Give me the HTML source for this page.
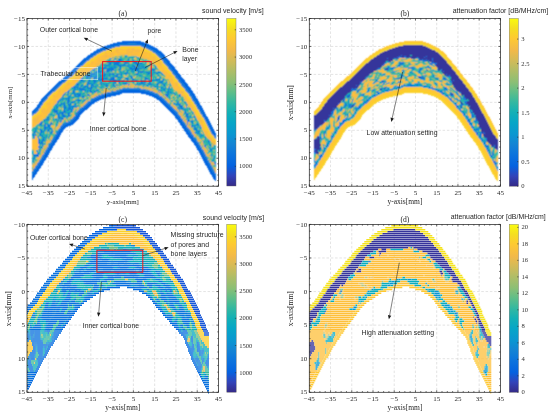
<!DOCTYPE html>
<html><head><meta charset="utf-8"><title>Bone imaging figure</title>
<style>html,body{margin:0;padding:0;background:#fff;}body{width:550px;height:417px;overflow:hidden;}svg{display:block;}</style>
</head><body>
<svg width="550" height="417" viewBox="0 0 550 417"><defs><linearGradient id="cbg" x1="0" y1="0" x2="0" y2="1"><stop offset="0" stop-color="#f9fb0e"/><stop offset="0.06" stop-color="#f5de21"/><stop offset="0.12" stop-color="#fec932"/><stop offset="0.19" stop-color="#f2b949"/><stop offset="0.25" stop-color="#d3bb58"/><stop offset="0.31" stop-color="#b1bd66"/><stop offset="0.38" stop-color="#8bbf75"/><stop offset="0.44" stop-color="#5ebe89"/><stop offset="0.5" stop-color="#33b8a1"/><stop offset="0.56" stop-color="#13b0b6"/><stop offset="0.62" stop-color="#06a6c7"/><stop offset="0.69" stop-color="#0a97d1"/><stop offset="0.75" stop-color="#1484d4"/><stop offset="0.81" stop-color="#0c74dd"/><stop offset="0.88" stop-color="#0462e0"/><stop offset="0.94" stop-color="#3243b9"/><stop offset="1" stop-color="#352a87"/></linearGradient><filter id="soft" x="-3%" y="-3%" width="106%" height="106%"><feConvolveMatrix order="3" kernelMatrix="1 2 1 2 6 2 1 2 1" divisor="18" edgeMode="none"/></filter><filter id="soft2" x="-3%" y="-3%" width="106%" height="106%"><feConvolveMatrix order="3" kernelMatrix="0 1 0 1 8 1 0 1 0" divisor="12" edgeMode="none"/></filter></defs><path d="M48.28 18.5V186.2M69.56 18.5V186.2M90.83 18.5V186.2M112.11 18.5V186.2M133.39 18.5V186.2M154.67 18.5V186.2M175.94 18.5V186.2M197.22 18.5V186.2M27 46.45H218.5M27 74.4H218.5M27 102.35H218.5M27 130.3H218.5M27 158.25H218.5" stroke="#d0d0d0" stroke-width="0.6" stroke-dasharray="2.5 1.8" fill="none"/>
<path d="M330.53 18.5V186.2M351.77 18.5V186.2M373 18.5V186.2M394.23 18.5V186.2M415.47 18.5V186.2M436.7 18.5V186.2M457.93 18.5V186.2M479.17 18.5V186.2M309.3 46.45H500.4M309.3 74.4H500.4M309.3 102.35H500.4M309.3 130.3H500.4M309.3 158.25H500.4" stroke="#d0d0d0" stroke-width="0.6" stroke-dasharray="2.5 1.8" fill="none"/>
<path d="M48.28 224.4V392.3M69.56 224.4V392.3M90.83 224.4V392.3M112.11 224.4V392.3M133.39 224.4V392.3M154.67 224.4V392.3M175.94 224.4V392.3M197.22 224.4V392.3M27 257.98H218.5M27 291.56H218.5M27 325.14H218.5M27 358.72H218.5" stroke="#d0d0d0" stroke-width="0.6" stroke-dasharray="2.5 1.8" fill="none"/>
<path d="M330.53 224.4V392.3M351.77 224.4V392.3M373 224.4V392.3M394.23 224.4V392.3M415.47 224.4V392.3M436.7 224.4V392.3M457.93 224.4V392.3M479.17 224.4V392.3M309.3 257.98H500.4M309.3 291.56H500.4M309.3 325.14H500.4M309.3 358.72H500.4" stroke="#d0d0d0" stroke-width="0.6" stroke-dasharray="2.5 1.8" fill="none"/>
<g stroke-width="1" fill="none" shape-rendering="crispEdges" filter="url(#soft)"><path stroke="#0363e1" d="M122 41.5h19M117 42.5h27M113 43.5h15M136 43.5h11M110 44.5h9M141 44.5h8M107 45.5h8M144 45.5h7M104 46.5h7M147 46.5h6M102 47.5h6M149 47.5h6M100 48.5h6M151 48.5h6M97 49.5h6M153 49.5h5M96 50.5h5M155 50.5h4M94 51.5h5M156 51.5h5M93 52.5h4M157 52.5h5M91 53.5h4M159 53.5h4M90 54.5h4M160 54.5h4M88 55.5h4M161 55.5h4M87 56.5h4M162 56.5h3M86 57.5h4M163 57.5h3M84 58.5h4M163 58.5h4M83 59.5h4M164 59.5h4M82 60.5h4M165 60.5h4M81 61.5h3M166 61.5h4M80 62.5h3M167 62.5h3M79 63.5h3M167 63.5h4M78 64.5h3M168 64.5h4M77 65.5h3M169 65.5h4M76 66.5h3M170 66.5h4M75 67.5h3M171 67.5h4M74 68.5h3M172 68.5h3M73 69.5h3M172 69.5h4M72 70.5h3M173 70.5h4M71 71.5h3M174 71.5h4M70 72.5h3M175 72.5h3M69 73.5h3M175 73.5h4M68 74.5h3M176 74.5h4M67 75.5h3M177 75.5h4M65 76.5h4M178 76.5h3M64 77.5h4M178 77.5h4M63 78.5h4M179 78.5h4M62 79.5h3M180 79.5h4M61 80.5h3M181 80.5h4M59 81.5h4M181 81.5h4M58 82.5h4M182 82.5h4M57 83.5h4M183 83.5h4M56 84.5h3M184 84.5h4M55 85.5h3M185 85.5h3M54 86.5h3M185 86.5h4M53 87.5h3M186 87.5h4M52 88.5h3M187 88.5h4M51 89.5h3M188 89.5h3M50 90.5h3M122 90.5h18M188 90.5h4M49 91.5h3M120 91.5h25M189 91.5h4M48 92.5h3M117 92.5h32M190 92.5h3M47 93.5h3M112 93.5h10M141 93.5h11M191 93.5h3M46 94.5h3M108 94.5h12M146 94.5h8M191 94.5h4M45 95.5h3M104 95.5h12M149 95.5h7M192 95.5h3M44 96.5h3M101 96.5h10M152 96.5h6M193 96.5h3M43 97.5h3M99 97.5h8M154 97.5h5M193 97.5h3M42 98.5h3M97 98.5h7M156 98.5h5M194 98.5h3M41 99.5h3M95 99.5h6M157 99.5h5M194 99.5h4M41 100.5h2M93 100.5h6M159 100.5h4M195 100.5h3M40 101.5h3M92 101.5h5M160 101.5h4M196 101.5h3M39 102.5h3M90 102.5h5M161 102.5h4M196 102.5h3M39 103.5h2M89 103.5h5M162 103.5h4M197 103.5h3M38 104.5h3M88 104.5h4M163 104.5h4M197 104.5h3M37 105.5h3M87 105.5h4M164 105.5h4M198 105.5h3M37 106.5h2M86 106.5h4M165 106.5h4M199 106.5h3M36 107.5h3M85 107.5h4M166 107.5h4M199 107.5h3M35 108.5h3M83 108.5h5M167 108.5h4M200 108.5h3M34 109.5h3M82 109.5h5M168 109.5h4M200 109.5h3M33 110.5h3M81 110.5h4M169 110.5h4M201 110.5h3M32 111.5h3M80 111.5h4M170 111.5h4M202 111.5h2M32 112.5h2M79 112.5h4M171 112.5h4M202 112.5h3M32 113.5h1M78 113.5h4M172 113.5h4M203 113.5h2M78 114.5h3M173 114.5h4M203 114.5h3M77 115.5h3M174 115.5h3M204 115.5h2M76 116.5h4M175 116.5h3M204 116.5h3M76 117.5h3M175 117.5h4M205 117.5h3M75 118.5h4M176 118.5h4M206 118.5h2M74 119.5h4M177 119.5h3M206 119.5h3M73 120.5h4M178 120.5h3M207 120.5h2M72 121.5h4M178 121.5h4M207 121.5h3M71 122.5h4M179 122.5h3M208 122.5h2M69 123.5h5M180 123.5h3M208 123.5h3M66 124.5h7M180 124.5h4M209 124.5h2M64 125.5h7M181 125.5h3M209 125.5h3M63 126.5h5M182 126.5h3M210 126.5h2M62 127.5h4M182 127.5h4M210 127.5h3M61 128.5h4M183 128.5h3M211 128.5h2M61 129.5h3M184 129.5h3M211 129.5h3M60 130.5h3M184 130.5h4M212 130.5h2M59 131.5h4M185 131.5h3M212 131.5h3M59 132.5h3M186 132.5h3M213 132.5h2M58 133.5h3M186 133.5h4M213 133.5h3M58 134.5h3M187 134.5h3M214 134.5h2M57 135.5h3M188 135.5h3M215 135.5h1M56 136.5h4M188 136.5h4M56 137.5h3M189 137.5h4M55 138.5h4M190 138.5h3M55 139.5h3M191 139.5h3M54 140.5h3M191 140.5h4M53 141.5h4M192 141.5h4M53 142.5h3M193 142.5h3M52 143.5h3M194 143.5h3M51 144.5h4M194 144.5h4M51 145.5h3M195 145.5h3M50 146.5h3M196 146.5h3M50 147.5h3M196 147.5h3M49 148.5h3M197 148.5h3M48 149.5h4M197 149.5h4M48 150.5h3M198 150.5h3M47 151.5h3M199 151.5h3M47 152.5h3M199 152.5h3M46 153.5h3M200 153.5h3M45 154.5h4M200 154.5h3M45 155.5h3M201 155.5h3M44 156.5h4M201 156.5h3M44 157.5h3M202 157.5h3M43 158.5h3M202 158.5h4M42 159.5h4M203 159.5h3M42 160.5h3M203 160.5h4M41 161.5h3M204 161.5h3M40 162.5h4M204 162.5h4M40 163.5h3M205 163.5h3M39 164.5h4M205 164.5h4M39 165.5h3M206 165.5h3M38 166.5h3M207 166.5h3M37 167.5h4M207 167.5h3M37 168.5h3M208 168.5h3M36 169.5h3M208 169.5h3M35 170.5h4M209 170.5h3M35 171.5h3M209 171.5h3M34 172.5h3M210 172.5h3M33 173.5h4M210 173.5h4M33 174.5h3M211 174.5h3M32 175.5h3M212 175.5h3M32 176.5h3M212 176.5h4M32 177.5h2M213 177.5h3M32 178.5h1M213 178.5h3M32 179.5h1M214 179.5h2M215 180.5h1"/><path stroke="#1078da" d="M129 57.5h1M133 57.5h1M138 57.5h1M110 58.5h1M115 58.5h1M119 59.5h2M109 60.5h1M118 60.5h4M128 60.5h1M132 60.5h2M111 61.5h3M116 61.5h4M133 61.5h3M145 61.5h1M107 62.5h4M114 62.5h6M125 62.5h3M134 62.5h3M109 63.5h2M114 63.5h5M125 63.5h3M134 63.5h4M139 63.5h3M104 64.5h2M109 64.5h2M114 64.5h5M123 64.5h2M136 64.5h3M106 65.5h3M117 65.5h5M127 65.5h1M132 65.5h3M137 65.5h2M99 66.5h1M114 66.5h1M120 66.5h1M128 66.5h1M133 66.5h2M138 66.5h1M142 66.5h2M146 66.5h1M155 66.5h1M96 67.5h1M99 67.5h1M102 67.5h4M112 67.5h1M114 67.5h3M120 67.5h1M131 67.5h1M134 67.5h4M144 67.5h2M94 68.5h1M98 68.5h3M104 68.5h2M108 68.5h6M120 68.5h1M129 68.5h4M134 68.5h8M144 68.5h1M92 69.5h1M98 69.5h1M103 69.5h1M107 69.5h7M118 69.5h3M131 69.5h2M135 69.5h4M152 69.5h1M154 69.5h2M93 70.5h2M98 70.5h2M102 70.5h1M106 70.5h4M111 70.5h2M114 70.5h1M127 70.5h2M132 70.5h1M136 70.5h2M150 70.5h1M153 70.5h2M90 71.5h1M96 71.5h2M101 71.5h1M106 71.5h3M111 71.5h1M120 71.5h1M123 71.5h1M131 71.5h1M133 71.5h1M138 71.5h3M142 71.5h1M158 71.5h1M90 72.5h1M94 72.5h1M96 72.5h2M99 72.5h3M103 72.5h1M126 72.5h1M138 72.5h1M140 72.5h3M146 72.5h5M154 72.5h2M158 72.5h3M91 73.5h4M103 73.5h1M105 73.5h1M109 73.5h2M112 73.5h2M121 73.5h1M124 73.5h4M136 73.5h2M148 73.5h2M156 73.5h2M161 73.5h1M90 74.5h7M99 74.5h1M104 74.5h1M107 74.5h1M112 74.5h2M117 74.5h5M136 74.5h2M147 74.5h1M162 74.5h1M86 75.5h6M96 75.5h1M100 75.5h1M104 75.5h1M109 75.5h1M115 75.5h3M134 75.5h1M152 75.5h1M83 76.5h1M86 76.5h7M94 76.5h4M100 76.5h1M103 76.5h2M109 76.5h1M116 76.5h2M130 76.5h2M150 76.5h1M82 77.5h1M86 77.5h3M90 77.5h2M94 77.5h3M99 77.5h1M112 77.5h3M118 77.5h2M121 77.5h1M131 77.5h1M145 77.5h1M81 78.5h1M86 78.5h2M90 78.5h1M93 78.5h3M97 78.5h3M102 78.5h5M110 78.5h5M125 78.5h4M131 78.5h2M145 78.5h3M159 78.5h1M80 79.5h3M89 79.5h1M94 79.5h1M97 79.5h2M101 79.5h3M105 79.5h2M109 79.5h6M119 79.5h1M127 79.5h2M132 79.5h2M145 79.5h4M152 79.5h1M156 79.5h1M158 79.5h2M163 79.5h1M79 80.5h4M93 80.5h3M99 80.5h4M110 80.5h1M112 80.5h4M118 80.5h2M122 80.5h2M132 80.5h5M148 80.5h1M151 80.5h2M154 80.5h4M162 80.5h2M84 81.5h1M88 81.5h2M94 81.5h2M113 81.5h3M118 81.5h2M122 81.5h1M141 81.5h2M144 81.5h1M149 81.5h2M161 81.5h2M94 82.5h1M100 82.5h3M115 82.5h1M119 82.5h1M126 82.5h1M133 82.5h1M141 82.5h2M145 82.5h2M149 82.5h1M159 82.5h3M166 82.5h1M76 83.5h1M79 83.5h1M87 83.5h1M90 83.5h1M93 83.5h1M100 83.5h1M113 83.5h3M119 83.5h1M123 83.5h5M137 83.5h1M139 83.5h4M148 83.5h3M158 83.5h1M162 83.5h1M76 84.5h3M87 84.5h3M92 84.5h1M97 84.5h1M101 84.5h1M106 84.5h1M123 84.5h1M126 84.5h1M128 84.5h1M136 84.5h1M144 84.5h2M149 84.5h1M151 84.5h1M157 84.5h2M163 84.5h2M170 84.5h1M77 85.5h2M81 85.5h1M85 85.5h1M88 85.5h1M91 85.5h3M105 85.5h3M113 85.5h1M117 85.5h1M128 85.5h1M135 85.5h1M139 85.5h1M147 85.5h1M163 85.5h2M73 86.5h4M81 86.5h1M84 86.5h2M87 86.5h1M91 86.5h1M94 86.5h2M106 86.5h2M115 86.5h1M143 86.5h1M147 86.5h1M154 86.5h2M157 86.5h2M165 86.5h1M72 87.5h3M76 87.5h1M80 87.5h1M83 87.5h3M87 87.5h2M90 87.5h3M103 87.5h1M169 87.5h1M74 88.5h1M77 88.5h1M79 88.5h4M88 88.5h4M152 88.5h1M161 88.5h1M164 88.5h1M168 88.5h2M74 89.5h2M77 89.5h1M79 89.5h7M90 89.5h2M170 89.5h1M68 90.5h1M73 90.5h1M79 90.5h1M82 90.5h1M84 90.5h2M87 90.5h1M90 90.5h1M159 90.5h3M165 90.5h1M168 90.5h1M67 91.5h2M73 91.5h2M87 91.5h1M90 91.5h2M94 91.5h3M160 91.5h1M167 91.5h2M170 91.5h1M65 92.5h1M68 92.5h1M73 92.5h2M87 92.5h1M90 92.5h2M95 92.5h1M159 92.5h1M167 92.5h1M173 92.5h1M64 93.5h1M74 93.5h1M77 93.5h1M80 93.5h1M168 93.5h1M170 93.5h2M63 94.5h2M67 94.5h1M71 94.5h1M74 94.5h7M87 94.5h2M165 94.5h4M175 94.5h1M179 94.5h1M63 95.5h1M70 95.5h1M74 95.5h2M78 95.5h2M87 95.5h3M165 95.5h3M62 96.5h1M69 96.5h1M77 96.5h3M82 96.5h3M166 96.5h2M179 96.5h2M61 97.5h1M68 97.5h2M82 97.5h2M167 97.5h1M177 97.5h1M63 98.5h1M65 98.5h4M72 98.5h1M60 99.5h1M62 99.5h1M68 99.5h2M77 99.5h2M58 100.5h2M62 100.5h1M68 100.5h2M76 100.5h1M78 100.5h3M84 100.5h1M176 100.5h1M182 100.5h1M57 101.5h2M67 101.5h3M72 101.5h2M57 102.5h1M64 102.5h1M67 102.5h2M71 102.5h3M178 102.5h1M184 102.5h2M61 103.5h1M63 103.5h2M70 103.5h1M75 103.5h1M177 103.5h2M55 104.5h1M60 104.5h2M64 104.5h1M68 104.5h3M74 104.5h2M174 104.5h1M176 104.5h1M178 104.5h1M180 104.5h1M187 104.5h1M55 105.5h1M59 105.5h2M64 105.5h1M68 105.5h2M73 105.5h2M179 105.5h3M186 105.5h1M56 106.5h1M63 106.5h1M69 106.5h1M71 106.5h3M76 106.5h2M180 106.5h3M186 106.5h1M56 107.5h2M64 107.5h3M68 107.5h2M72 107.5h2M75 107.5h2M177 107.5h1M179 107.5h4M54 108.5h1M57 108.5h1M64 108.5h2M68 108.5h3M181 108.5h2M185 108.5h1M189 108.5h2M53 109.5h2M64 109.5h1M68 109.5h6M178 109.5h2M181 109.5h2M53 110.5h5M64 110.5h1M67 110.5h2M71 110.5h2M184 110.5h1M54 111.5h4M64 111.5h2M71 111.5h1M54 112.5h1M56 112.5h2M60 112.5h3M64 112.5h1M70 112.5h1M184 112.5h2M59 113.5h1M61 113.5h2M67 113.5h3M184 113.5h1M186 113.5h2M192 113.5h1M48 114.5h1M57 114.5h3M62 114.5h1M68 114.5h2M186 114.5h2M58 115.5h2M62 115.5h4M68 115.5h2M186 115.5h2M58 116.5h2M62 116.5h4M68 116.5h2M186 116.5h2M190 116.5h1M194 116.5h1M47 117.5h2M53 117.5h1M59 117.5h3M186 117.5h1M190 117.5h1M194 117.5h1M47 118.5h1M58 118.5h2M61 118.5h3M66 118.5h1M188 118.5h1M44 119.5h1M47 119.5h1M56 119.5h1M58 119.5h1M62 119.5h1M186 119.5h1M188 119.5h1M196 119.5h1M44 120.5h1M46 120.5h1M58 120.5h1M61 120.5h1M187 120.5h3M196 120.5h1M41 121.5h1M58 121.5h1M60 121.5h2M187 121.5h2M191 121.5h2M40 122.5h2M51 122.5h1M60 122.5h1M187 122.5h1M191 122.5h1M39 123.5h3M45 123.5h1M50 123.5h2M187 123.5h1M193 123.5h1M197 123.5h1M39 124.5h3M45 124.5h1M47 124.5h2M50 124.5h1M187 124.5h1M197 124.5h1M44 125.5h2M47 125.5h2M50 125.5h1M57 125.5h1M191 125.5h1M195 125.5h1M197 125.5h2M200 125.5h1M44 126.5h2M48 126.5h2M191 126.5h4M44 127.5h2M48 127.5h2M194 127.5h2M197 127.5h1M200 127.5h1M35 128.5h1M37 128.5h1M44 128.5h2M49 128.5h2M194 128.5h2M35 129.5h1M40 129.5h2M44 129.5h2M49 129.5h1M52 129.5h1M194 129.5h3M35 130.5h1M40 130.5h2M44 130.5h1M47 130.5h2M52 130.5h1M196 130.5h2M199 130.5h1M35 131.5h1M40 131.5h2M43 131.5h1M51 131.5h1M198 131.5h1M35 132.5h1M40 132.5h2M51 132.5h1M195 132.5h1M198 132.5h1M33 133.5h1M40 133.5h1M51 133.5h1M195 133.5h1M197 133.5h2M32 134.5h2M35 134.5h1M39 134.5h2M201 134.5h1M33 135.5h1M35 135.5h1M40 135.5h1M34 136.5h1M42 136.5h1M46 136.5h1M49 136.5h1M199 136.5h2M205 136.5h1M34 137.5h1M38 137.5h1M44 137.5h1M46 137.5h1M205 137.5h1M33 138.5h1M38 138.5h1M43 138.5h1M205 138.5h1M38 139.5h2M42 139.5h2M38 140.5h2M42 140.5h2M208 140.5h2M38 141.5h2M41 141.5h2M45 141.5h1M203 141.5h1M208 141.5h1M38 142.5h2M41 142.5h2M208 142.5h1M38 143.5h2M41 143.5h2M42 144.5h1M44 144.5h1M209 144.5h2M42 145.5h1M204 145.5h2M209 145.5h2M38 146.5h2M41 146.5h1M204 146.5h2M38 147.5h2M41 147.5h1M39 148.5h1M42 148.5h1M209 148.5h1M212 148.5h1M39 149.5h1M211 149.5h1M36 150.5h1M210 150.5h2M37 151.5h1M37 152.5h1M37 153.5h2M35 154.5h4M211 154.5h1M34 155.5h5M34 156.5h1M36 156.5h3M34 157.5h1M33 158.5h2M213 158.5h1M33 159.5h1M213 159.5h1M33 160.5h1M214 163.5h1M215 164.5h1M215 165.5h1"/><path stroke="#137fd7" d="M128 43.5h8M119 44.5h22M115 45.5h29M111 46.5h9M141 46.5h6M108 47.5h7M143 47.5h6M106 48.5h6M146 48.5h5M103 49.5h6M148 49.5h5M101 50.5h5M150 50.5h5M99 51.5h4M152 51.5h4M97 52.5h4M153 52.5h4M95 53.5h4M155 53.5h4M94 54.5h3M156 54.5h4M92 55.5h4M157 55.5h4M91 56.5h3M126 56.5h1M158 56.5h4M90 57.5h3M137 57.5h1M159 57.5h4M88 58.5h3M160 58.5h3M87 59.5h3M121 59.5h1M128 59.5h1M161 59.5h3M86 60.5h3M127 60.5h1M162 60.5h3M84 61.5h3M146 61.5h1M163 61.5h3M83 62.5h3M163 62.5h4M82 63.5h3M164 63.5h3M81 64.5h3M129 64.5h1M165 64.5h3M80 65.5h3M104 65.5h1M114 65.5h1M122 65.5h2M149 65.5h1M166 65.5h3M79 66.5h2M135 66.5h1M139 66.5h1M167 66.5h3M78 67.5h2M111 67.5h1M168 67.5h3M77 68.5h2M103 68.5h1M106 68.5h2M133 68.5h1M142 68.5h1M168 68.5h4M76 69.5h2M151 69.5h1M153 69.5h1M169 69.5h3M75 70.5h2M135 70.5h1M138 70.5h1M170 70.5h3M74 71.5h3M141 71.5h1M171 71.5h3M73 72.5h3M95 72.5h1M98 72.5h1M153 72.5h1M172 72.5h3M72 73.5h3M172 73.5h3M71 74.5h3M100 74.5h1M109 74.5h1M173 74.5h3M70 75.5h3M103 75.5h1M114 75.5h1M151 75.5h1M174 75.5h3M69 76.5h3M115 76.5h1M175 76.5h3M68 77.5h2M111 77.5h1M160 77.5h1M175 77.5h3M67 78.5h2M82 78.5h1M107 78.5h1M176 78.5h3M65 79.5h3M99 79.5h2M157 79.5h1M177 79.5h3M64 80.5h3M89 80.5h1M111 80.5h1M141 80.5h1M178 80.5h3M63 81.5h3M82 81.5h1M90 81.5h1M97 81.5h1M116 81.5h1M123 81.5h1M136 81.5h1M159 81.5h1M178 81.5h3M62 82.5h3M81 82.5h1M87 82.5h1M95 82.5h1M179 82.5h3M61 83.5h2M77 83.5h1M88 83.5h1M91 83.5h1M94 83.5h1M103 83.5h1M161 83.5h1M180 83.5h3M59 84.5h3M100 84.5h1M104 84.5h1M113 84.5h1M181 84.5h3M58 85.5h3M82 85.5h1M114 85.5h1M181 85.5h4M57 86.5h3M78 86.5h1M86 86.5h1M93 86.5h1M113 86.5h1M169 86.5h1M182 86.5h3M56 87.5h3M77 87.5h1M96 87.5h1M183 87.5h3M55 88.5h3M83 88.5h1M122 88.5h19M157 88.5h1M184 88.5h3M54 89.5h3M97 89.5h1M119 89.5h27M164 89.5h1M168 89.5h1M185 89.5h3M53 90.5h3M96 90.5h1M98 90.5h1M116 90.5h6M140 90.5h10M164 90.5h1M185 90.5h3M52 91.5h3M111 91.5h9M145 91.5h8M158 91.5h1M186 91.5h3M51 92.5h2M92 92.5h1M107 92.5h10M149 92.5h6M187 92.5h3M50 93.5h2M83 93.5h2M104 93.5h8M152 93.5h5M188 93.5h3M49 94.5h2M68 94.5h1M101 94.5h7M154 94.5h5M180 94.5h1M189 94.5h2M48 95.5h2M98 95.5h6M156 95.5h4M179 95.5h1M189 95.5h3M47 96.5h2M75 96.5h2M96 96.5h5M158 96.5h4M190 96.5h3M46 97.5h2M73 97.5h1M94 97.5h5M159 97.5h4M191 97.5h2M45 98.5h3M60 98.5h1M69 98.5h1M92 98.5h5M161 98.5h3M191 98.5h3M44 99.5h3M59 99.5h1M91 99.5h4M162 99.5h3M192 99.5h2M43 100.5h3M67 100.5h1M77 100.5h1M90 100.5h3M163 100.5h3M192 100.5h3M43 101.5h2M88 101.5h4M164 101.5h3M178 101.5h1M193 101.5h3M42 102.5h2M58 102.5h1M87 102.5h3M165 102.5h3M194 102.5h2M41 103.5h2M67 103.5h1M86 103.5h3M166 103.5h3M194 103.5h3M41 104.5h2M63 104.5h1M85 104.5h3M167 104.5h3M195 104.5h2M40 105.5h2M65 105.5h1M84 105.5h3M168 105.5h3M178 105.5h1M196 105.5h2M39 106.5h2M64 106.5h1M83 106.5h3M169 106.5h3M196 106.5h3M39 107.5h2M81 107.5h4M170 107.5h3M178 107.5h1M197 107.5h2M38 108.5h2M80 108.5h3M171 108.5h3M197 108.5h3M37 109.5h2M79 109.5h3M172 109.5h3M190 109.5h1M198 109.5h2M36 110.5h3M63 110.5h1M66 110.5h1M78 110.5h3M173 110.5h3M199 110.5h2M35 111.5h3M63 111.5h1M77 111.5h3M174 111.5h3M199 111.5h3M34 112.5h3M55 112.5h1M59 112.5h1M63 112.5h1M65 112.5h1M76 112.5h3M175 112.5h3M193 112.5h1M200 112.5h2M33 113.5h3M57 113.5h1M65 113.5h1M76 113.5h2M176 113.5h2M200 113.5h3M32 114.5h2M56 114.5h1M63 114.5h1M75 114.5h3M177 114.5h2M188 114.5h1M201 114.5h2M32 115.5h1M75 115.5h2M177 115.5h3M202 115.5h2M48 116.5h1M74 116.5h2M178 116.5h3M188 116.5h2M202 116.5h2M58 117.5h1M64 117.5h1M73 117.5h3M179 117.5h2M187 117.5h1M203 117.5h2M48 118.5h1M72 118.5h3M180 118.5h2M204 118.5h2M45 119.5h1M48 119.5h1M61 119.5h1M71 119.5h3M180 119.5h3M204 119.5h2M48 120.5h1M56 120.5h1M70 120.5h3M181 120.5h2M205 120.5h2M68 121.5h4M182 121.5h2M205 121.5h2M57 122.5h1M65 122.5h6M182 122.5h3M206 122.5h2M63 123.5h6M183 123.5h2M206 123.5h2M44 124.5h1M51 124.5h1M57 124.5h1M62 124.5h4M184 124.5h2M196 124.5h1M207 124.5h2M41 125.5h1M49 125.5h1M61 125.5h3M184 125.5h3M207 125.5h2M60 126.5h3M185 126.5h2M200 126.5h1M208 126.5h2M37 127.5h1M46 127.5h1M60 127.5h2M186 127.5h2M208 127.5h2M51 128.5h1M59 128.5h2M186 128.5h3M209 128.5h2M48 129.5h1M58 129.5h3M187 129.5h3M209 129.5h2M58 130.5h2M188 130.5h2M210 130.5h2M42 131.5h1M47 131.5h1M57 131.5h2M188 131.5h3M199 131.5h1M210 131.5h2M34 132.5h1M52 132.5h1M56 132.5h3M189 132.5h3M196 132.5h1M211 132.5h2M56 133.5h2M190 133.5h2M211 133.5h2M55 134.5h3M190 134.5h3M199 134.5h1M212 134.5h2M42 135.5h1M55 135.5h2M191 135.5h3M213 135.5h2M54 136.5h2M192 136.5h2M214 136.5h2M43 137.5h1M53 137.5h3M193 137.5h2M214 137.5h2M53 138.5h2M193 138.5h3M215 138.5h1M52 139.5h3M194 139.5h3M205 139.5h1M51 140.5h3M195 140.5h2M51 141.5h2M196 141.5h2M50 142.5h3M196 142.5h3M40 143.5h1M49 143.5h3M197 143.5h2M49 144.5h2M198 144.5h2M48 145.5h3M198 145.5h3M48 146.5h2M199 146.5h2M47 147.5h3M199 147.5h3M212 147.5h1M47 148.5h2M200 148.5h2M46 149.5h2M201 149.5h2M45 150.5h3M201 150.5h3M45 151.5h2M202 151.5h2M44 152.5h3M202 152.5h3M44 153.5h2M203 153.5h2M43 154.5h2M203 154.5h3M33 155.5h1M42 155.5h3M204 155.5h2M42 156.5h2M204 156.5h3M41 157.5h3M205 157.5h2M41 158.5h2M206 158.5h2M40 159.5h2M206 159.5h2M39 160.5h3M207 160.5h2M32 161.5h1M39 161.5h2M207 161.5h2M38 162.5h2M208 162.5h2M215 162.5h1M37 163.5h3M208 163.5h3M215 163.5h1M37 164.5h2M209 164.5h2M36 165.5h3M209 165.5h3M35 166.5h3M210 166.5h2M35 167.5h2M210 167.5h3M34 168.5h3M211 168.5h2M33 169.5h3M211 169.5h3M33 170.5h2M212 170.5h2M32 171.5h3M212 171.5h3M32 172.5h2M213 172.5h2M32 173.5h1M214 173.5h2M32 174.5h1M214 174.5h2M215 175.5h1"/><path stroke="#1485d4" d="M124 62.5h1M143 64.5h1M124 65.5h1M139 65.5h1M106 66.5h1M109 66.5h1M127 66.5h1M119 67.5h1M130 67.5h1M114 68.5h1M93 69.5h2M134 69.5h1M98 71.5h1M143 71.5h1M100 73.5h1M116 73.5h1M139 75.5h2M100 77.5h1M132 77.5h1M120 78.5h1M126 79.5h1M145 80.5h1M93 81.5h1M160 81.5h1M80 82.5h1M88 82.5h1M144 82.5h1M150 82.5h1M108 83.5h1M157 83.5h1M137 84.5h1M152 84.5h1M96 86.5h1M153 86.5h1M78 87.5h1M100 87.5h1M162 87.5h1M75 88.5h1M165 88.5h1M98 89.5h1M74 90.5h1M81 90.5h1M93 90.5h1M73 93.5h1M167 93.5h1M174 93.5h1M174 94.5h1M80 95.5h1M62 97.5h1M66 99.5h1M169 99.5h1M83 101.5h1M172 101.5h1M177 102.5h1M62 103.5h1M174 103.5h1M175 104.5h1M179 104.5h1M179 106.5h1M63 107.5h1M70 107.5h1M177 108.5h1M179 111.5h1M63 113.5h1M50 114.5h1M61 114.5h1M67 116.5h1M55 119.5h1M191 120.5h2M44 121.5h1M47 129.5h1M34 131.5h1M52 131.5h1M34 135.5h1M202 135.5h1M49 137.5h1M46 138.5h1M44 139.5h1M203 142.5h1M39 144.5h1M214 145.5h1M214 146.5h1M215 148.5h1M40 151.5h1M211 155.5h1M211 156.5h1M211 161.5h1"/><path stroke="#118dd2" d="M126 55.5h1M118 59.5h1M101 63.5h1M124 63.5h1M141 64.5h1M101 65.5h1M125 65.5h1M119 66.5h1M141 66.5h1M129 67.5h1M143 67.5h1M155 67.5h1M99 69.5h1M133 69.5h1M99 71.5h1M104 71.5h1M104 73.5h1M138 73.5h1M126 74.5h1M148 74.5h1M152 74.5h1M157 74.5h1M105 75.5h1M142 76.5h1M93 77.5h1M106 77.5h1M101 78.5h1M121 78.5h1M88 79.5h1M103 80.5h1M116 80.5h1M83 81.5h1M143 81.5h1M116 85.5h1M156 87.5h1M161 87.5h1M102 88.5h1M163 89.5h1M89 90.5h1M168 92.5h1M68 93.5h1M85 100.5h1M57 103.5h1M56 104.5h1M70 105.5h1M65 106.5h1M74 106.5h1M186 107.5h1M184 109.5h1M189 109.5h1M186 112.5h1M42 122.5h1M192 122.5h1M39 125.5h1M192 125.5h1M201 127.5h1M49 131.5h1M37 132.5h1M41 135.5h1M46 135.5h1M201 135.5h1M44 140.5h1M210 148.5h1M33 154.5h1M215 154.5h1M214 156.5h1"/><path stroke="#0b95d2" d="M115 59.5h1M113 62.5h1M137 62.5h1M108 64.5h1M113 64.5h1M112 65.5h1M98 67.5h1M97 70.5h1M151 70.5h1M146 71.5h1M89 74.5h1M110 74.5h2M159 75.5h1M101 76.5h1M110 76.5h1M139 76.5h1M141 78.5h1M144 78.5h1M115 79.5h1M155 79.5h1M158 80.5h1M118 82.5h1M78 83.5h1M106 83.5h1M144 83.5h1M98 84.5h1M129 84.5h1M146 84.5h1M150 85.5h1M160 87.5h1M87 88.5h1M163 88.5h1M79 93.5h1M82 95.5h1M68 96.5h1M71 96.5h1M80 96.5h1M64 99.5h1M60 100.5h1M74 101.5h1M78 101.5h1M79 103.5h1M57 104.5h1M57 106.5h1M69 112.5h1M50 115.5h1M192 117.5h1M195 117.5h1M60 118.5h1M46 119.5h1M47 126.5h1M46 128.5h1M196 128.5h1M193 129.5h1M197 131.5h1M194 132.5h1M201 136.5h1M206 141.5h1M209 141.5h1M39 145.5h1M209 149.5h1M39 150.5h1M213 157.5h1M214 162.5h1"/><path stroke="#079ccf" d="M130 57.5h1M111 58.5h1M119 58.5h1M114 59.5h1M114 61.5h1M120 61.5h1M140 62.5h1M145 63.5h1M140 66.5h1M156 67.5h1M95 68.5h1M102 68.5h1M100 70.5h1M145 71.5h1M121 72.5h1M127 72.5h1M157 72.5h1M128 73.5h2M162 73.5h1M127 81.5h1M129 82.5h1M82 84.5h1M91 84.5h1M103 84.5h1M156 85.5h1M152 86.5h1M112 87.5h1M96 88.5h1M69 90.5h1M88 90.5h1M69 91.5h1M72 92.5h1M78 93.5h1M88 99.5h1M75 101.5h1M77 102.5h1M68 103.5h1M71 103.5h1M59 104.5h1M58 106.5h1M70 106.5h1M184 108.5h1M67 109.5h1M185 110.5h1M185 111.5h1M56 113.5h1M56 118.5h1M189 121.5h1M199 127.5h1M198 130.5h1M33 132.5h1M42 132.5h2M44 133.5h1M50 133.5h1M43 144.5h1M37 150.5h1M34 154.5h1M33 156.5h1M214 158.5h1M213 161.5h1"/><path stroke="#06a2cb" d="M108 61.5h1M111 63.5h1M126 65.5h1M128 65.5h1M126 68.5h1M152 70.5h1M105 71.5h1M109 71.5h1M106 72.5h1M144 72.5h1M152 72.5h1M96 73.5h1M88 74.5h1M105 74.5h1M121 75.5h1M93 76.5h1M155 77.5h1M83 79.5h1M162 79.5h1M92 81.5h1M96 81.5h1M117 81.5h1M145 81.5h1M108 82.5h1M139 82.5h1M162 82.5h1M89 83.5h1M142 84.5h2M150 84.5h1M156 84.5h1M148 85.5h1M80 86.5h1M102 86.5h2M75 87.5h1M162 88.5h1M93 89.5h1M80 90.5h1M72 91.5h1M170 92.5h1M67 95.5h1M169 97.5h1M63 99.5h1M176 103.5h1M56 105.5h1M71 107.5h1M186 110.5h1M52 114.5h1M53 115.5h1M195 116.5h1M53 118.5h1M47 127.5h1M50 129.5h1M197 129.5h1M50 132.5h1M199 133.5h1M33 136.5h1M34 138.5h1M44 138.5h1M32 151.5h1M210 151.5h1M32 152.5h1M32 153.5h1M213 160.5h1M212 161.5h1"/><path stroke="#06a7c5" d="M125 56.5h1M120 58.5h1M108 60.5h1M129 60.5h1M136 61.5h1M113 63.5h1M138 63.5h1M142 63.5h1M122 64.5h1M128 64.5h1M110 66.5h1M121 66.5h1M132 66.5h1M110 67.5h1M146 67.5h1M130 69.5h1M119 71.5h1M127 71.5h1M120 72.5h1M117 73.5h1M86 74.5h1M103 74.5h1M153 74.5h1M130 75.5h1M158 75.5h1M107 76.5h1M90 80.5h1M109 80.5h1M142 80.5h1M153 80.5h1M85 81.5h1M151 81.5h1M158 82.5h1M165 82.5h1M93 84.5h1M141 84.5h1M169 84.5h1M98 86.5h1M72 88.5h1M109 89.5h1M163 90.5h1M81 91.5h1M89 91.5h1M169 91.5h1M67 92.5h1M94 92.5h1M72 93.5h1M76 93.5h1M79 99.5h1M85 99.5h1M64 101.5h1M173 103.5h1M186 104.5h1M78 105.5h1M56 108.5h1M66 108.5h1M53 111.5h1M68 112.5h1M188 117.5h1M44 122.5h1M191 123.5h2M193 125.5h1M56 126.5h1M197 132.5h1M43 134.5h1M39 135.5h1M38 136.5h1M41 136.5h1M33 137.5h1M37 137.5h1M42 147.5h1M208 151.5h1M32 162.5h1"/><path stroke="#09acbe" d="M120 57.5h1M126 57.5h1M117 60.5h1M121 61.5h1M132 63.5h1M142 64.5h1M147 66.5h1M145 68.5h1M151 68.5h1M157 68.5h1M123 70.5h1M91 71.5h1M100 71.5h1M132 71.5h1M91 72.5h1M133 72.5h1M156 72.5h1M150 73.5h1M93 75.5h2M113 75.5h1M120 75.5h1M162 75.5h1M140 76.5h1M103 77.5h1M122 77.5h1M126 77.5h1M96 78.5h1M139 79.5h1M154 79.5h1M88 80.5h1M96 80.5h1M159 80.5h1M87 81.5h1M153 81.5h1M84 82.5h1M93 82.5h1M132 82.5h1M104 83.5h1M109 83.5h1M143 83.5h1M151 83.5h1M90 84.5h1M148 84.5h1M110 85.5h1M138 85.5h1M140 85.5h1M143 85.5h1M154 85.5h1M88 86.5h1M90 86.5h1M71 87.5h1M115 87.5h1M73 88.5h1M104 88.5h1M97 90.5h1M99 91.5h1M171 92.5h1M77 95.5h1M70 97.5h1M171 101.5h1M182 101.5h1M177 104.5h1M61 105.5h1M75 105.5h1M54 107.5h1M71 108.5h2M55 109.5h1M60 111.5h1M67 112.5h1M60 113.5h1M194 115.5h1M187 119.5h1M53 120.5h1M195 120.5h1M190 121.5h1M47 123.5h1M196 123.5h1M198 124.5h1M36 125.5h1M194 125.5h1M40 128.5h1M200 128.5h1M45 130.5h1M195 130.5h1M44 131.5h1M47 132.5h1M35 133.5h1M202 134.5h1M208 139.5h1M205 140.5h1M208 143.5h2M42 146.5h1M205 147.5h1M210 147.5h1M212 149.5h1M33 151.5h1M39 151.5h1M215 151.5h1"/><path stroke="#12afb7" d="M136 56.5h1M121 57.5h1M132 57.5h1M124 59.5h1M133 59.5h1M144 61.5h1M111 62.5h1M119 63.5h1M133 63.5h1M111 64.5h1M120 64.5h1M139 64.5h2M109 65.5h1M113 65.5h1M141 65.5h2M155 65.5h1M105 66.5h1M108 66.5h1M111 66.5h1M115 66.5h1M129 66.5h1M148 66.5h1M106 67.5h1M132 67.5h1M142 67.5h1M115 68.5h1M119 68.5h1M152 68.5h1M92 70.5h1M110 70.5h1M113 70.5h1M144 71.5h1M104 72.5h1M132 72.5h1M143 72.5h1M145 72.5h1M146 73.5h1M151 73.5h1M106 74.5h1M134 74.5h2M138 74.5h1M95 75.5h1M98 75.5h1M113 76.5h1M121 76.5h1M141 76.5h1M89 77.5h1M117 77.5h1M125 77.5h1M146 77.5h1M117 78.5h1M133 78.5h1M149 78.5h1M158 78.5h1M163 78.5h1M86 79.5h1M104 79.5h1M140 80.5h1M149 80.5h1M81 81.5h1M152 81.5h1M157 81.5h1M163 81.5h1M166 81.5h1M91 82.5h1M104 82.5h1M109 82.5h2M114 82.5h1M120 82.5h1M140 82.5h1M152 83.5h1M159 83.5h1M75 85.5h1M157 85.5h1M165 85.5h1M171 85.5h1M150 87.5h1M88 89.5h1M171 89.5h1M83 90.5h1M162 90.5h1M66 92.5h1M78 92.5h1M93 92.5h1M100 92.5h1M169 92.5h1M172 92.5h1M71 93.5h1M82 94.5h1M168 95.5h1M180 95.5h1M170 97.5h1M173 97.5h1M61 98.5h1M67 99.5h1M75 100.5h1M82 100.5h1M171 100.5h1M79 101.5h1M176 101.5h1M186 102.5h1M186 103.5h1M65 104.5h1M63 105.5h1M175 105.5h2M68 106.5h1M52 109.5h1M65 109.5h1M187 110.5h1M69 111.5h1M189 112.5h1M52 113.5h1M51 114.5h1M48 115.5h1M52 115.5h1M185 115.5h1M63 117.5h1M47 120.5h1M199 123.5h1M196 125.5h1M33 127.5h1M50 127.5h1M47 128.5h1M36 130.5h1M42 130.5h1M49 130.5h1M39 133.5h1M41 133.5h1M47 133.5h1M197 134.5h1M32 135.5h1M49 135.5h1M43 136.5h1M43 141.5h1M40 142.5h1M209 142.5h1M44 143.5h1M210 146.5h1M213 148.5h1M210 149.5h1M215 149.5h1M33 152.5h1M211 157.5h1M214 157.5h1M32 158.5h1"/><path stroke="#1eb3ae" d="M125 55.5h1M119 56.5h1M135 56.5h1M118 58.5h1M129 58.5h1M138 58.5h1M109 59.5h1M123 59.5h1M143 59.5h1M122 60.5h1M131 60.5h1M144 60.5h1M107 61.5h1M122 61.5h1M125 61.5h1M133 62.5h1M141 62.5h1M145 62.5h1M100 64.5h1M119 64.5h1M121 64.5h1M125 64.5h1M144 64.5h1M154 64.5h1M105 65.5h1M115 65.5h2M129 65.5h1M131 65.5h1M143 65.5h1M150 65.5h2M153 65.5h2M112 66.5h2M118 66.5h1M123 66.5h1M131 66.5h1M145 66.5h1M154 66.5h1M109 67.5h1M113 67.5h1M128 67.5h1M138 67.5h1M140 67.5h1M101 68.5h1M146 68.5h1M102 69.5h1M128 69.5h1M115 70.5h1M133 70.5h1M143 70.5h1M102 71.5h1M126 71.5h1M155 71.5h1M159 71.5h1M125 72.5h1M90 73.5h1M97 73.5h1M118 73.5h1M122 73.5h1M147 73.5h1M152 73.5h1M102 74.5h1M116 74.5h1M125 74.5h1M146 74.5h1M149 74.5h1M154 74.5h1M156 74.5h1M92 75.5h1M99 75.5h1M102 75.5h1M108 75.5h1M110 75.5h1M131 75.5h1M138 75.5h1M150 75.5h1M163 75.5h1M99 76.5h1M108 76.5h1M112 76.5h1M118 76.5h2M147 76.5h1M154 76.5h2M159 76.5h1M85 77.5h1M98 77.5h1M102 77.5h1M104 77.5h1M107 77.5h1M120 77.5h1M141 77.5h1M153 77.5h1M152 78.5h1M160 78.5h1M124 79.5h1M138 79.5h1M140 79.5h1M151 79.5h1M153 79.5h1M107 80.5h1M117 80.5h1M120 80.5h2M79 81.5h1M91 81.5h1M100 81.5h2M110 81.5h1M128 81.5h1M132 81.5h2M140 81.5h1M156 81.5h1M79 82.5h1M89 82.5h1M113 82.5h1M125 82.5h1M138 82.5h1M92 83.5h1M102 83.5h1M110 83.5h1M156 83.5h1M160 83.5h1M165 83.5h2M86 84.5h1M96 84.5h1M105 84.5h1M107 84.5h1M122 84.5h1M124 84.5h1M134 84.5h2M138 84.5h1M140 84.5h1M154 84.5h1M162 84.5h1M165 84.5h1M76 85.5h1M86 85.5h1M108 85.5h1M144 85.5h1M77 86.5h1M100 86.5h1M114 86.5h1M142 86.5h1M148 86.5h1M156 86.5h1M164 86.5h1M101 87.5h2M106 87.5h1M155 87.5h1M158 87.5h1M165 87.5h1M168 87.5h1M78 88.5h1M84 88.5h1M92 88.5h1M95 88.5h1M109 88.5h1M166 88.5h1M73 89.5h1M76 89.5h1M87 89.5h1M158 89.5h1M162 89.5h1M167 89.5h1M91 90.5h2M94 90.5h1M167 90.5h1M88 91.5h1M165 91.5h2M75 92.5h1M80 92.5h2M86 92.5h1M165 92.5h2M67 93.5h1M81 93.5h1M169 94.5h1M62 95.5h1M69 95.5h1M83 95.5h1M90 95.5h1M70 96.5h1M63 97.5h1M67 97.5h1M77 97.5h2M64 98.5h1M73 98.5h1M168 98.5h1M177 98.5h1M61 99.5h1M83 99.5h2M66 100.5h1M83 100.5h1M175 100.5h1M80 101.5h1M63 102.5h1M74 102.5h1M60 103.5h1M76 103.5h1M78 103.5h1M82 103.5h1M180 103.5h1M58 105.5h1M177 105.5h1M60 106.5h1M75 106.5h1M176 106.5h1M53 107.5h1M55 107.5h1M55 108.5h1M73 108.5h1M186 108.5h1M56 109.5h2M66 109.5h1M187 109.5h1M60 110.5h1M65 110.5h1M70 110.5h1M179 110.5h1M59 111.5h1M67 111.5h1M72 111.5h1M184 111.5h1M192 111.5h1M66 112.5h1M71 112.5h1M192 112.5h1M58 113.5h1M189 113.5h1M49 114.5h1M66 115.5h1M66 116.5h1M185 116.5h1M62 117.5h1M45 118.5h1M196 118.5h1M53 119.5h1M59 119.5h1M189 119.5h1M195 119.5h1M53 121.5h1M56 121.5h2M193 122.5h1M57 123.5h1M37 124.5h1M195 124.5h1M42 125.5h1M41 126.5h1M195 126.5h1M197 126.5h1M34 127.5h2M33 128.5h1M193 128.5h1M199 128.5h1M32 129.5h1M36 129.5h1M39 129.5h1M32 130.5h1M33 131.5h1M196 131.5h1M202 131.5h1M38 132.5h1M44 132.5h1M203 132.5h1M203 133.5h1M41 134.5h2M44 134.5h1M36 135.5h1M199 135.5h2M44 136.5h1M202 136.5h1M41 137.5h1M48 138.5h1M200 138.5h2M40 140.5h2M207 142.5h1M40 144.5h1M45 144.5h1M206 144.5h1M40 147.5h1M208 147.5h1M213 147.5h2M41 148.5h1M211 148.5h1M214 148.5h1M32 150.5h1M40 150.5h1M215 150.5h1M209 151.5h1M211 151.5h2M39 152.5h2M211 152.5h1M33 153.5h1M207 153.5h1M209 155.5h1M215 155.5h1M35 156.5h1M33 157.5h1M214 159.5h1M215 161.5h1"/><path stroke="#2bb6a6" d="M115 56.5h1M120 56.5h1M127 56.5h1M131 56.5h3M124 57.5h2M128 57.5h1M131 57.5h1M136 57.5h1M109 58.5h1M114 58.5h1M116 58.5h1M121 58.5h2M128 58.5h1M131 58.5h2M137 58.5h1M139 58.5h1M110 59.5h1M127 59.5h1M129 59.5h1M132 59.5h1M138 59.5h2M142 59.5h1M105 60.5h1M107 60.5h1M110 60.5h1M112 60.5h2M116 60.5h1M123 60.5h1M126 60.5h1M134 60.5h1M136 60.5h1M138 60.5h1M145 60.5h1M148 60.5h1M109 61.5h2M115 61.5h1M123 61.5h2M126 61.5h1M128 61.5h1M132 61.5h1M137 61.5h2M143 61.5h1M112 62.5h1M128 62.5h1M132 62.5h1M139 62.5h1M142 62.5h1M146 62.5h1M108 63.5h1M112 63.5h1M120 63.5h2M128 63.5h2M131 63.5h1M143 63.5h2M150 63.5h1M102 64.5h2M107 64.5h1M130 64.5h4M135 64.5h1M145 64.5h1M150 64.5h1M102 65.5h1M110 65.5h2M130 65.5h1M136 65.5h1M140 65.5h1M144 65.5h1M148 65.5h1M152 65.5h1M98 66.5h1M100 66.5h1M104 66.5h1M107 66.5h1M116 66.5h1M122 66.5h1M124 66.5h1M126 66.5h1M130 66.5h1M144 66.5h1M149 66.5h1M156 66.5h1M97 67.5h1M100 67.5h2M108 67.5h1M117 67.5h1M121 67.5h1M133 67.5h1M139 67.5h1M141 67.5h1M147 67.5h1M97 68.5h1M125 68.5h1M143 68.5h1M147 68.5h1M153 68.5h4M97 69.5h1M104 69.5h1M115 69.5h1M121 69.5h1M127 69.5h1M129 69.5h1M140 69.5h2M143 69.5h3M156 69.5h1M158 69.5h1M91 70.5h1M101 70.5h1M103 70.5h1M116 70.5h1M118 70.5h1M120 70.5h1M124 70.5h3M129 70.5h3M134 70.5h1M139 70.5h1M144 70.5h1M149 70.5h1M94 71.5h1M103 71.5h1M110 71.5h1M116 71.5h1M121 71.5h2M124 71.5h1M128 71.5h1M130 71.5h1M134 71.5h4M147 71.5h2M150 71.5h5M157 71.5h1M88 72.5h2M107 72.5h2M115 72.5h1M119 72.5h1M122 72.5h3M131 72.5h1M134 72.5h1M137 72.5h1M139 72.5h1M161 72.5h1M88 73.5h1M95 73.5h1M98 73.5h1M106 73.5h1M108 73.5h1M111 73.5h1M114 73.5h2M123 73.5h1M132 73.5h2M141 73.5h1M143 73.5h2M153 73.5h2M158 73.5h3M87 74.5h1M97 74.5h2M101 74.5h1M108 74.5h1M114 74.5h1M122 74.5h3M129 74.5h1M132 74.5h1M139 74.5h2M142 74.5h2M145 74.5h1M151 74.5h1M161 74.5h1M85 75.5h1M97 75.5h1M101 75.5h1M106 75.5h2M112 75.5h1M122 75.5h1M125 75.5h1M129 75.5h1M136 75.5h1M141 75.5h2M146 75.5h4M154 75.5h1M157 75.5h1M164 75.5h1M84 76.5h2M98 76.5h1M105 76.5h2M120 76.5h1M122 76.5h1M128 76.5h2M132 76.5h1M136 76.5h2M143 76.5h3M149 76.5h1M151 76.5h1M153 76.5h1M157 76.5h2M160 76.5h1M83 77.5h1M92 77.5h1M101 77.5h1M105 77.5h1M116 77.5h1M123 77.5h2M127 77.5h2M130 77.5h1M144 77.5h1M148 77.5h2M152 77.5h1M154 77.5h1M156 77.5h1M161 77.5h1M83 78.5h1M85 78.5h1M88 78.5h2M100 78.5h1M108 78.5h1M118 78.5h2M142 78.5h1M148 78.5h1M150 78.5h1M153 78.5h1M155 78.5h2M164 78.5h1M85 79.5h1M87 79.5h1M90 79.5h1M92 79.5h2M95 79.5h1M107 79.5h2M116 79.5h3M120 79.5h1M125 79.5h1M129 79.5h1M134 79.5h4M141 79.5h1M144 79.5h1M149 79.5h1M160 79.5h1M165 79.5h1M83 80.5h3M91 80.5h2M97 80.5h2M106 80.5h1M108 80.5h1M124 80.5h1M126 80.5h1M128 80.5h1M131 80.5h1M137 80.5h1M143 80.5h2M150 80.5h1M160 80.5h1M164 80.5h1M78 81.5h1M80 81.5h1M86 81.5h1M98 81.5h2M109 81.5h1M112 81.5h1M121 81.5h1M124 81.5h1M126 81.5h1M131 81.5h1M138 81.5h1M154 81.5h1M158 81.5h1M77 82.5h1M82 82.5h2M90 82.5h1M92 82.5h1M96 82.5h1M103 82.5h1M105 82.5h3M111 82.5h2M122 82.5h3M134 82.5h1M136 82.5h2M143 82.5h1M157 82.5h1M164 82.5h1M167 82.5h1M80 83.5h2M95 83.5h2M101 83.5h1M105 83.5h1M107 83.5h1M112 83.5h1M116 83.5h1M120 83.5h1M122 83.5h1M133 83.5h1M136 83.5h1M138 83.5h1M147 83.5h1M153 83.5h2M163 83.5h2M170 83.5h1M75 84.5h1M79 84.5h1M81 84.5h1M94 84.5h2M102 84.5h1M108 84.5h1M111 84.5h2M114 84.5h1M117 84.5h1M120 84.5h1M125 84.5h1M139 84.5h1M147 84.5h1M153 84.5h1M80 85.5h1M83 85.5h1M87 85.5h1M95 85.5h3M100 85.5h5M111 85.5h2M118 85.5h4M146 85.5h1M151 85.5h1M153 85.5h1M161 85.5h1M167 85.5h1M82 86.5h2M92 86.5h1M97 86.5h1M99 86.5h1M101 86.5h1M105 86.5h1M110 86.5h1M112 86.5h1M119 86.5h1M151 86.5h1M159 86.5h5M79 87.5h1M82 87.5h1M86 87.5h1M89 87.5h1M93 87.5h3M99 87.5h1M110 87.5h2M151 87.5h1M154 87.5h1M157 87.5h1M163 87.5h1M172 87.5h1M71 88.5h1M85 88.5h2M94 88.5h1M100 88.5h2M108 88.5h1M110 88.5h2M158 88.5h1M160 88.5h1M167 88.5h1M170 88.5h1M172 88.5h1M70 89.5h2M78 89.5h1M86 89.5h1M89 89.5h1M96 89.5h1M99 89.5h1M102 89.5h1M108 89.5h1M156 89.5h2M159 89.5h3M165 89.5h1M169 89.5h1M172 89.5h1M75 90.5h2M78 90.5h1M86 90.5h1M95 90.5h1M158 90.5h1M169 90.5h4M79 91.5h2M84 91.5h3M92 91.5h2M100 91.5h1M161 91.5h2M171 91.5h2M176 91.5h1M77 92.5h1M84 92.5h2M97 92.5h1M99 92.5h1M161 92.5h2M174 92.5h1M176 92.5h1M65 93.5h1M75 93.5h1M82 93.5h1M93 93.5h1M97 93.5h1M169 93.5h1M173 93.5h1M176 93.5h1M66 94.5h1M70 94.5h1M72 94.5h2M81 94.5h1M83 94.5h1M85 94.5h1M89 94.5h1M92 94.5h1M164 94.5h1M172 94.5h1M177 94.5h1M64 95.5h1M66 95.5h1M68 95.5h1M76 95.5h1M84 95.5h2M169 95.5h2M177 95.5h2M63 96.5h1M72 96.5h3M81 96.5h1M168 96.5h2M173 96.5h1M178 96.5h1M64 97.5h1M66 97.5h1M71 97.5h2M74 97.5h3M79 97.5h1M81 97.5h1M84 97.5h1M87 97.5h1M168 97.5h1M172 97.5h1M176 97.5h1M178 97.5h1M181 97.5h1M183 97.5h1M62 98.5h1M70 98.5h2M78 98.5h1M83 98.5h1M86 98.5h2M169 98.5h2M174 98.5h1M178 98.5h1M181 98.5h2M65 99.5h1M75 99.5h2M80 99.5h2M176 99.5h1M181 99.5h2M74 100.5h1M81 100.5h1M170 100.5h1M172 100.5h1M174 100.5h1M177 100.5h1M179 100.5h1M59 101.5h1M61 101.5h1M70 101.5h2M77 101.5h1M82 101.5h1M84 101.5h1M177 101.5h1M183 101.5h3M60 102.5h2M70 102.5h1M75 102.5h1M78 102.5h2M82 102.5h2M173 102.5h1M181 102.5h1M58 103.5h1M65 103.5h2M69 103.5h1M72 103.5h1M74 103.5h1M77 103.5h1M175 103.5h1M179 103.5h1M182 103.5h1M185 103.5h1M58 104.5h1M62 104.5h1M67 104.5h1M71 104.5h1M78 104.5h1M173 104.5h1M183 104.5h1M54 105.5h1M57 105.5h1M66 105.5h1M71 105.5h2M76 105.5h2M182 105.5h1M54 106.5h2M61 106.5h1M66 106.5h1M78 106.5h1M58 107.5h1M60 107.5h2M67 107.5h1M74 107.5h1M189 107.5h1M52 108.5h2M61 108.5h1M67 108.5h1M178 108.5h3M183 108.5h1M187 108.5h2M61 109.5h1M63 109.5h1M180 109.5h1M183 109.5h1M185 109.5h2M51 110.5h2M58 110.5h2M61 110.5h1M69 110.5h1M183 110.5h1M188 110.5h1M190 110.5h2M51 111.5h2M61 111.5h2M66 111.5h1M68 111.5h1M70 111.5h1M191 111.5h1M52 112.5h1M58 112.5h1M181 112.5h1M188 112.5h1M190 112.5h2M49 113.5h3M54 113.5h1M66 113.5h1M70 113.5h1M185 113.5h1M188 113.5h1M193 113.5h1M54 114.5h1M64 114.5h1M183 114.5h1M192 114.5h1M194 114.5h1M54 115.5h1M61 115.5h1M67 115.5h1M70 115.5h1M190 115.5h2M47 116.5h1M49 116.5h1M53 116.5h2M57 116.5h1M60 116.5h2M191 116.5h1M193 116.5h1M49 117.5h1M57 117.5h1M66 117.5h3M189 117.5h1M191 117.5h1M193 117.5h1M46 118.5h1M50 118.5h1M52 118.5h1M55 118.5h1M67 118.5h1M186 118.5h1M189 118.5h2M192 118.5h1M194 118.5h2M43 119.5h1M49 119.5h1M54 119.5h1M60 119.5h1M63 119.5h1M192 119.5h1M43 120.5h1M45 120.5h1M49 120.5h1M54 120.5h1M60 120.5h1M64 120.5h1M193 120.5h2M197 120.5h1M43 121.5h1M45 121.5h2M48 121.5h1M193 121.5h1M196 121.5h1M198 121.5h1M45 122.5h3M50 122.5h1M56 122.5h1M190 122.5h1M197 122.5h2M42 123.5h1M44 123.5h1M46 123.5h1M48 123.5h1M56 123.5h1M198 123.5h1M38 124.5h1M46 124.5h1M49 124.5h1M52 124.5h1M55 124.5h2M191 124.5h2M194 124.5h1M37 125.5h1M40 125.5h1M43 125.5h1M55 125.5h2M189 125.5h1M199 125.5h1M35 126.5h2M40 126.5h1M42 126.5h1M46 126.5h1M50 126.5h1M198 126.5h1M36 127.5h1M43 127.5h1M191 127.5h1M196 127.5h1M198 127.5h1M34 128.5h1M36 128.5h1M43 128.5h1M48 128.5h1M197 128.5h1M201 128.5h1M33 129.5h2M37 129.5h2M42 129.5h1M46 129.5h1M51 129.5h1M33 130.5h2M43 130.5h1M51 130.5h1M194 130.5h1M200 130.5h1M36 131.5h2M48 131.5h1M53 131.5h1M195 131.5h1M200 131.5h1M49 132.5h1M199 132.5h2M37 133.5h1M42 133.5h2M49 133.5h1M196 133.5h1M200 133.5h2M45 134.5h3M49 134.5h3M198 134.5h1M200 134.5h1M203 134.5h2M43 135.5h3M47 135.5h1M50 135.5h1M203 135.5h1M37 136.5h1M45 136.5h1M47 136.5h1M50 136.5h1M198 136.5h1M203 136.5h2M42 137.5h1M45 137.5h1M48 137.5h1M200 137.5h1M203 137.5h2M206 137.5h1M41 138.5h2M45 138.5h1M40 139.5h2M48 139.5h1M201 139.5h1M207 139.5h1M45 140.5h1M202 140.5h3M206 140.5h2M40 141.5h1M205 141.5h1M207 141.5h1M210 141.5h1M45 142.5h1M205 142.5h2M43 143.5h1M203 143.5h1M205 143.5h1M207 143.5h1M41 144.5h1M204 144.5h1M207 144.5h2M206 145.5h1M211 145.5h1M215 145.5h1M40 146.5h1M208 146.5h1M215 146.5h1M209 147.5h1M40 148.5h1M206 148.5h1M40 149.5h1M207 149.5h1M214 149.5h1M212 150.5h1M36 151.5h1M38 152.5h1M208 152.5h1M212 152.5h1M214 152.5h2M208 153.5h1M211 153.5h2M215 153.5h1M32 154.5h1M212 154.5h2M210 155.5h1M212 155.5h1M214 155.5h1M213 156.5h1M215 156.5h1M32 157.5h1M35 157.5h2M215 157.5h1M35 158.5h1M215 158.5h1M32 159.5h1M34 159.5h2M212 159.5h1M32 160.5h1M35 160.5h1M211 160.5h2M214 160.5h1M33 161.5h1M214 161.5h1M33 162.5h2M32 163.5h1M32 164.5h1M213 165.5h1M215 166.5h1"/><path stroke="#3bb99c" d="M121 56.5h1M124 56.5h1M130 56.5h1M134 57.5h1M122 59.5h1M146 59.5h1M106 60.5h1M130 60.5h1M137 60.5h1M143 60.5h1M129 61.5h1M147 61.5h2M150 61.5h1M106 62.5h1M129 62.5h1M146 63.5h1M106 64.5h1M103 65.5h1M101 66.5h1M125 66.5h1M137 66.5h1M100 69.5h1M106 69.5h1M126 69.5h1M139 69.5h1M157 69.5h1M119 70.5h1M142 70.5h1M95 71.5h1M115 71.5h1M149 71.5h1M109 72.5h1M128 72.5h1M107 73.5h1M119 73.5h2M130 73.5h1M135 73.5h1M140 73.5h1M155 73.5h1M141 74.5h1M144 74.5h1M158 74.5h1M163 74.5h1M84 75.5h1M126 75.5h1M114 76.5h1M146 76.5h1M148 76.5h1M110 77.5h1M136 77.5h1M159 77.5h1M135 78.5h1M157 78.5h1M96 79.5h1M164 79.5h1M168 79.5h1M104 80.5h1M127 80.5h1M161 80.5h1M166 80.5h1M130 81.5h1M97 82.5h1M121 82.5h1M148 82.5h1M163 82.5h1M169 82.5h1M83 83.5h1M118 83.5h1M83 84.5h1M116 84.5h1M121 84.5h1M166 84.5h1M79 85.5h1M90 85.5h1M98 85.5h1M149 85.5h1M155 85.5h1M158 85.5h1M170 85.5h1M150 86.5h1M107 87.5h1M114 87.5h1M116 87.5h1M159 87.5h1M166 87.5h1M76 88.5h1M171 88.5h1M72 89.5h1M94 89.5h1M173 89.5h1M70 90.5h1M72 90.5h1M173 90.5h1M97 91.5h2M163 91.5h1M71 92.5h1M83 92.5h1M98 92.5h1M92 93.5h1M165 93.5h1M172 93.5h1M84 94.5h1M175 95.5h1M85 96.5h2M176 96.5h1M182 96.5h1M72 99.5h1M86 99.5h1M174 99.5h1M180 99.5h1M183 99.5h2M61 100.5h1M63 100.5h1M65 100.5h1M60 101.5h1M65 101.5h1M69 102.5h1M56 103.5h1M184 103.5h1M76 104.5h1M185 104.5h1M62 105.5h1M67 105.5h1M53 106.5h1M183 107.5h2M187 107.5h1M63 108.5h1M186 111.5h1M188 111.5h1M50 112.5h1M53 112.5h1M72 112.5h1M53 114.5h1M67 114.5h1M184 114.5h2M190 114.5h1M51 115.5h1M52 116.5h1M184 116.5h1M187 118.5h1M57 119.5h1M55 120.5h1M57 120.5h1M42 121.5h1M47 121.5h1M53 122.5h1M52 123.5h1M53 124.5h1M189 124.5h1M193 124.5h1M37 126.5h1M55 126.5h1M40 127.5h1M199 129.5h1M201 129.5h1M45 131.5h1M32 133.5h1M34 133.5h1M52 133.5h1M34 134.5h1M48 134.5h1M38 135.5h1M32 136.5h1M40 136.5h1M201 137.5h2M39 138.5h1M206 138.5h1M46 139.5h1M204 139.5h1M46 140.5h1M44 141.5h1M204 141.5h1M204 142.5h1M206 143.5h1M210 143.5h1M211 144.5h1M207 145.5h1M39 153.5h1M39 154.5h1M34 161.5h1"/><path stroke="#4cbc92" d="M134 56.5h1M123 58.5h1M125 58.5h1M127 58.5h1M111 60.5h1M135 60.5h1M127 61.5h1M149 61.5h1M120 62.5h1M123 63.5h1M147 65.5h1M117 66.5h1M96 68.5h1M116 68.5h1M121 68.5h1M101 69.5h1M116 69.5h1M125 69.5h1M146 69.5h1M95 70.5h1M160 71.5h1M114 72.5h1M129 72.5h1M151 72.5h1M87 73.5h1M139 73.5h1M145 73.5h1M133 74.5h1M150 74.5h1M111 75.5h1M128 75.5h1M137 75.5h1M102 76.5h1M156 76.5h1M164 76.5h1M97 77.5h1M147 77.5h1M130 78.5h1M130 79.5h1M150 79.5h1M165 80.5h1M105 81.5h1M111 81.5h1M148 81.5h1M78 82.5h1M130 82.5h1M86 83.5h1M121 83.5h1M155 83.5h1M119 84.5h1M168 84.5h1M115 85.5h1M137 85.5h1M108 86.5h1M145 86.5h2M118 87.5h1M124 87.5h1M127 87.5h2M134 87.5h1M137 87.5h2M171 87.5h1M106 88.5h2M113 88.5h1M119 88.5h1M156 88.5h1M112 89.5h1M115 89.5h1M117 89.5h1M147 89.5h1M77 90.5h1M101 90.5h2M110 90.5h1M112 90.5h1M164 91.5h1M79 92.5h1M88 92.5h1M175 92.5h1M70 93.5h1M86 93.5h2M102 93.5h1M157 93.5h1M162 93.5h1M166 93.5h1M175 93.5h1M177 93.5h1M99 94.5h1M176 94.5h1M71 95.5h1M81 95.5h1M163 95.5h1M174 95.5h1M89 96.5h1M170 96.5h1M65 97.5h1M90 97.5h1M165 97.5h1M182 97.5h1M91 98.5h1M165 98.5h1M171 98.5h1M70 99.5h1M90 99.5h1M177 99.5h1M173 100.5h1M181 100.5h1M183 100.5h1M62 101.5h1M62 102.5h1M65 102.5h1M170 102.5h1M81 103.5h1M170 103.5h2M170 104.5h1M59 106.5h1M79 106.5h2M79 107.5h1M79 108.5h1M51 109.5h1M75 109.5h2M188 109.5h1M75 110.5h2M74 111.5h2M180 111.5h1M187 111.5h1M51 112.5h1M74 112.5h2M74 113.5h2M190 113.5h1M71 114.5h1M74 114.5h1M55 115.5h1M57 115.5h1M71 115.5h1M183 115.5h1M188 115.5h1M46 117.5h1M65 117.5h1M49 118.5h1M183 118.5h1M50 119.5h1M52 119.5h1M67 119.5h1M69 119.5h2M65 120.5h1M67 120.5h2M54 121.5h1M59 121.5h1M64 121.5h2M194 121.5h1M58 122.5h1M63 122.5h2M55 123.5h1M58 123.5h1M62 123.5h1M185 123.5h1M32 128.5h1M55 130.5h3M190 130.5h1M202 130.5h1M32 131.5h1M55 131.5h2M55 132.5h1M52 134.5h3M52 135.5h3M204 135.5h1M48 136.5h1M53 136.5h1M195 137.5h1M49 138.5h1M52 138.5h1M196 138.5h1M199 138.5h1M45 139.5h1M201 141.5h1M199 142.5h2M210 142.5h1M45 143.5h1M48 143.5h1M200 143.5h1M48 144.5h1M205 144.5h1M202 145.5h1M43 146.5h1M202 146.5h1M211 146.5h1M215 147.5h1M38 149.5h1M213 149.5h1M209 150.5h1M43 151.5h1M213 151.5h1M209 152.5h2M213 152.5h1M40 154.5h1M213 155.5h1M207 157.5h2M208 158.5h1M210 158.5h1M36 159.5h1M210 159.5h2M36 160.5h1M209 160.5h1M34 163.5h1M214 165.5h1M213 166.5h2M32 167.5h1M32 168.5h1"/><path stroke="#5fbe88" d="M112 57.5h1M117 58.5h1M124 58.5h1M133 58.5h1M107 59.5h2M125 59.5h1M137 59.5h1M141 59.5h1M139 60.5h1M138 62.5h1M150 62.5h1M102 63.5h1M134 64.5h1M149 64.5h1M99 65.5h1M135 65.5h1M145 65.5h1M103 66.5h1M107 67.5h1M125 67.5h2M118 68.5h1M127 68.5h2M140 70.5h1M148 70.5h1M93 71.5h1M93 72.5h1M112 72.5h1M99 73.5h1M101 73.5h1M134 73.5h1M128 74.5h1M155 74.5h1M133 75.5h1M111 76.5h1M138 76.5h1M152 76.5h1M115 77.5h1M139 77.5h2M142 77.5h2M84 78.5h1M109 78.5h1M134 78.5h1M161 78.5h1M166 79.5h1M120 81.5h1M125 81.5h1M135 81.5h1M137 81.5h1M155 81.5h1M169 81.5h1M128 82.5h1M99 83.5h1M111 83.5h1M132 83.5h1M145 83.5h1M80 84.5h1M99 84.5h1M155 84.5h1M161 84.5h1M74 85.5h1M84 85.5h1M94 85.5h1M124 85.5h1M152 85.5h1M169 85.5h1M111 86.5h1M81 87.5h1M104 87.5h1M164 87.5h1M93 88.5h1M92 89.5h1M166 89.5h1M103 90.5h1M82 91.5h1M76 92.5h1M82 92.5h1M69 93.5h1M163 93.5h1M65 94.5h1M163 94.5h1M86 95.5h1M176 95.5h1M67 96.5h1M86 97.5h1M88 97.5h1M174 97.5h1M88 98.5h1M70 100.5h2M178 100.5h1M175 101.5h1M66 102.5h1M176 102.5h1M79 105.5h1M183 105.5h1M187 105.5h1M67 106.5h1M178 106.5h1M58 109.5h1M60 109.5h1M58 111.5h1M60 114.5h1M65 114.5h1M191 114.5h1M60 115.5h1M189 115.5h1M50 116.5h1M70 116.5h1M52 120.5h1M197 121.5h1M43 122.5h1M196 122.5h1M53 123.5h1M199 124.5h1M38 125.5h1M39 126.5h1M43 126.5h1M199 126.5h1M51 127.5h1M39 128.5h1M42 128.5h1M52 128.5h1M43 129.5h1M50 131.5h1M196 134.5h1M206 139.5h1M43 142.5h1M204 143.5h1M40 145.5h1M43 145.5h1M206 147.5h1M44 149.5h1M214 151.5h1M40 153.5h1"/><path stroke="#72bf80" d="M116 56.5h1M129 56.5h1M127 57.5h1M139 57.5h1M126 58.5h1M130 58.5h1M145 59.5h1M125 60.5h1M142 60.5h1M147 60.5h1M130 61.5h1M142 61.5h1M123 62.5h1M149 62.5h1M152 62.5h1M104 63.5h2M122 63.5h1M149 63.5h1M151 63.5h1M101 64.5h1M112 64.5h1M127 64.5h1M100 65.5h1M146 65.5h1M97 66.5h1M123 67.5h1M127 67.5h1M148 67.5h1M150 68.5h1M95 69.5h1M105 69.5h1M114 69.5h1M142 69.5h1M150 69.5h1M141 70.5h1M146 70.5h2M112 71.5h1M118 71.5h1M129 71.5h1M89 73.5h1M142 73.5h1M115 74.5h1M130 74.5h1M159 74.5h1M118 75.5h1M135 75.5h1M145 75.5h1M153 75.5h1M123 76.5h1M127 76.5h1M165 76.5h1M84 77.5h1M108 77.5h1M129 77.5h1M135 77.5h1M138 77.5h1M151 77.5h1M137 78.5h2M102 81.5h1M104 81.5h1M108 81.5h1M129 81.5h1M116 82.5h1M127 82.5h1M131 82.5h1M147 82.5h1M151 82.5h4M134 83.5h1M160 85.5h1M166 85.5h1M104 86.5h1M170 86.5h1M98 87.5h1M105 87.5h1M117 87.5h1M95 89.5h1M174 90.5h1M173 91.5h1M175 91.5h1M89 92.5h1M91 93.5h1M93 94.5h1M170 94.5h2M65 95.5h1M73 95.5h1M171 95.5h1M174 96.5h1M177 96.5h1M179 97.5h1M77 98.5h1M79 98.5h1M173 98.5h1M71 99.5h1M179 99.5h1M63 101.5h1M66 101.5h1M81 101.5h1M59 102.5h1M81 102.5h1M182 102.5h1M73 103.5h1M182 104.5h1M62 107.5h1M59 109.5h1M182 110.5h1M64 113.5h1M49 115.5h1M46 116.5h1M51 116.5h1M185 119.5h1M194 119.5h1M59 120.5h1M51 121.5h1M48 122.5h1M195 122.5h1M42 124.5h2M196 126.5h1M41 127.5h1M55 127.5h1M193 127.5h1M38 128.5h1M41 128.5h1M37 130.5h1M39 130.5h1M201 131.5h1M36 132.5h1M39 132.5h1M38 133.5h1M46 133.5h1M197 135.5h2M39 136.5h1M47 137.5h1M199 137.5h1M32 138.5h1M202 138.5h1M207 138.5h1M209 146.5h1M213 146.5h1M208 148.5h1M41 150.5h1M208 150.5h1M210 154.5h1M212 158.5h1M215 160.5h1M215 167.5h1"/><path stroke="#85bf78" d="M121 55.5h1M124 55.5h1M118 56.5h1M114 57.5h1M122 57.5h2M136 58.5h1M140 58.5h2M116 59.5h1M126 59.5h1M134 59.5h1M141 60.5h1M102 62.5h1M143 62.5h1M106 63.5h2M126 64.5h1M146 64.5h1M151 64.5h1M122 67.5h1M151 67.5h1M154 67.5h1M117 68.5h1M123 68.5h2M117 69.5h1M123 69.5h1M147 69.5h1M96 70.5h1M117 70.5h1M145 70.5h1M114 71.5h1M92 72.5h1M110 72.5h2M130 72.5h1M131 73.5h1M133 76.5h2M109 77.5h1M137 77.5h1M150 77.5h1M163 77.5h1M122 78.5h1M140 78.5h1M154 78.5h1M162 78.5h1M84 79.5h1M121 79.5h1M131 79.5h1M87 80.5h1M105 80.5h1M138 80.5h1M134 81.5h1M146 81.5h1M82 83.5h1M84 83.5h1M97 83.5h1M109 84.5h1M167 84.5h1M141 85.5h2M145 85.5h1M162 85.5h1M79 86.5h1M168 86.5h1M97 87.5h1M113 87.5h1M69 89.5h1M99 90.5h1M166 90.5h1M75 91.5h1M69 92.5h2M164 92.5h1M177 92.5h1M94 93.5h1M178 94.5h1M172 96.5h1M175 97.5h1M180 97.5h1M74 98.5h1M81 98.5h1M172 98.5h1M175 98.5h1M170 99.5h1M178 99.5h1M64 100.5h1M73 100.5h1M76 101.5h1M179 101.5h1M76 102.5h1M174 102.5h1M183 102.5h1M181 103.5h1M183 103.5h1M177 106.5h1M58 108.5h1M55 113.5h1M183 113.5h1M55 114.5h1M66 114.5h1M189 114.5h1M193 114.5h1M50 117.5h1M54 118.5h1M57 118.5h1M51 120.5h1M190 120.5h1M55 121.5h1M54 122.5h2M190 124.5h1M38 126.5h1M54 128.5h1M198 128.5h1M198 129.5h1M200 129.5h1M46 130.5h1M50 130.5h1M46 131.5h1M36 134.5h1M48 135.5h1M32 137.5h1M47 138.5h1M204 138.5h1M212 143.5h1M213 144.5h1M41 145.5h1M208 145.5h1M207 146.5h1M33 150.5h1M38 151.5h1M207 152.5h1M214 153.5h1M32 156.5h1M212 156.5h1M34 160.5h1"/><path stroke="#95bf71" d="M113 59.5h1M131 59.5h1M140 59.5h1M114 60.5h1M140 60.5h1M146 60.5h1M106 61.5h1M136 66.5h1M118 67.5h1M152 67.5h1M121 70.5h1M155 70.5h1M92 71.5h1M156 71.5h1M102 72.5h1M113 72.5h1M116 72.5h1M102 73.5h1M127 74.5h1M132 75.5h1M155 75.5h1M160 75.5h2M91 78.5h1M129 78.5h1M139 78.5h1M143 78.5h1M91 79.5h1M142 79.5h1M167 79.5h1M103 81.5h1M139 81.5h1M165 81.5h1M99 82.5h1M156 82.5h1M128 83.5h1M167 83.5h1M110 84.5h1M118 84.5h1M159 84.5h1M109 85.5h1M166 86.5h1M70 88.5h1M97 88.5h1M99 88.5h1M100 89.5h1M155 89.5h1M85 93.5h1M89 93.5h1M86 94.5h1M91 94.5h1M173 94.5h1M87 96.5h1M76 98.5h1M82 98.5h1M173 99.5h1M72 100.5h1M80 102.5h1M179 102.5h2M59 103.5h1M80 103.5h1M66 104.5h1M80 104.5h1M185 105.5h1M62 106.5h1M188 107.5h1M70 114.5h1M192 116.5h1M51 117.5h1M191 118.5h1M65 119.5h1M194 123.5h1M42 127.5h1M192 127.5h1M192 128.5h1M211 143.5h1M213 145.5h1M211 147.5h1M32 149.5h1M41 149.5h1M38 150.5h1M207 150.5h1"/><path stroke="#a5be6b" d="M128 56.5h1M115 57.5h1M124 60.5h1M149 60.5h1M103 61.5h1M131 61.5h1M122 62.5h1M151 62.5h1M153 64.5h1M124 67.5h1M122 70.5h1M125 71.5h1M105 72.5h1M118 72.5h1M131 74.5h1M119 75.5h1M143 75.5h2M161 76.5h1M163 76.5h1M162 77.5h1M136 78.5h1M123 79.5h1M143 79.5h1M86 80.5h1M130 80.5h1M146 80.5h1M168 80.5h1M167 81.5h1M85 82.5h1M98 82.5h1M135 83.5h1M146 83.5h1M169 83.5h1M160 84.5h1M109 86.5h1M117 86.5h1M171 86.5h1M149 87.5h1M103 88.5h1M153 88.5h1M71 90.5h1M78 91.5h1M88 93.5h1M69 94.5h1M65 96.5h1M85 98.5h1M180 98.5h1M183 98.5h1M87 99.5h1M170 101.5h1M181 101.5h1M175 102.5h1M79 104.5h1M181 104.5h1M184 104.5h1M183 106.5h1M59 107.5h1M50 111.5h1M190 111.5h1M187 112.5h1M53 113.5h1M191 113.5h1M193 115.5h1M52 117.5h1M195 121.5h1M49 123.5h1M195 123.5h1M53 125.5h1M38 127.5h1M32 132.5h1M202 132.5h1M45 133.5h1M38 134.5h1M37 135.5h1M51 135.5h1M40 138.5h1M203 138.5h1M47 140.5h1M213 150.5h1M213 153.5h1M32 155.5h1M212 157.5h1M211 158.5h1M215 159.5h1"/><path stroke="#b4bd65" d="M127 55.5h1M122 56.5h1M113 57.5h1M119 57.5h1M140 57.5h1M142 58.5h1M105 62.5h1M121 62.5h1M144 62.5h1M130 63.5h1M153 67.5h1M124 69.5h1M148 69.5h1M104 70.5h1M160 74.5h1M123 75.5h1M116 78.5h1M124 78.5h1M129 80.5h1M167 80.5h1M106 81.5h2M86 82.5h1M98 83.5h1M129 83.5h1M115 84.5h1M130 84.5h2M133 84.5h1M136 85.5h1M89 86.5h1M122 86.5h2M130 86.5h1M134 86.5h1M138 86.5h1M144 86.5h1M119 87.5h1M123 87.5h1M125 87.5h1M130 87.5h1M135 87.5h2M139 87.5h1M143 87.5h2M148 87.5h1M116 88.5h1M120 88.5h1M143 88.5h1M146 88.5h1M101 89.5h1M113 89.5h2M118 89.5h1M146 89.5h1M154 89.5h1M111 90.5h1M153 90.5h1M157 90.5h1M71 91.5h1M101 92.5h2M106 92.5h1M157 92.5h1M98 93.5h1M100 93.5h2M161 93.5h1M98 94.5h1M91 95.5h1M95 95.5h2M162 95.5h1M90 96.5h1M163 96.5h2M80 97.5h1M89 97.5h1M164 97.5h1M90 98.5h1M164 98.5h1M166 98.5h1M176 98.5h1M179 98.5h1M82 99.5h1M172 99.5h1M87 100.5h1M166 100.5h2M180 100.5h1M87 101.5h1M169 102.5h1M171 102.5h1M169 103.5h1M73 104.5h1M80 105.5h1M82 105.5h2M172 106.5h1M188 106.5h1M78 109.5h1M176 109.5h1M176 110.5h1M73 111.5h1M177 111.5h1M178 112.5h1M178 113.5h1M72 114.5h1M182 115.5h1M71 116.5h1M73 116.5h1M70 117.5h2M184 117.5h2M69 118.5h2M68 119.5h1M191 119.5h1M69 120.5h1M184 120.5h1M49 121.5h1M63 121.5h1M54 124.5h1M46 125.5h1M55 128.5h1M54 129.5h2M53 130.5h1M193 130.5h1M201 130.5h1M38 131.5h2M53 133.5h2M37 134.5h1M196 135.5h1M52 136.5h1M195 136.5h2M52 137.5h1M196 137.5h1M49 139.5h2M197 139.5h1M49 140.5h2M197 140.5h1M200 141.5h1M44 142.5h1M199 143.5h1M47 144.5h1M203 144.5h1M46 147.5h1M202 147.5h1M44 148.5h3M207 148.5h1M43 150.5h1M42 152.5h2M206 152.5h1M210 153.5h1M214 154.5h1M41 156.5h1M207 156.5h1M209 157.5h2M40 158.5h1M209 158.5h1M37 159.5h1M209 159.5h1M37 160.5h1M35 161.5h2M209 161.5h1M212 165.5h1M212 166.5h1M213 167.5h1M213 168.5h1M32 169.5h1M214 169.5h1M214 170.5h1"/><path stroke="#c2bc5f" d="M122 55.5h1M117 56.5h1M116 57.5h2M112 58.5h1M117 59.5h1M136 59.5h1M103 62.5h1M103 63.5h1M152 63.5h1M102 66.5h1M153 66.5h1M122 68.5h1M96 69.5h1M117 72.5h1M156 75.5h1M98 88.5h1M100 90.5h1M103 91.5h1M163 92.5h1M181 96.5h1M175 99.5h1M184 106.5h1M62 110.5h1M189 110.5h1M183 111.5h1M65 118.5h1M51 119.5h1M52 122.5h1M190 123.5h1M45 132.5h2M48 132.5h1M48 133.5h1M211 142.5h1M206 146.5h1M207 147.5h1M43 149.5h1M214 150.5h1"/><path stroke="#cfbb5a" d="M130 59.5h1M144 59.5h1M159 70.5h1M135 72.5h1M164 77.5h1M164 81.5h1M85 84.5h1M153 87.5h1M154 88.5h1M66 93.5h1M164 93.5h1M66 96.5h1M88 96.5h1M75 98.5h1M77 104.5h1M59 108.5h1M183 112.5h1M47 115.5h1M190 119.5h1M42 120.5h1M194 122.5h1M43 123.5h1M54 123.5h1M52 125.5h1M54 127.5h1M40 137.5h1M202 139.5h1"/><path stroke="#ddba54" d="M120 55.5h1M123 56.5h1M135 57.5h1M113 58.5h1M143 58.5h1M135 59.5h1M158 70.5h1M92 78.5h1M165 78.5h1M125 80.5h1M139 80.5h1M137 86.5h1M149 86.5h1M103 89.5h1M109 90.5h1M90 94.5h1M172 95.5h1M64 96.5h1M84 98.5h1M174 101.5h1M189 111.5h1M52 121.5h1M51 125.5h1M52 127.5h1M38 130.5h1M212 146.5h1M33 149.5h1"/><path stroke="#eab94e" d="M116 50.5h1M105 52.5h1M123 55.5h1M105 56.5h2M111 59.5h1M159 62.5h1M153 63.5h1M151 66.5h1M157 70.5h1M117 71.5h1M162 76.5h1M170 76.5h1M133 77.5h1M123 78.5h1M130 83.5h1M127 84.5h1M132 84.5h1M89 85.5h1M122 85.5h2M125 85.5h3M129 85.5h6M116 86.5h1M118 86.5h1M120 86.5h2M124 86.5h6M131 86.5h3M135 86.5h2M139 86.5h3M108 87.5h2M120 87.5h3M126 87.5h1M129 87.5h1M131 87.5h3M140 87.5h3M145 87.5h3M152 87.5h1M170 87.5h1M105 88.5h1M112 88.5h1M114 88.5h2M117 88.5h2M121 88.5h1M141 88.5h2M144 88.5h2M147 88.5h5M104 89.5h4M110 89.5h2M116 89.5h1M148 89.5h6M104 90.5h5M113 90.5h3M150 90.5h3M154 90.5h3M101 91.5h2M104 91.5h7M153 91.5h5M159 91.5h1M96 92.5h1M103 92.5h3M155 92.5h2M158 92.5h1M160 92.5h1M181 92.5h2M95 93.5h2M99 93.5h1M103 93.5h1M158 93.5h3M94 94.5h4M100 94.5h1M159 94.5h4M53 95.5h1M92 95.5h3M97 95.5h1M160 95.5h2M164 95.5h1M181 95.5h1M91 96.5h5M162 96.5h1M165 96.5h1M91 97.5h3M163 97.5h1M166 97.5h1M171 97.5h1M89 98.5h1M167 98.5h1M89 99.5h1M165 99.5h4M86 100.5h1M88 100.5h2M168 100.5h2M85 101.5h2M167 101.5h3M84 102.5h3M168 102.5h1M172 102.5h1M83 103.5h3M172 103.5h1M81 104.5h4M171 104.5h2M81 105.5h1M171 105.5h4M184 105.5h1M81 106.5h2M173 106.5h3M77 107.5h2M80 107.5h1M173 107.5h4M74 108.5h5M174 108.5h3M74 109.5h1M77 109.5h1M175 109.5h1M177 109.5h1M73 110.5h2M77 110.5h1M177 110.5h2M76 111.5h1M178 111.5h1M181 111.5h1M73 112.5h1M179 112.5h2M72 113.5h2M179 113.5h4M73 114.5h1M179 114.5h4M72 115.5h3M180 115.5h2M184 115.5h1M72 116.5h1M181 116.5h3M69 117.5h1M72 117.5h1M181 117.5h3M64 118.5h1M68 118.5h1M71 118.5h1M182 118.5h1M184 118.5h1M37 119.5h1M64 119.5h1M66 119.5h1M183 119.5h2M200 119.5h1M62 120.5h2M66 120.5h1M183 120.5h1M185 120.5h2M50 121.5h1M62 121.5h1M66 121.5h2M184 121.5h3M59 122.5h1M61 122.5h2M185 122.5h2M188 122.5h2M59 123.5h3M186 123.5h1M188 123.5h2M58 124.5h4M186 124.5h1M188 124.5h1M58 125.5h3M187 125.5h2M190 125.5h1M57 126.5h3M187 126.5h4M39 127.5h1M56 127.5h4M188 127.5h3M56 128.5h3M189 128.5h3M56 129.5h2M190 129.5h3M54 130.5h1M191 130.5h2M54 131.5h1M191 131.5h4M53 132.5h2M192 132.5h2M55 133.5h1M192 133.5h3M202 133.5h1M193 134.5h3M194 135.5h2M51 136.5h1M194 136.5h1M197 136.5h1M50 137.5h2M197 137.5h2M50 138.5h2M197 138.5h2M51 139.5h1M198 139.5h3M203 139.5h1M48 140.5h1M198 140.5h4M46 141.5h5M198 141.5h2M202 141.5h1M46 142.5h4M201 142.5h2M46 143.5h2M201 143.5h2M46 144.5h1M200 144.5h3M44 145.5h4M201 145.5h1M203 145.5h1M44 146.5h4M201 146.5h1M203 146.5h1M44 147.5h2M203 147.5h2M202 148.5h4M42 149.5h1M45 149.5h1M203 149.5h4M208 149.5h1M42 150.5h1M44 150.5h1M204 150.5h3M41 151.5h2M44 151.5h1M204 151.5h3M41 152.5h1M205 152.5h1M41 153.5h3M205 153.5h2M41 154.5h2M206 154.5h3M39 155.5h3M206 155.5h3M39 156.5h2M208 156.5h3M37 157.5h4M37 158.5h3M38 159.5h2M208 159.5h1M38 160.5h1M210 160.5h1M37 161.5h2M210 161.5h1M35 162.5h3M210 162.5h4M33 163.5h1M35 163.5h2M211 163.5h3M33 164.5h4M211 164.5h4M32 165.5h4M32 166.5h3M33 167.5h2M214 167.5h1M33 168.5h1M214 168.5h2M215 169.5h1M32 170.5h1M215 170.5h1M215 171.5h1M215 172.5h1"/><path stroke="#f6ba46" d="M128 48.5h1M132 48.5h2M116 49.5h3M120 49.5h2M128 49.5h1M132 49.5h2M141 49.5h2M115 50.5h1M117 50.5h2M126 50.5h3M132 50.5h8M116 51.5h2M127 51.5h6M135 51.5h5M106 52.5h1M111 52.5h1M117 52.5h4M127 52.5h6M135 52.5h1M144 52.5h4M105 53.5h2M111 53.5h3M126 53.5h3M131 53.5h1M134 53.5h1M149 53.5h2M104 54.5h1M111 54.5h2M118 54.5h9M128 54.5h2M131 54.5h7M105 55.5h4M111 55.5h2M119 55.5h1M131 55.5h3M102 56.5h3M107 56.5h3M114 56.5h1M141 56.5h1M143 56.5h2M154 56.5h1M98 57.5h1M102 57.5h1M105 57.5h2M109 57.5h2M118 57.5h1M141 57.5h3M147 57.5h1M153 57.5h2M97 58.5h2M104 58.5h1M144 58.5h2M147 58.5h1M99 59.5h1M102 59.5h3M112 59.5h1M98 60.5h6M152 60.5h5M91 61.5h1M98 61.5h5M151 61.5h5M91 62.5h2M98 62.5h1M104 62.5h1M131 62.5h1M147 62.5h2M158 62.5h1M160 62.5h1M91 63.5h2M96 63.5h5M148 63.5h1M159 63.5h3M95 64.5h4M152 64.5h1M160 64.5h2M97 65.5h1M161 65.5h1M86 67.5h1M94 67.5h1M149 67.5h1M148 68.5h2M85 69.5h1M122 69.5h1M81 70.5h2M85 70.5h1M87 70.5h1M105 70.5h1M80 71.5h3M87 71.5h2M113 71.5h1M162 71.5h2M81 72.5h2M85 72.5h2M136 72.5h1M162 72.5h1M166 72.5h1M80 73.5h2M85 73.5h1M164 73.5h1M79 74.5h2M164 74.5h2M127 75.5h1M165 75.5h1M169 75.5h2M135 76.5h1M169 76.5h1M171 76.5h1M80 77.5h2M157 77.5h1M168 77.5h1M80 78.5h1M167 78.5h1M170 78.5h1M172 78.5h1M73 79.5h5M79 79.5h1M170 79.5h3M73 80.5h2M147 80.5h1M169 80.5h1M171 80.5h2M77 81.5h1M170 81.5h1M68 82.5h1M175 82.5h2M67 83.5h4M85 83.5h1M131 83.5h1M175 83.5h3M67 84.5h4M171 84.5h1M176 84.5h2M65 85.5h1M99 85.5h1M159 85.5h1M168 85.5h1M172 85.5h1M175 85.5h3M64 86.5h1M71 86.5h1M176 86.5h1M178 86.5h1M173 87.5h1M178 87.5h2M65 88.5h1M68 88.5h2M173 88.5h1M179 88.5h1M60 89.5h1M67 89.5h2M176 89.5h2M59 90.5h2M175 90.5h1M58 91.5h2M63 91.5h2M83 91.5h1M178 91.5h2M181 91.5h3M59 92.5h1M63 92.5h1M178 92.5h2M183 92.5h1M63 93.5h1M178 93.5h3M58 94.5h1M61 94.5h2M54 95.5h1M72 95.5h1M173 95.5h1M184 95.5h1M53 96.5h2M57 96.5h1M171 96.5h1M185 96.5h1M56 97.5h1M85 97.5h1M185 97.5h1M80 98.5h1M185 98.5h1M73 99.5h2M185 99.5h2M54 100.5h1M184 100.5h1M54 101.5h2M188 101.5h2M48 102.5h1M53 102.5h4M189 102.5h2M46 103.5h5M53 103.5h1M187 103.5h1M189 103.5h1M47 104.5h3M53 104.5h1M188 104.5h4M188 105.5h4M49 106.5h1M189 106.5h1M192 106.5h1M49 107.5h1M185 107.5h1M190 107.5h1M192 107.5h2M43 108.5h1M48 108.5h1M60 108.5h1M42 109.5h3M47 109.5h2M191 109.5h1M41 110.5h2M44 110.5h1M47 110.5h1M50 110.5h1M180 110.5h2M193 110.5h1M41 111.5h2M46 111.5h2M182 111.5h1M43 112.5h2M46 112.5h1M49 112.5h1M194 112.5h2M46 113.5h1M71 113.5h1M44 114.5h1M37 115.5h1M40 115.5h1M56 115.5h1M192 115.5h1M38 116.5h1M40 116.5h1M34 117.5h1M37 117.5h2M44 117.5h2M56 117.5h1M196 117.5h2M199 117.5h1M34 118.5h2M37 118.5h2M44 118.5h1M51 118.5h1M199 118.5h2M34 119.5h3M193 119.5h1M199 119.5h1M33 120.5h5M39 120.5h1M41 120.5h1M200 120.5h2M34 121.5h6M201 121.5h2M35 122.5h2M38 122.5h1M49 122.5h1M38 123.5h1M32 124.5h1M34 124.5h1M32 125.5h1M35 125.5h1M54 125.5h1M32 126.5h1M53 128.5h1M53 129.5h1M205 131.5h3M206 132.5h2M36 133.5h1M206 133.5h1M205 134.5h2M205 135.5h2M206 136.5h1M208 136.5h2M39 137.5h1M208 137.5h3M208 138.5h4M209 139.5h2M210 140.5h1M213 141.5h2M213 142.5h2M214 143.5h2M212 144.5h1M214 144.5h2M43 147.5h1M43 148.5h1"/><path stroke="#fec03b" d="M129 48.5h3M134 48.5h1M137 48.5h1M119 49.5h1M122 49.5h2M125 49.5h3M129 49.5h3M134 49.5h7M119 50.5h1M122 50.5h4M129 50.5h3M140 50.5h4M112 51.5h4M118 51.5h2M122 51.5h1M126 51.5h1M133 51.5h2M143 51.5h2M108 52.5h3M112 52.5h5M121 52.5h6M133 52.5h2M136 52.5h4M142 52.5h2M107 53.5h4M114 53.5h12M129 53.5h2M132 53.5h2M135 53.5h5M142 53.5h7M103 54.5h1M105 54.5h3M109 54.5h2M113 54.5h1M117 54.5h1M127 54.5h1M130 54.5h1M138 54.5h2M142 54.5h5M148 54.5h4M101 55.5h4M109 55.5h2M113 55.5h6M128 55.5h1M134 55.5h3M138 55.5h1M140 55.5h8M149 55.5h3M99 56.5h3M110 56.5h1M112 56.5h2M137 56.5h1M139 56.5h2M142 56.5h1M145 56.5h2M149 56.5h3M153 56.5h1M97 57.5h1M99 57.5h3M103 57.5h2M107 57.5h2M111 57.5h1M144 57.5h3M148 57.5h5M155 57.5h1M99 58.5h5M105 58.5h1M108 58.5h1M134 58.5h2M146 58.5h1M148 58.5h8M95 59.5h4M100 59.5h2M105 59.5h1M147 59.5h10M94 60.5h4M104 60.5h1M115 60.5h1M150 60.5h2M157 60.5h2M92 61.5h6M104 61.5h2M139 61.5h3M156 61.5h4M93 62.5h5M99 62.5h3M130 62.5h1M153 62.5h5M90 63.5h1M93 63.5h3M147 63.5h1M158 63.5h1M88 64.5h7M99 64.5h1M147 64.5h2M155 64.5h5M87 65.5h10M98 65.5h1M156 65.5h1M159 65.5h2M86 66.5h2M89 66.5h2M92 66.5h1M94 66.5h3M150 66.5h1M152 66.5h1M157 66.5h1M159 66.5h4M84 67.5h2M89 67.5h1M91 67.5h3M95 67.5h1M150 67.5h1M157 67.5h1M160 67.5h2M163 67.5h1M84 68.5h3M93 68.5h1M158 68.5h1M160 68.5h5M82 69.5h3M86 69.5h6M149 69.5h1M162 69.5h3M83 70.5h2M86 70.5h1M88 70.5h3M156 70.5h1M162 70.5h3M83 71.5h4M89 71.5h1M161 71.5h1M164 71.5h3M80 72.5h1M83 72.5h2M87 72.5h1M163 72.5h3M167 72.5h1M79 73.5h1M82 73.5h3M86 73.5h1M163 73.5h1M165 73.5h4M78 74.5h1M81 74.5h5M166 74.5h4M77 75.5h4M83 75.5h1M124 75.5h1M166 75.5h3M76 76.5h7M124 76.5h3M166 76.5h3M75 77.5h3M79 77.5h1M134 77.5h1M158 77.5h1M165 77.5h3M169 77.5h3M74 78.5h6M115 78.5h1M151 78.5h1M166 78.5h1M168 78.5h2M171 78.5h1M78 79.5h1M122 79.5h1M161 79.5h1M169 79.5h1M72 80.5h1M75 80.5h4M170 80.5h1M173 80.5h1M72 81.5h3M76 81.5h1M147 81.5h1M168 81.5h1M171 81.5h3M69 82.5h8M117 82.5h1M135 82.5h1M155 82.5h1M168 82.5h1M170 82.5h3M71 83.5h5M117 83.5h1M168 83.5h1M171 83.5h4M66 84.5h1M71 84.5h4M84 84.5h1M172 84.5h4M66 85.5h4M71 85.5h3M173 85.5h2M65 86.5h6M72 86.5h1M167 86.5h1M172 86.5h4M177 86.5h1M63 87.5h8M167 87.5h1M174 87.5h4M62 88.5h3M66 88.5h2M155 88.5h1M159 88.5h1M174 88.5h5M61 89.5h2M64 89.5h3M174 89.5h2M178 89.5h3M61 90.5h7M176 90.5h2M179 90.5h3M60 91.5h1M62 91.5h1M65 91.5h2M70 91.5h1M76 91.5h2M174 91.5h1M177 91.5h1M180 91.5h1M57 92.5h2M60 92.5h1M62 92.5h1M64 92.5h1M180 92.5h1M57 93.5h6M90 93.5h1M181 93.5h3M55 94.5h3M59 94.5h2M181 94.5h4M55 95.5h7M182 95.5h2M185 95.5h1M55 96.5h2M58 96.5h2M61 96.5h1M175 96.5h1M183 96.5h2M186 96.5h1M53 97.5h3M57 97.5h4M184 97.5h1M186 97.5h1M52 98.5h5M59 98.5h1M184 98.5h1M186 98.5h2M50 99.5h6M58 99.5h1M171 99.5h1M187 99.5h2M50 100.5h4M55 100.5h3M185 100.5h4M49 101.5h2M53 101.5h1M56 101.5h1M173 101.5h1M180 101.5h1M186 101.5h2M49 102.5h2M52 102.5h1M187 102.5h2M52 103.5h1M54 103.5h2M188 103.5h1M190 103.5h1M46 104.5h1M50 104.5h3M54 104.5h1M72 104.5h1M45 105.5h1M47 105.5h7M192 105.5h1M47 106.5h2M50 106.5h3M185 106.5h1M187 106.5h1M190 106.5h2M44 107.5h1M47 107.5h2M50 107.5h3M191 107.5h1M44 108.5h1M47 108.5h1M49 108.5h3M62 108.5h1M191 108.5h3M46 109.5h1M49 109.5h2M62 109.5h1M192 109.5h3M43 110.5h1M45 110.5h2M48 110.5h1M192 110.5h1M194 110.5h1M43 111.5h3M48 111.5h2M193 111.5h3M41 112.5h2M45 112.5h1M47 112.5h2M182 112.5h1M41 113.5h5M47 113.5h2M194 113.5h2M39 114.5h5M45 114.5h3M195 114.5h2M38 115.5h2M41 115.5h5M195 115.5h3M36 116.5h2M39 116.5h1M41 116.5h5M55 116.5h2M196 116.5h3M35 117.5h2M39 117.5h3M54 117.5h2M198 117.5h1M36 118.5h1M39 118.5h1M41 118.5h3M185 118.5h1M193 118.5h1M197 118.5h2M32 119.5h2M38 119.5h5M197 119.5h2M32 120.5h1M38 120.5h1M40 120.5h1M50 120.5h1M198 120.5h2M33 121.5h1M40 121.5h1M199 121.5h2M32 122.5h3M37 122.5h1M39 122.5h1M199 122.5h1M201 122.5h2M32 123.5h6M201 123.5h2M33 124.5h1M35 124.5h2M200 124.5h4M33 125.5h2M201 125.5h3M33 126.5h1M51 126.5h4M202 126.5h2M32 127.5h1M53 127.5h1M202 127.5h1M204 127.5h1M203 128.5h2M202 129.5h2M205 129.5h1M203 130.5h3M203 131.5h2M201 132.5h1M204 132.5h2M204 133.5h2M207 133.5h1M207 134.5h2M207 135.5h2M35 136.5h2M207 136.5h1M35 137.5h2M207 137.5h1M35 138.5h3M32 139.5h6M47 139.5h1M211 139.5h2M32 140.5h6M211 140.5h2M32 141.5h6M211 141.5h2M32 142.5h6M212 142.5h1M32 143.5h6M213 143.5h1M32 144.5h7M32 145.5h7M212 145.5h1M32 146.5h6M32 147.5h6M32 148.5h7M34 149.5h4M34 150.5h2M34 151.5h2M207 151.5h1M34 152.5h3M34 153.5h3M209 153.5h1M209 154.5h1M36 158.5h1"/><path stroke="#fec833" d="M124 49.5h1M120 50.5h2M120 51.5h2M123 51.5h3M140 51.5h3M140 52.5h2M140 53.5h2M108 54.5h1M114 54.5h3M140 54.5h2M147 54.5h1M129 55.5h2M137 55.5h1M139 55.5h1M148 55.5h1M111 56.5h1M138 56.5h1M147 56.5h2M152 56.5h1M106 58.5h2M106 59.5h1M154 63.5h4M157 65.5h2M88 66.5h1M91 66.5h1M93 66.5h1M158 66.5h1M87 67.5h2M90 67.5h1M158 67.5h2M162 67.5h1M87 68.5h6M159 68.5h1M159 69.5h3M160 70.5h2M165 70.5h1M81 75.5h2M78 77.5h1M71 81.5h1M75 81.5h1M173 82.5h2M70 85.5h1M63 89.5h1M178 90.5h1M61 91.5h1M61 92.5h1M60 96.5h1M57 98.5h2M56 99.5h2M51 101.5h2M51 102.5h1M51 103.5h1M46 105.5h1M46 106.5h1M46 107.5h1M45 108.5h2M45 109.5h1M49 110.5h1M196 113.5h1M46 115.5h1M42 117.5h2M40 118.5h1M32 121.5h1M200 122.5h1M200 123.5h1M34 126.5h1M201 126.5h1M203 127.5h1M202 128.5h1M204 129.5h1"/><path stroke="#fbd02c" d="M120 46.5h21M115 47.5h28M112 48.5h16M135 48.5h2M138 48.5h8M109 49.5h7M143 49.5h5M106 50.5h9M144 50.5h6M103 51.5h9M145 51.5h7M101 52.5h4M107 52.5h1M148 52.5h5M99 53.5h6M151 53.5h4M97 54.5h6M152 54.5h4M96 55.5h5M152 55.5h5M94 56.5h5M155 56.5h3M93 57.5h4M156 57.5h3M91 58.5h6M156 58.5h4M90 59.5h5M157 59.5h4M89 60.5h5M159 60.5h3M87 61.5h4M160 61.5h3M86 62.5h5M161 62.5h2M85 63.5h5M162 63.5h2M84 64.5h4M162 64.5h3M83 65.5h4M162 65.5h4M81 66.5h5M163 66.5h4M80 67.5h4M164 67.5h4M79 68.5h5M165 68.5h3M78 69.5h4M165 69.5h4M77 70.5h4M166 70.5h4M77 71.5h3M167 71.5h4M76 72.5h4M168 72.5h4M75 73.5h4M169 73.5h3M74 74.5h4M170 74.5h3M73 75.5h4M171 75.5h3M72 76.5h4M172 76.5h3M70 77.5h5M172 77.5h3M69 78.5h5M173 78.5h3M68 79.5h5M173 79.5h4M67 80.5h5M174 80.5h4M66 81.5h5M174 81.5h4M65 82.5h3M177 82.5h2M63 83.5h4M178 83.5h2M62 84.5h4M178 84.5h3M61 85.5h4M178 85.5h3M60 86.5h4M179 86.5h3M59 87.5h4M180 87.5h3M58 88.5h4M180 88.5h4M57 89.5h3M181 89.5h4M56 90.5h3M182 90.5h3M55 91.5h3M184 91.5h2M53 92.5h4M184 92.5h3M52 93.5h5M184 93.5h4M51 94.5h4M185 94.5h4M50 95.5h3M186 95.5h3M49 96.5h4M187 96.5h3M48 97.5h5M187 97.5h4M48 98.5h4M188 98.5h3M47 99.5h3M189 99.5h3M46 100.5h4M189 100.5h3M45 101.5h4M190 101.5h3M44 102.5h4M191 102.5h3M43 103.5h3M191 103.5h3M43 104.5h3M192 104.5h3M42 105.5h3M193 105.5h3M41 106.5h5M193 106.5h3M41 107.5h3M45 107.5h1M194 107.5h3M40 108.5h3M194 108.5h3M39 109.5h3M195 109.5h3M39 110.5h2M195 110.5h4M38 111.5h3M196 111.5h3M37 112.5h4M196 112.5h4M36 113.5h5M197 113.5h3M34 114.5h5M197 114.5h4M33 115.5h4M198 115.5h4M32 116.5h4M199 116.5h3M32 117.5h2M200 117.5h3M32 118.5h2M201 118.5h3M201 119.5h3M202 120.5h3M203 121.5h2M203 122.5h3M203 123.5h3M204 124.5h3M204 125.5h3M204 126.5h4M205 127.5h3M205 128.5h4M206 129.5h3M206 130.5h4M208 131.5h2M208 132.5h3M208 133.5h3M209 134.5h3M209 135.5h4M210 136.5h4M211 137.5h3M212 138.5h3M213 139.5h3M213 140.5h3M215 141.5h1M215 142.5h1"/></g>
<g stroke-width="1" fill="none" shape-rendering="crispEdges" filter="url(#soft)"><path stroke="#36349b" d="M403.3 45.5h20M398.3 46.5h28M395.3 47.5h33M392.3 48.5h38M389.3 49.5h43M387.3 50.5h48M384.3 51.5h52M382.3 52.5h56M380.3 53.5h59M379.3 54.5h61M377.3 55.5h24M402.3 55.5h8M412.3 55.5h29M376.3 56.5h23M400.3 56.5h4M406.3 56.5h20M427.3 56.5h15M374.3 57.5h23M402.3 57.5h2M406.3 57.5h3M410.3 57.5h7M418.3 57.5h6M425.3 57.5h18M373.3 58.5h14M388.3 58.5h6M396.3 58.5h3M411.3 58.5h1M413.3 58.5h2M419.3 58.5h13M433.3 58.5h11M371.3 59.5h22M420.3 59.5h2M423.3 59.5h3M427.3 59.5h5M433.3 59.5h12M370.3 60.5h23M426.3 60.5h2M429.3 60.5h3M433.3 60.5h13M369.3 61.5h17M389.3 61.5h2M428.3 61.5h1M430.3 61.5h17M368.3 62.5h17M434.3 62.5h13M366.3 63.5h18M437.3 63.5h11M365.3 64.5h18M384.3 64.5h1M436.3 64.5h13M364.3 65.5h18M383.3 65.5h1M435.3 65.5h15M363.3 66.5h19M436.3 66.5h15M362.3 67.5h19M437.3 67.5h15M361.3 68.5h17M387.3 68.5h1M438.3 68.5h14M360.3 69.5h17M385.3 69.5h2M438.3 69.5h3M442.3 69.5h11M359.3 70.5h17M427.3 70.5h1M439.3 70.5h1M442.3 70.5h12M358.3 71.5h16M441.3 71.5h2M444.3 71.5h11M357.3 72.5h16M442.3 72.5h14M356.3 73.5h15M443.3 73.5h13M355.3 74.5h14M444.3 74.5h2M447.3 74.5h10M354.3 75.5h15M445.3 75.5h4M450.3 75.5h8M353.3 76.5h14M450.3 76.5h9M352.3 77.5h14M419.3 77.5h2M423.3 77.5h1M451.3 77.5h8M351.3 78.5h14M436.3 78.5h1M451.3 78.5h9M350.3 79.5h15M450.3 79.5h11M349.3 80.5h15M451.3 80.5h2M454.3 80.5h8M347.3 81.5h15M452.3 81.5h11M346.3 82.5h14M452.3 82.5h11M345.3 83.5h16M452.3 83.5h12M344.3 84.5h16M452.3 84.5h13M343.3 85.5h13M357.3 85.5h2M453.3 85.5h13M342.3 86.5h16M454.3 86.5h12M340.3 87.5h18M454.3 87.5h13M339.3 88.5h13M353.3 88.5h2M384.3 88.5h1M455.3 88.5h13M338.3 89.5h13M381.3 89.5h1M456.3 89.5h13M337.3 90.5h15M457.3 90.5h12M336.3 91.5h15M458.3 91.5h12M335.3 92.5h15M461.3 92.5h10M334.3 93.5h14M451.3 93.5h1M461.3 93.5h11M333.3 94.5h14M451.3 94.5h1M461.3 94.5h11M332.3 95.5h14M462.3 95.5h1M464.3 95.5h9M331.3 96.5h14M348.3 96.5h1M464.3 96.5h9M330.3 97.5h15M465.3 97.5h9M329.3 98.5h15M466.3 98.5h9M328.3 99.5h15M466.3 99.5h1M468.3 99.5h7M327.3 100.5h15M343.3 100.5h1M469.3 100.5h7M327.3 101.5h14M460.3 101.5h1M467.3 101.5h9M326.3 102.5h15M460.3 102.5h2M467.3 102.5h10M325.3 103.5h13M339.3 103.5h1M461.3 103.5h2M466.3 103.5h12M324.3 104.5h15M468.3 104.5h10M324.3 105.5h14M352.3 105.5h2M468.3 105.5h11M323.3 106.5h14M352.3 106.5h1M460.3 106.5h1M468.3 106.5h1M470.3 106.5h9M322.3 107.5h15M351.3 107.5h1M461.3 107.5h1M469.3 107.5h11M322.3 108.5h11M334.3 108.5h1M469.3 108.5h11M321.3 109.5h14M471.3 109.5h10M320.3 110.5h13M472.3 110.5h9M319.3 111.5h13M473.3 111.5h9M318.3 112.5h13M472.3 112.5h10M317.3 113.5h15M474.3 113.5h9M316.3 114.5h15M474.3 114.5h10M314.3 115.5h15M330.3 115.5h1M476.3 115.5h8M314.3 116.5h17M475.3 116.5h10M314.3 117.5h16M338.3 117.5h1M476.3 117.5h9M314.3 118.5h14M338.3 118.5h1M476.3 118.5h10M314.3 119.5h14M477.3 119.5h9M314.3 120.5h10M325.3 120.5h2M477.3 120.5h10M314.3 121.5h10M478.3 121.5h9M314.3 122.5h11M479.3 122.5h9M314.3 123.5h10M478.3 123.5h10M314.3 124.5h9M478.3 124.5h11M314.3 125.5h6M479.3 125.5h10M314.3 126.5h5M479.3 126.5h11M314.3 127.5h4M479.3 127.5h11M314.3 128.5h4M481.3 128.5h10M314.3 129.5h1M481.3 129.5h10M481.3 130.5h11M481.3 131.5h11M482.3 132.5h1M484.3 132.5h9M482.3 133.5h2M485.3 133.5h8M483.3 134.5h11M483.3 135.5h12M317.3 136.5h2M484.3 136.5h12M317.3 137.5h2M485.3 137.5h11M317.3 138.5h3M487.3 138.5h10M314.3 139.5h6M487.3 139.5h11M314.3 140.5h6M487.3 140.5h11M314.3 141.5h6M487.3 141.5h11M314.3 142.5h6M488.3 142.5h10M314.3 143.5h6M490.3 143.5h8M314.3 144.5h7M490.3 144.5h8M314.3 145.5h7M491.3 145.5h3M495.3 145.5h3M314.3 146.5h6M492.3 146.5h2M495.3 146.5h3M314.3 147.5h6M494.3 147.5h4M314.3 148.5h7M495.3 148.5h3M316.3 149.5h4M497.3 149.5h1M316.3 150.5h2M319.3 150.5h1M314.3 151.5h1M316.3 151.5h2M316.3 152.5h3M316.3 153.5h3"/><path stroke="#343eb0" d="M400.3 64.5h1M386.3 68.5h1M387.3 69.5h1M438.3 70.5h1M399.3 78.5h1M382.3 81.5h1M385.3 87.5h1M380.3 89.5h1M452.3 94.5h1M314.3 150.5h2"/><path stroke="#2d49c5" d="M430.3 63.5h1M428.3 67.5h1M358.3 86.5h1M356.3 88.5h1M355.3 89.5h1M358.3 90.5h1M462.3 104.5h1M351.3 106.5h1M324.3 134.5h1M315.3 151.5h1"/><path stroke="#1857d8" d="M427.3 67.5h1M381.3 88.5h1M349.3 95.5h1M465.3 102.5h1M473.3 116.5h1M338.3 119.5h1M324.3 133.5h1"/><path stroke="#0363e1" d="M419.3 76.5h1M445.3 78.5h1M445.3 87.5h1M348.3 95.5h1M471.3 114.5h1M314.3 152.5h1"/><path stroke="#036be0" d="M393.3 67.5h1M422.3 77.5h1M400.3 78.5h1M437.3 78.5h1M435.3 83.5h1M372.3 90.5h1M472.3 116.5h1M476.3 129.5h1M492.3 154.5h1"/><path stroke="#0a72de" d="M401.3 55.5h1M399.3 56.5h1M404.3 56.5h2M426.3 56.5h1M397.3 57.5h3M401.3 57.5h1M404.3 57.5h2M409.3 57.5h1M417.3 57.5h1M424.3 57.5h1M387.3 58.5h1M394.3 58.5h2M412.3 58.5h1M415.3 58.5h1M418.3 58.5h1M432.3 58.5h1M422.3 59.5h1M426.3 59.5h1M432.3 59.5h1M423.3 60.5h3M428.3 60.5h1M432.3 60.5h1M388.3 61.5h1M429.3 61.5h1M385.3 62.5h1M388.3 62.5h1M431.3 62.5h3M384.3 63.5h1M432.3 63.5h5M383.3 64.5h1M430.3 64.5h1M435.3 64.5h1M382.3 65.5h1M388.3 67.5h1M378.3 68.5h1M441.3 69.5h1M441.3 70.5h1M443.3 71.5h1M369.3 74.5h1M446.3 74.5h1M449.3 75.5h1M367.3 76.5h1M418.3 76.5h1M446.3 76.5h4M365.3 78.5h1M397.3 78.5h2M444.3 78.5h1M453.3 80.5h1M362.3 81.5h1M451.3 81.5h1M360.3 82.5h2M451.3 82.5h1M409.3 83.5h1M404.3 84.5h1M408.3 84.5h4M418.3 84.5h2M356.3 85.5h1M404.3 85.5h2M410.3 85.5h3M416.3 85.5h2M421.3 85.5h1M397.3 86.5h2M402.3 86.5h1M406.3 86.5h3M411.3 86.5h1M414.3 86.5h1M422.3 86.5h1M424.3 86.5h2M429.3 86.5h1M397.3 87.5h1M402.3 87.5h1M429.3 87.5h1M432.3 87.5h1M352.3 88.5h1M396.3 88.5h1M430.3 88.5h5M351.3 89.5h3M387.3 89.5h1M434.3 89.5h2M455.3 89.5h1M386.3 90.5h1M389.3 90.5h2M436.3 90.5h3M441.3 90.5h1M456.3 90.5h1M357.3 91.5h1M368.3 91.5h1M386.3 91.5h1M437.3 91.5h2M440.3 91.5h1M377.3 92.5h2M440.3 92.5h3M459.3 92.5h2M378.3 93.5h1M441.3 93.5h1M450.3 93.5h1M362.3 94.5h1M442.3 94.5h2M374.3 95.5h1M447.3 95.5h1M373.3 96.5h1M375.3 96.5h1M447.3 96.5h2M347.3 97.5h1M449.3 97.5h1M464.3 97.5h1M465.3 98.5h1M344.3 99.5h1M367.3 99.5h1M370.3 99.5h1M450.3 99.5h2M465.3 99.5h1M366.3 100.5h3M450.3 100.5h2M365.3 101.5h1M368.3 101.5h1M453.3 101.5h1M466.3 101.5h1M367.3 102.5h1M338.3 103.5h1M365.3 103.5h2M363.3 104.5h2M456.3 104.5h1M467.3 104.5h1M363.3 105.5h1M456.3 105.5h1M358.3 106.5h2M456.3 106.5h2M461.3 106.5h1M357.3 107.5h4M456.3 107.5h1M333.3 108.5h1M335.3 108.5h1M357.3 108.5h1M360.3 108.5h1M457.3 108.5h1M355.3 109.5h1M460.3 109.5h1M470.3 109.5h1M333.3 110.5h1M356.3 110.5h1M460.3 110.5h1M470.3 110.5h1M332.3 111.5h2M460.3 111.5h1M472.3 111.5h1M331.3 112.5h2M332.3 113.5h1M463.3 113.5h2M331.3 114.5h1M463.3 114.5h1M473.3 114.5h1M329.3 115.5h1M463.3 115.5h1M475.3 115.5h1M351.3 116.5h1M468.3 117.5h1M475.3 117.5h1M328.3 118.5h1M345.3 118.5h2M348.3 118.5h1M344.3 119.5h1M468.3 119.5h1M476.3 119.5h1M324.3 120.5h1M343.3 120.5h2M467.3 120.5h3M324.3 121.5h2M342.3 121.5h3M467.3 121.5h1M469.3 121.5h1M339.3 122.5h1M342.3 122.5h2M469.3 122.5h1M478.3 122.5h1M342.3 123.5h2M469.3 123.5h2M339.3 124.5h1M341.3 124.5h2M469.3 124.5h2M320.3 125.5h1M339.3 125.5h1M341.3 125.5h1M319.3 126.5h1M338.3 126.5h3M471.3 126.5h1M473.3 126.5h1M318.3 127.5h1M339.3 127.5h1M471.3 127.5h1M339.3 128.5h1M480.3 128.5h1M315.3 129.5h2M334.3 129.5h1M474.3 129.5h2M314.3 130.5h1M334.3 131.5h1M334.3 132.5h2M476.3 132.5h4M483.3 132.5h1M476.3 133.5h2M484.3 133.5h1M476.3 134.5h2M477.3 135.5h1M331.3 136.5h1M479.3 136.5h1M481.3 136.5h1M331.3 137.5h1M333.3 137.5h1M479.3 137.5h1M484.3 137.5h1M486.3 138.5h1M481.3 139.5h1M486.3 139.5h1M481.3 140.5h1M486.3 140.5h1M330.3 141.5h1M485.3 141.5h1M330.3 142.5h1M485.3 142.5h1M484.3 143.5h1M489.3 143.5h1M326.3 144.5h1M328.3 144.5h1M326.3 145.5h1M328.3 145.5h1M486.3 145.5h2M494.3 145.5h1M486.3 146.5h2M494.3 146.5h1M323.3 147.5h1M486.3 147.5h1M324.3 148.5h1M315.3 149.5h1M324.3 149.5h1M486.3 149.5h2M496.3 149.5h1M324.3 150.5h1M487.3 150.5h1M487.3 151.5h1M490.3 151.5h1M315.3 152.5h1M323.3 153.5h1M320.3 154.5h1M323.3 154.5h1M320.3 155.5h2M490.3 155.5h2M319.3 156.5h4M491.3 156.5h1M319.3 157.5h2M493.3 157.5h1M319.3 158.5h2M320.3 159.5h1M493.3 161.5h3M493.3 162.5h3M315.3 163.5h1M494.3 163.5h1M496.3 163.5h1M315.3 164.5h1M317.3 164.5h1M496.3 164.5h1M314.3 165.5h2M315.3 166.5h1M497.3 166.5h1"/><path stroke="#1078da" d="M419.3 59.5h1M419.3 60.5h2M422.3 60.5h1M424.3 61.5h2M401.3 62.5h3M400.3 63.5h3M429.3 63.5h1M399.3 64.5h1M401.3 64.5h1M431.3 64.5h1M398.3 65.5h1M398.3 66.5h2M387.3 67.5h1M394.3 67.5h1M410.3 67.5h2M429.3 67.5h1M379.3 68.5h1M391.3 68.5h2M412.3 68.5h1M420.3 68.5h2M377.3 69.5h2M384.3 69.5h1M388.3 69.5h1M420.3 69.5h2M437.3 69.5h1M402.3 70.5h2M420.3 70.5h1M426.3 70.5h1M431.3 70.5h1M393.3 71.5h2M392.3 72.5h1M410.3 72.5h2M419.3 72.5h1M430.3 72.5h2M383.3 74.5h2M401.3 74.5h1M402.3 75.5h1M424.3 75.5h2M432.3 75.5h2M402.3 76.5h1M400.3 77.5h1M421.3 77.5h1M424.3 77.5h1M444.3 77.5h1M366.3 78.5h1M396.3 78.5h1M420.3 78.5h2M435.3 78.5h1M443.3 78.5h1M376.3 79.5h2M430.3 79.5h1M443.3 79.5h4M377.3 81.5h1M381.3 81.5h1M383.3 81.5h1M385.3 81.5h1M374.3 82.5h1M381.3 82.5h1M384.3 82.5h2M398.3 82.5h1M387.3 83.5h1M416.3 83.5h2M447.3 83.5h1M383.3 84.5h1M391.3 84.5h1M446.3 84.5h1M448.3 84.5h1M394.3 86.5h2M386.3 87.5h1M444.3 87.5h1M355.3 88.5h1M380.3 88.5h1M383.3 88.5h1M385.3 88.5h1M444.3 88.5h3M354.3 89.5h1M358.3 89.5h1M373.3 89.5h1M445.3 89.5h1M352.3 90.5h1M354.3 90.5h1M368.3 90.5h1M381.3 90.5h1M444.3 90.5h1M358.3 91.5h1M367.3 91.5h1M377.3 91.5h1M455.3 91.5h1M376.3 92.5h1M456.3 92.5h1M452.3 93.5h1M457.3 93.5h1M349.3 94.5h2M363.3 94.5h1M450.3 94.5h1M453.3 94.5h1M458.3 94.5h1M347.3 95.5h1M361.3 95.5h1M452.3 95.5h1M459.3 95.5h1M347.3 96.5h1M349.3 96.5h1M460.3 96.5h1M348.3 97.5h1M463.3 97.5h1M344.3 98.5h1M454.3 98.5h1M461.3 98.5h1M463.3 98.5h1M343.3 99.5h1M456.3 99.5h2M352.3 100.5h1M457.3 100.5h1M459.3 100.5h1M343.3 101.5h1M344.3 102.5h1M466.3 102.5h1M346.3 103.5h1M465.3 103.5h1M345.3 104.5h2M350.3 104.5h1M353.3 104.5h2M461.3 104.5h1M463.3 104.5h1M466.3 104.5h1M345.3 105.5h2M349.3 105.5h1M460.3 105.5h1M345.3 106.5h1M349.3 106.5h1M353.3 106.5h1M337.3 108.5h1M341.3 108.5h1M337.3 109.5h1M341.3 109.5h1M341.3 110.5h1M470.3 111.5h1M333.3 112.5h1M344.3 112.5h1M466.3 112.5h1M470.3 112.5h2M471.3 113.5h1M345.3 114.5h1M347.3 114.5h1M347.3 115.5h1M471.3 115.5h2M338.3 116.5h2M339.3 117.5h1M473.3 117.5h1M475.3 119.5h1M337.3 120.5h1M475.3 120.5h2M327.3 128.5h1M478.3 128.5h1M477.3 129.5h2M478.3 130.5h1M324.3 132.5h1M481.3 132.5h1M480.3 133.5h2M480.3 134.5h2M324.3 135.5h1M324.3 136.5h1M319.3 137.5h1M321.3 138.5h1M321.3 139.5h1M323.3 145.5h1M488.3 146.5h1M314.3 149.5h1M320.3 149.5h1M492.3 151.5h1M492.3 152.5h1M315.3 153.5h1M492.3 153.5h1M493.3 154.5h1M314.3 160.5h1"/><path stroke="#137fd7" d="M396.3 60.5h1M421.3 60.5h1M423.3 61.5h1M391.3 62.5h1M399.3 62.5h2M403.3 63.5h1M431.3 63.5h1M399.3 65.5h1M432.3 65.5h1M392.3 67.5h1M405.3 67.5h2M409.3 67.5h1M412.3 67.5h3M426.3 67.5h1M385.3 68.5h1M390.3 68.5h1M411.3 68.5h1M413.3 68.5h1M422.3 68.5h1M419.3 70.5h1M418.3 71.5h2M391.3 72.5h1M424.3 73.5h1M400.3 74.5h1M414.3 75.5h1M420.3 76.5h1M367.3 77.5h1M401.3 77.5h1M395.3 78.5h1M422.3 78.5h2M423.3 79.5h1M383.3 80.5h1M440.3 81.5h1M449.3 81.5h1M382.3 82.5h1M392.3 82.5h1M418.3 82.5h1M436.3 83.5h1M369.3 88.5h1M447.3 89.5h1M357.3 90.5h1M373.3 90.5h1M357.3 92.5h1M450.3 95.5h2M453.3 95.5h1M364.3 96.5h1M460.3 97.5h1M460.3 98.5h1M344.3 100.5h1M342.3 101.5h1M352.3 101.5h1M363.3 101.5h1M344.3 103.5h1M354.3 103.5h1M348.3 104.5h1M350.3 105.5h1M461.3 105.5h1M348.3 106.5h1M348.3 107.5h1M350.3 107.5h1M342.3 108.5h1M355.3 108.5h1M340.3 110.5h1M345.3 110.5h1M332.3 114.5h1M347.3 116.5h1M337.3 119.5h1M474.3 121.5h3M328.3 127.5h1M478.3 127.5h1M476.3 128.5h1M325.3 131.5h1M320.3 133.5h1M320.3 134.5h1M480.3 135.5h2M320.3 137.5h1M316.3 138.5h1M320.3 138.5h1M319.3 151.5h1M493.3 153.5h1M314.3 161.5h1"/><path stroke="#1485d4" d="M418.3 60.5h1M410.3 64.5h1M388.3 66.5h1M388.3 68.5h1M393.3 68.5h1M387.3 70.5h1M380.3 73.5h1M401.3 76.5h1M407.3 76.5h1M421.3 76.5h2M438.3 78.5h1M375.3 79.5h1M424.3 79.5h1M376.3 81.5h1M441.3 81.5h1M399.3 82.5h1M388.3 83.5h1M436.3 84.5h1M446.3 87.5h1M368.3 88.5h1M451.3 88.5h1M359.3 89.5h1M368.3 89.5h1M452.3 89.5h1M446.3 90.5h1M456.3 93.5h1M361.3 94.5h1M464.3 98.5h1M464.3 99.5h1M460.3 100.5h1M464.3 101.5h1M348.3 102.5h1M363.3 102.5h1M349.3 104.5h1M351.3 104.5h1M465.3 104.5h1M351.3 105.5h1M354.3 105.5h1M344.3 106.5h1M343.3 107.5h2M355.3 107.5h1M340.3 108.5h1M345.3 115.5h1M473.3 115.5h1M468.3 116.5h1M472.3 117.5h1M329.3 126.5h1M335.3 128.5h1M479.3 134.5h1M319.3 136.5h1M488.3 145.5h1M314.3 153.5h1"/><path stroke="#118dd2" d="M415.3 61.5h1M392.3 62.5h1M404.3 65.5h1M430.3 67.5h1M391.3 69.5h1M412.3 70.5h1M403.3 71.5h1M436.3 71.5h1M376.3 72.5h1M412.3 72.5h1M403.3 75.5h1M432.3 77.5h1M394.3 78.5h1M422.3 79.5h1M375.3 81.5h1M399.3 81.5h1M373.3 83.5h1M383.3 83.5h1M384.3 87.5h1M382.3 88.5h1M450.3 90.5h1M450.3 92.5h1M350.3 93.5h1M457.3 94.5h1M362.3 99.5h1M348.3 101.5h1M465.3 101.5h1M464.3 102.5h1M332.3 115.5h1M333.3 125.5h1M326.3 128.5h1M327.3 129.5h1M320.3 150.5h1"/><path stroke="#0b95d2" d="M402.3 64.5h1M403.3 65.5h1M408.3 67.5h1M419.3 68.5h1M392.3 69.5h1M395.3 71.5h1M382.3 74.5h1M371.3 75.5h1M415.3 75.5h1M408.3 76.5h1M418.3 77.5h1M437.3 79.5h1M382.3 80.5h1M406.3 80.5h1M450.3 81.5h1M414.3 83.5h1M407.3 84.5h1M414.3 84.5h1M416.3 84.5h2M420.3 84.5h1M426.3 84.5h1M401.3 85.5h3M406.3 85.5h4M413.3 85.5h3M420.3 85.5h1M425.3 85.5h2M400.3 86.5h2M403.3 86.5h1M409.3 86.5h2M412.3 86.5h2M415.3 86.5h1M417.3 86.5h2M421.3 86.5h1M423.3 86.5h1M426.3 86.5h1M430.3 86.5h1M432.3 86.5h1M369.3 87.5h1M388.3 87.5h1M393.3 87.5h2M396.3 87.5h1M398.3 87.5h2M423.3 87.5h2M426.3 87.5h3M387.3 88.5h1M392.3 88.5h3M397.3 88.5h1M399.3 88.5h2M429.3 88.5h1M384.3 89.5h1M386.3 89.5h1M388.3 89.5h6M432.3 89.5h2M436.3 89.5h1M438.3 89.5h2M355.3 90.5h1M384.3 90.5h2M387.3 90.5h2M382.3 91.5h3M387.3 91.5h2M439.3 91.5h1M441.3 91.5h2M379.3 92.5h1M381.3 92.5h2M443.3 92.5h2M377.3 93.5h1M379.3 93.5h1M381.3 93.5h1M442.3 93.5h2M374.3 94.5h6M444.3 94.5h1M446.3 94.5h2M362.3 95.5h2M372.3 95.5h2M375.3 95.5h2M446.3 95.5h1M346.3 96.5h1M370.3 96.5h1M374.3 96.5h1M445.3 96.5h2M369.3 97.5h2M373.3 97.5h1M448.3 97.5h1M368.3 98.5h4M449.3 98.5h3M457.3 98.5h1M349.3 99.5h1M368.3 99.5h1M449.3 99.5h1M369.3 100.5h1M452.3 100.5h1M366.3 101.5h2M451.3 101.5h1M364.3 102.5h3M454.3 102.5h1M363.3 103.5h2M454.3 103.5h3M360.3 104.5h1M454.3 104.5h2M360.3 105.5h2M455.3 105.5h1M457.3 105.5h2M462.3 105.5h1M350.3 106.5h1M360.3 106.5h1M458.3 106.5h1M341.3 107.5h1M457.3 107.5h2M460.3 107.5h1M356.3 108.5h1M358.3 108.5h2M458.3 108.5h4M340.3 109.5h1M356.3 109.5h1M359.3 109.5h1M459.3 109.5h1M355.3 110.5h1M459.3 110.5h1M461.3 110.5h1M354.3 111.5h1M461.3 111.5h1M463.3 111.5h1M354.3 112.5h2M461.3 112.5h3M354.3 113.5h2M462.3 113.5h1M355.3 114.5h1M464.3 114.5h2M352.3 115.5h3M466.3 115.5h1M332.3 116.5h1M352.3 116.5h1M354.3 116.5h1M464.3 116.5h4M346.3 117.5h1M350.3 117.5h2M465.3 117.5h1M467.3 117.5h1M339.3 118.5h1M349.3 118.5h2M466.3 118.5h1M468.3 118.5h1M343.3 119.5h1M345.3 119.5h2M348.3 119.5h1M466.3 119.5h2M342.3 120.5h1M345.3 120.5h2M348.3 120.5h1M468.3 121.5h1M470.3 121.5h1M341.3 122.5h1M344.3 122.5h1M468.3 122.5h1M470.3 122.5h2M474.3 122.5h1M476.3 122.5h1M339.3 123.5h1M341.3 123.5h1M471.3 123.5h1M340.3 124.5h1M471.3 124.5h1M340.3 125.5h1M470.3 125.5h3M337.3 126.5h1M472.3 126.5h1M338.3 127.5h1M472.3 127.5h2M338.3 128.5h1M472.3 128.5h2M338.3 129.5h1M473.3 129.5h1M336.3 130.5h1M473.3 130.5h4M335.3 131.5h2M474.3 131.5h3M336.3 132.5h1M475.3 132.5h1M480.3 132.5h1M332.3 133.5h1M336.3 133.5h1M332.3 134.5h2M331.3 135.5h2M479.3 135.5h1M332.3 136.5h2M480.3 136.5h1M323.3 137.5h1M332.3 137.5h1M480.3 137.5h1M331.3 138.5h2M479.3 138.5h4M332.3 139.5h1M480.3 139.5h1M482.3 139.5h2M330.3 140.5h1M482.3 140.5h3M327.3 141.5h3M331.3 141.5h1M481.3 141.5h1M484.3 141.5h1M328.3 142.5h2M483.3 142.5h2M326.3 143.5h1M328.3 143.5h2M483.3 143.5h1M485.3 143.5h1M327.3 144.5h1M483.3 144.5h2M486.3 144.5h1M327.3 145.5h1M485.3 145.5h1M326.3 146.5h3M485.3 146.5h1M320.3 147.5h1M324.3 147.5h1M326.3 147.5h2M485.3 147.5h1M487.3 147.5h1M323.3 148.5h1M486.3 148.5h3M326.3 149.5h1M488.3 149.5h1M488.3 150.5h2M323.3 151.5h2M488.3 151.5h1M323.3 152.5h2M490.3 152.5h1M322.3 153.5h1M488.3 153.5h3M321.3 154.5h1M489.3 154.5h2M322.3 155.5h1M489.3 155.5h1M492.3 155.5h1M490.3 156.5h1M492.3 156.5h1M321.3 157.5h1M314.3 159.5h1M317.3 159.5h1M493.3 159.5h1M317.3 160.5h1M492.3 160.5h2M315.3 161.5h2M315.3 162.5h4M316.3 163.5h2M495.3 163.5h1M314.3 164.5h1M316.3 164.5h1M494.3 164.5h2M316.3 165.5h1M495.3 165.5h1M314.3 166.5h1M315.3 167.5h1M496.3 167.5h2M496.3 168.5h2M497.3 169.5h1M497.3 170.5h1"/><path stroke="#079ccf" d="M402.3 59.5h1M399.3 63.5h1M409.3 64.5h1M389.3 67.5h1M409.3 68.5h2M413.3 69.5h1M419.3 69.5h1M398.3 72.5h1M403.3 72.5h1M418.3 72.5h1M394.3 74.5h1M382.3 75.5h1M409.3 75.5h1M387.3 76.5h1M403.3 76.5h1M443.3 77.5h1M420.3 83.5h1M450.3 83.5h1M449.3 84.5h1M377.3 85.5h1M444.3 89.5h1M380.3 90.5h1M376.3 91.5h1M446.3 93.5h1M366.3 97.5h1M348.3 103.5h1M344.3 105.5h1M349.3 107.5h1M336.3 108.5h1M337.3 110.5h1M329.3 125.5h1M328.3 128.5h1M477.3 128.5h1M325.3 130.5h1M325.3 132.5h1M320.3 135.5h1M320.3 136.5h1M321.3 137.5h1M323.3 138.5h1M326.3 139.5h1M491.3 146.5h1"/><path stroke="#06a2cb" d="M395.3 60.5h1M428.3 66.5h1M407.3 67.5h1M413.3 70.5h1M428.3 70.5h1M409.3 72.5h1M379.3 73.5h1M380.3 74.5h1M433.3 76.5h1M375.3 77.5h1M405.3 77.5h1M433.3 77.5h1M424.3 78.5h1M447.3 80.5h1M380.3 82.5h1M362.3 83.5h1M359.3 85.5h1M367.3 90.5h1M440.3 90.5h1M443.3 90.5h1M454.3 90.5h1M346.3 95.5h1M359.3 96.5h1M365.3 98.5h1M467.3 110.5h1M337.3 118.5h1M327.3 127.5h1M329.3 127.5h1M477.3 130.5h1M319.3 135.5h1M494.3 156.5h1"/><path stroke="#06a7c5" d="M416.3 63.5h1M427.3 66.5h1M380.3 68.5h1M414.3 68.5h1M389.3 69.5h1M432.3 70.5h3M420.3 72.5h1M395.3 74.5h1M401.3 75.5h1M401.3 78.5h1M374.3 79.5h1M431.3 79.5h1M373.3 82.5h1M430.3 84.5h1M428.3 85.5h1M374.3 89.5h1M446.3 89.5h1M353.3 90.5h1M347.3 98.5h1M363.3 98.5h1M366.3 98.5h1M463.3 99.5h1M349.3 100.5h1M364.3 101.5h1M348.3 105.5h1M353.3 109.5h1M472.3 113.5h1M469.3 119.5h1M338.3 120.5h1M326.3 127.5h1M321.3 140.5h1M488.3 147.5h1"/><path stroke="#09acbe" d="M414.3 61.5h1M426.3 61.5h1M416.3 64.5h1M389.3 66.5h1M397.3 66.5h1M390.3 69.5h1M402.3 71.5h1M417.3 71.5h1M377.3 72.5h1M413.3 73.5h1M402.3 74.5h1M434.3 75.5h1M434.3 77.5h2M446.3 78.5h1M406.3 79.5h1M376.3 80.5h1M378.3 81.5h1M386.3 81.5h1M448.3 81.5h1M375.3 82.5h1M397.3 82.5h1M450.3 82.5h1M361.3 84.5h1M382.3 84.5h1M436.3 85.5h1M453.3 89.5h1M351.3 91.5h1M348.3 94.5h1M358.3 96.5h1M360.3 96.5h1M451.3 96.5h1M455.3 98.5h1M348.3 100.5h1M463.3 101.5h1M345.3 103.5h1M463.3 103.5h1M460.3 104.5h1M348.3 108.5h1M342.3 109.5h1M469.3 110.5h1M344.3 111.5h1M337.3 112.5h1M331.3 115.5h1M475.3 118.5h1M328.3 126.5h1M326.3 129.5h1M324.3 131.5h1M323.3 146.5h1M321.3 148.5h1M493.3 149.5h1M318.3 150.5h1M315.3 154.5h1M495.3 158.5h1M495.3 159.5h1"/><path stroke="#12afb7" d="M403.3 59.5h1M418.3 59.5h1M416.3 61.5h1M392.3 63.5h1M415.3 63.5h1M426.3 66.5h1M395.3 67.5h1M423.3 68.5h1M388.3 70.5h1M437.3 71.5h1M412.3 73.5h1M420.3 73.5h1M408.3 75.5h1M406.3 77.5h1M387.3 78.5h1M442.3 78.5h1M412.3 80.5h1M449.3 82.5h1M426.3 83.5h1M392.3 84.5h1M447.3 84.5h1M422.3 85.5h1M370.3 87.5h1M356.3 89.5h1M379.3 89.5h1M374.3 90.5h1M375.3 91.5h1M453.3 96.5h1M462.3 96.5h1M345.3 97.5h1M462.3 98.5h1M353.3 99.5h1M351.3 102.5h1M462.3 102.5h1M460.3 103.5h1M340.3 107.5h1M336.3 109.5h1M345.3 109.5h1M343.3 113.5h1M348.3 113.5h1M472.3 114.5h1M467.3 115.5h1M470.3 119.5h1M337.3 121.5h1M476.3 123.5h1M474.3 128.5h1M314.3 131.5h1M323.3 132.5h1M489.3 149.5h1M492.3 150.5h1"/><path stroke="#1eb3ae" d="M410.3 55.5h2M400.3 57.5h1M416.3 58.5h2M393.3 59.5h2M386.3 61.5h2M386.3 62.5h2M422.3 62.5h1M385.3 63.5h2M434.3 64.5h1M397.3 65.5h1M381.3 67.5h1M396.3 67.5h1M415.3 67.5h1M389.3 68.5h1M412.3 69.5h1M422.3 69.5h1M386.3 70.5h1M404.3 70.5h1M421.3 70.5h1M440.3 70.5h1M410.3 71.5h1M420.3 71.5h1M435.3 71.5h1M440.3 71.5h1M402.3 72.5h1M437.3 72.5h1M375.3 73.5h1M411.3 73.5h1M419.3 73.5h1M383.3 75.5h1M435.3 75.5h1M417.3 76.5h1M366.3 77.5h1M399.3 77.5h1M447.3 77.5h4M378.3 78.5h1M448.3 78.5h3M378.3 79.5h1M421.3 79.5h1M449.3 79.5h1M438.3 80.5h1M450.3 80.5h1M419.3 82.5h1M434.3 82.5h2M407.3 83.5h1M434.3 83.5h1M412.3 84.5h2M415.3 84.5h1M429.3 84.5h1M441.3 84.5h2M418.3 85.5h2M423.3 85.5h2M427.3 85.5h1M447.3 85.5h1M361.3 86.5h1M399.3 86.5h1M404.3 86.5h2M416.3 86.5h1M419.3 86.5h2M427.3 86.5h2M453.3 86.5h1M387.3 87.5h1M395.3 87.5h1M400.3 87.5h2M425.3 87.5h1M430.3 87.5h2M450.3 87.5h1M359.3 88.5h1M377.3 88.5h1M388.3 88.5h2M395.3 88.5h1M398.3 88.5h1M428.3 88.5h1M435.3 88.5h3M447.3 88.5h1M382.3 89.5h2M385.3 89.5h1M394.3 89.5h4M437.3 89.5h1M442.3 89.5h2M448.3 89.5h1M359.3 90.5h1M382.3 90.5h2M391.3 90.5h2M435.3 90.5h1M439.3 90.5h1M442.3 90.5h1M385.3 91.5h1M457.3 91.5h1M375.3 92.5h1M380.3 92.5h1M383.3 92.5h2M439.3 92.5h1M445.3 92.5h1M348.3 93.5h1M374.3 93.5h1M380.3 93.5h1M444.3 93.5h2M460.3 93.5h1M347.3 94.5h1M373.3 94.5h1M445.3 94.5h1M350.3 95.5h1M377.3 95.5h1M444.3 95.5h2M458.3 95.5h1M463.3 95.5h1M365.3 96.5h1M367.3 96.5h1M369.3 96.5h1M371.3 96.5h2M452.3 96.5h1M463.3 96.5h1M368.3 97.5h1M371.3 97.5h2M447.3 97.5h1M364.3 98.5h1M448.3 98.5h1M369.3 99.5h1M467.3 99.5h1M462.3 100.5h1M466.3 100.5h3M349.3 101.5h1M452.3 101.5h1M459.3 101.5h1M462.3 101.5h1M452.3 102.5h2M455.3 102.5h2M349.3 103.5h3M453.3 103.5h1M361.3 104.5h2M347.3 105.5h1M359.3 105.5h1M362.3 105.5h1M466.3 105.5h1M343.3 106.5h1M361.3 106.5h2M469.3 106.5h1M361.3 107.5h1M351.3 108.5h1M357.3 109.5h2M458.3 109.5h1M466.3 109.5h1M334.3 110.5h1M338.3 110.5h1M357.3 110.5h2M462.3 110.5h2M471.3 110.5h1M337.3 111.5h1M345.3 111.5h1M349.3 111.5h1M355.3 111.5h3M462.3 111.5h1M464.3 111.5h1M471.3 111.5h1M356.3 112.5h1M464.3 112.5h1M333.3 113.5h1M337.3 113.5h1M344.3 113.5h1M356.3 113.5h1M465.3 113.5h1M473.3 113.5h1M352.3 114.5h3M464.3 115.5h2M474.3 115.5h1M353.3 116.5h1M352.3 117.5h2M466.3 117.5h1M347.3 118.5h1M351.3 118.5h2M465.3 118.5h1M467.3 118.5h1M347.3 119.5h1M349.3 119.5h2M347.3 120.5h1M349.3 120.5h1M345.3 121.5h2M477.3 121.5h1M340.3 122.5h1M475.3 122.5h1M477.3 122.5h1M340.3 123.5h1M472.3 123.5h1M472.3 124.5h1M476.3 124.5h1M475.3 125.5h1M336.3 127.5h2M329.3 128.5h1M336.3 128.5h2M335.3 129.5h3M479.3 129.5h2M335.3 130.5h1M337.3 130.5h1M337.3 131.5h1M478.3 131.5h1M320.3 132.5h1M334.3 133.5h2M334.3 134.5h2M333.3 135.5h2M478.3 135.5h1M334.3 136.5h1M478.3 136.5h1M324.3 137.5h1M478.3 137.5h1M481.3 137.5h1M485.3 138.5h1M330.3 139.5h2M485.3 139.5h1M328.3 140.5h2M331.3 140.5h1M482.3 141.5h2M326.3 142.5h2M482.3 142.5h1M327.3 143.5h1M329.3 144.5h1M485.3 144.5h1M325.3 145.5h1M484.3 145.5h1M325.3 146.5h1M484.3 146.5h1M325.3 147.5h1M493.3 147.5h1M325.3 148.5h2M321.3 149.5h1M323.3 149.5h1M325.3 149.5h1M323.3 150.5h1M325.3 150.5h1M490.3 150.5h1M493.3 150.5h1M325.3 151.5h1M489.3 151.5h1M497.3 151.5h1M488.3 152.5h2M493.3 152.5h1M497.3 152.5h1M496.3 153.5h1M322.3 154.5h1M490.3 157.5h3M494.3 157.5h1M318.3 158.5h1M491.3 158.5h3M318.3 159.5h2M492.3 159.5h1M316.3 160.5h1M318.3 160.5h2M317.3 161.5h2M496.3 165.5h1M495.3 166.5h2M314.3 167.5h1M314.3 168.5h1"/><path stroke="#2bb6a6" d="M401.3 59.5h1M404.3 59.5h1M397.3 60.5h1M413.3 60.5h2M413.3 61.5h1M390.3 62.5h1M398.3 62.5h1M404.3 62.5h1M419.3 62.5h3M423.3 62.5h1M428.3 62.5h2M393.3 63.5h1M404.3 63.5h1M409.3 63.5h1M417.3 63.5h2M423.3 63.5h2M428.3 63.5h1M391.3 64.5h1M398.3 64.5h1M403.3 64.5h1M407.3 64.5h2M411.3 64.5h1M417.3 64.5h1M400.3 65.5h1M402.3 65.5h1M405.3 65.5h1M408.3 65.5h1M427.3 65.5h2M431.3 65.5h1M433.3 65.5h1M400.3 66.5h1M404.3 66.5h1M425.3 66.5h1M429.3 66.5h1M384.3 67.5h1M390.3 67.5h2M404.3 67.5h1M420.3 67.5h2M383.3 68.5h2M408.3 68.5h1M415.3 68.5h1M429.3 68.5h2M379.3 69.5h1M414.3 69.5h1M418.3 69.5h1M426.3 69.5h1M376.3 70.5h1M405.3 70.5h1M411.3 70.5h1M414.3 70.5h1M425.3 70.5h1M430.3 70.5h1M437.3 70.5h1M392.3 71.5h1M411.3 71.5h1M424.3 71.5h1M433.3 71.5h2M438.3 71.5h2M390.3 72.5h1M393.3 72.5h1M399.3 72.5h1M404.3 72.5h1M429.3 72.5h1M432.3 72.5h1M438.3 72.5h1M376.3 73.5h1M378.3 73.5h1M397.3 73.5h2M403.3 73.5h1M410.3 73.5h1M414.3 73.5h1M421.3 73.5h3M425.3 73.5h1M432.3 73.5h1M440.3 73.5h3M379.3 74.5h1M396.3 74.5h1M408.3 74.5h4M388.3 75.5h1M398.3 75.5h3M410.3 75.5h1M413.3 75.5h1M423.3 75.5h1M431.3 75.5h1M375.3 76.5h1M378.3 76.5h1M386.3 76.5h1M388.3 76.5h1M406.3 76.5h1M423.3 76.5h1M425.3 76.5h2M430.3 76.5h2M434.3 76.5h1M443.3 76.5h1M370.3 77.5h1M376.3 77.5h3M388.3 77.5h1M429.3 77.5h1M431.3 77.5h1M445.3 77.5h1M379.3 78.5h1M405.3 78.5h1M415.3 78.5h2M419.3 78.5h1M429.3 78.5h2M434.3 78.5h1M365.3 79.5h1M370.3 79.5h2M373.3 79.5h1M407.3 79.5h1M436.3 79.5h1M447.3 79.5h1M369.3 80.5h1M372.3 80.5h1M375.3 80.5h1M377.3 80.5h1M384.3 80.5h1M405.3 80.5h1M407.3 80.5h1M431.3 80.5h1M434.3 80.5h1M436.3 80.5h2M439.3 80.5h1M448.3 80.5h1M384.3 81.5h1M393.3 81.5h2M398.3 81.5h1M400.3 81.5h1M412.3 81.5h2M418.3 81.5h1M439.3 81.5h1M383.3 82.5h1M388.3 82.5h2M393.3 82.5h2M400.3 82.5h1M446.3 82.5h1M361.3 83.5h1M363.3 83.5h1M374.3 83.5h1M384.3 83.5h1M391.3 83.5h2M397.3 83.5h1M410.3 83.5h1M415.3 83.5h1M418.3 83.5h2M421.3 83.5h1M425.3 83.5h1M427.3 83.5h2M445.3 83.5h1M448.3 83.5h1M360.3 84.5h1M362.3 84.5h1M386.3 84.5h1M421.3 84.5h1M435.3 84.5h1M445.3 84.5h1M450.3 84.5h1M362.3 85.5h1M375.3 85.5h2M378.3 85.5h1M380.3 85.5h2M395.3 85.5h1M448.3 85.5h3M373.3 86.5h2M377.3 86.5h1M381.3 87.5h1M389.3 87.5h1M443.3 87.5h1M449.3 87.5h1M374.3 88.5h1M443.3 88.5h1M450.3 88.5h1M369.3 90.5h1M371.3 90.5h1M445.3 90.5h1M447.3 90.5h1M451.3 90.5h1M453.3 90.5h1M371.3 91.5h2M374.3 91.5h1M350.3 92.5h1M356.3 92.5h1M360.3 92.5h1M451.3 92.5h1M455.3 92.5h1M349.3 93.5h1M360.3 93.5h1M363.3 93.5h2M359.3 94.5h1M449.3 94.5h1M360.3 95.5h1M368.3 95.5h1M371.3 95.5h1M345.3 96.5h1M350.3 96.5h1M366.3 96.5h1M450.3 96.5h1M459.3 96.5h1M349.3 97.5h2M357.3 97.5h2M364.3 97.5h2M453.3 97.5h1M459.3 97.5h1M349.3 98.5h2M353.3 98.5h1M456.3 98.5h1M348.3 99.5h1M363.3 99.5h1M366.3 99.5h1M455.3 99.5h1M458.3 99.5h1M460.3 99.5h3M347.3 100.5h1M361.3 100.5h1M364.3 100.5h1M458.3 100.5h1M461.3 100.5h1M463.3 100.5h3M344.3 101.5h1M461.3 101.5h1M345.3 102.5h2M349.3 102.5h1M362.3 102.5h1M457.3 102.5h1M355.3 103.5h1M362.3 103.5h1M344.3 104.5h1M352.3 104.5h1M464.3 104.5h1M459.3 105.5h1M467.3 105.5h1M346.3 106.5h1M337.3 107.5h1M342.3 107.5h1M345.3 107.5h1M352.3 107.5h1M356.3 107.5h1M462.3 107.5h1M343.3 108.5h1M350.3 108.5h1M354.3 108.5h1M463.3 108.5h2M339.3 109.5h1M464.3 109.5h1M353.3 110.5h1M464.3 110.5h1M338.3 111.5h1M340.3 111.5h1M465.3 111.5h2M469.3 111.5h1M338.3 112.5h1M345.3 112.5h1M348.3 112.5h2M345.3 113.5h2M351.3 113.5h1M353.3 113.5h1M470.3 113.5h1M348.3 114.5h1M334.3 116.5h1M474.3 116.5h1M332.3 117.5h1M334.3 117.5h1M337.3 117.5h1M469.3 118.5h2M328.3 119.5h1M328.3 120.5h1M336.3 121.5h1M473.3 121.5h1M334.3 122.5h1M334.3 123.5h1M475.3 123.5h1M329.3 124.5h1M333.3 124.5h1M475.3 124.5h1M476.3 125.5h1M326.3 126.5h1M333.3 126.5h1M475.3 126.5h1M335.3 127.5h1M475.3 128.5h1M479.3 128.5h1M325.3 129.5h1M315.3 130.5h1M322.3 130.5h1M326.3 130.5h1M479.3 130.5h1M321.3 131.5h3M479.3 131.5h1M321.3 132.5h1M323.3 133.5h1M319.3 134.5h1M323.3 134.5h1M323.3 135.5h1M323.3 136.5h1M483.3 136.5h1M483.3 137.5h1M325.3 138.5h2M484.3 138.5h1M320.3 139.5h1M325.3 139.5h1M327.3 139.5h1M484.3 139.5h1M325.3 140.5h2M485.3 140.5h1M323.3 144.5h1M491.3 147.5h1M493.3 148.5h2M497.3 150.5h1M320.3 151.5h1M493.3 151.5h1M497.3 153.5h1M496.3 154.5h1M315.3 155.5h1M493.3 155.5h2M314.3 156.5h1M314.3 157.5h1M495.3 157.5h1M314.3 158.5h1"/><path stroke="#3bb99c" d="M406.3 58.5h2M405.3 59.5h2M412.3 60.5h1M415.3 60.5h1M417.3 60.5h1M393.3 61.5h1M417.3 61.5h1M422.3 61.5h1M427.3 61.5h1M393.3 62.5h1M418.3 62.5h1M391.3 63.5h1M398.3 63.5h1M408.3 63.5h1M410.3 63.5h1M419.3 63.5h1M425.3 63.5h1M404.3 64.5h1M406.3 64.5h1M415.3 64.5h1M423.3 64.5h3M429.3 64.5h1M432.3 64.5h1M387.3 65.5h1M395.3 65.5h2M401.3 65.5h1M407.3 65.5h1M409.3 65.5h1M385.3 66.5h1M387.3 66.5h1M403.3 66.5h1M407.3 66.5h1M424.3 66.5h1M433.3 66.5h2M397.3 67.5h1M402.3 67.5h2M422.3 67.5h1M425.3 67.5h1M394.3 68.5h1M416.3 68.5h1M424.3 68.5h2M380.3 69.5h1M393.3 69.5h1M403.3 69.5h1M407.3 69.5h1M415.3 69.5h3M430.3 69.5h1M433.3 69.5h1M389.3 70.5h1M391.3 70.5h2M396.3 70.5h3M415.3 70.5h1M418.3 70.5h1M435.3 70.5h1M387.3 71.5h3M416.3 71.5h1M425.3 71.5h1M430.3 71.5h1M432.3 71.5h1M375.3 72.5h1M378.3 72.5h1M394.3 72.5h1M397.3 72.5h1M413.3 72.5h1M421.3 72.5h1M425.3 72.5h1M435.3 72.5h2M439.3 72.5h2M373.3 73.5h2M377.3 73.5h1M384.3 73.5h1M393.3 73.5h2M396.3 73.5h1M399.3 73.5h1M404.3 73.5h1M407.3 73.5h2M431.3 73.5h1M433.3 73.5h1M372.3 74.5h1M376.3 74.5h1M381.3 74.5h1M385.3 74.5h1M391.3 74.5h3M397.3 74.5h1M399.3 74.5h1M412.3 74.5h1M414.3 74.5h2M420.3 74.5h2M432.3 74.5h2M370.3 75.5h1M372.3 75.5h1M375.3 75.5h1M378.3 75.5h2M381.3 75.5h1M389.3 75.5h1M416.3 75.5h1M422.3 75.5h1M426.3 75.5h1M436.3 75.5h1M368.3 76.5h4M376.3 76.5h1M379.3 76.5h1M389.3 76.5h1M397.3 76.5h1M400.3 76.5h1M404.3 76.5h2M409.3 76.5h1M415.3 76.5h1M429.3 76.5h1M432.3 76.5h1M369.3 77.5h1M374.3 77.5h1M387.3 77.5h1M402.3 77.5h1M414.3 77.5h1M425.3 77.5h1M428.3 77.5h1M430.3 77.5h1M369.3 78.5h1M377.3 78.5h1M386.3 78.5h1M393.3 78.5h1M404.3 78.5h1M406.3 78.5h1M414.3 78.5h1M392.3 79.5h2M398.3 79.5h1M429.3 79.5h1M432.3 79.5h1M438.3 79.5h1M442.3 79.5h1M370.3 80.5h1M373.3 80.5h1M385.3 80.5h1M394.3 80.5h1M413.3 80.5h1M432.3 80.5h2M435.3 80.5h1M440.3 80.5h2M444.3 80.5h2M449.3 80.5h1M380.3 81.5h1M409.3 81.5h1M419.3 81.5h1M430.3 81.5h1M379.3 82.5h1M391.3 82.5h1M401.3 82.5h1M409.3 82.5h1M424.3 82.5h2M447.3 82.5h1M368.3 83.5h1M372.3 83.5h1M380.3 83.5h2M386.3 83.5h1M393.3 83.5h2M396.3 83.5h1M406.3 83.5h1M408.3 83.5h1M411.3 83.5h1M429.3 83.5h1M437.3 83.5h1M441.3 83.5h1M444.3 83.5h1M446.3 83.5h1M376.3 84.5h2M384.3 84.5h1M390.3 84.5h1M427.3 84.5h1M431.3 84.5h1M437.3 84.5h1M451.3 84.5h1M368.3 85.5h1M382.3 85.5h1M430.3 85.5h1M435.3 85.5h1M441.3 85.5h2M362.3 86.5h1M367.3 86.5h1M380.3 86.5h1M382.3 86.5h1M437.3 86.5h1M443.3 86.5h1M360.3 87.5h2M379.3 87.5h1M382.3 87.5h1M453.3 87.5h1M357.3 88.5h1M360.3 88.5h1M367.3 88.5h1M360.3 89.5h3M367.3 89.5h1M369.3 89.5h1M372.3 89.5h1M375.3 89.5h1M441.3 89.5h1M449.3 89.5h1M356.3 90.5h1M375.3 90.5h1M378.3 90.5h2M369.3 91.5h1M373.3 91.5h1M381.3 91.5h1M444.3 91.5h2M447.3 91.5h2M453.3 91.5h2M366.3 92.5h2M371.3 92.5h2M374.3 92.5h1M449.3 92.5h1M457.3 92.5h1M351.3 93.5h1M359.3 93.5h1M458.3 93.5h1M360.3 94.5h1M364.3 94.5h1M372.3 94.5h1M456.3 94.5h1M358.3 95.5h2M366.3 95.5h2M449.3 95.5h1M461.3 95.5h1M363.3 96.5h1M458.3 96.5h1M346.3 97.5h1M351.3 97.5h1M359.3 97.5h1M367.3 97.5h1M451.3 97.5h1M454.3 97.5h1M461.3 97.5h1M345.3 98.5h1M357.3 98.5h1M352.3 99.5h1M356.3 99.5h1M342.3 100.5h1M362.3 100.5h1M365.3 100.5h1M345.3 101.5h1M347.3 101.5h1M457.3 101.5h1M342.3 102.5h1M347.3 102.5h1M352.3 102.5h1M354.3 102.5h1M347.3 103.5h1M353.3 103.5h1M361.3 103.5h1M464.3 103.5h1M347.3 104.5h1M355.3 104.5h1M359.3 104.5h1M459.3 104.5h1M464.3 105.5h2M341.3 106.5h1M347.3 106.5h1M355.3 106.5h2M459.3 106.5h1M462.3 106.5h1M346.3 107.5h1M465.3 107.5h1M344.3 108.5h4M465.3 108.5h1M338.3 109.5h1M347.3 109.5h1M467.3 109.5h1M469.3 109.5h1M336.3 110.5h1M339.3 110.5h1M466.3 110.5h1M339.3 111.5h1M350.3 111.5h1M467.3 111.5h1M343.3 112.5h1M346.3 112.5h1M350.3 112.5h1M465.3 112.5h1M347.3 113.5h1M466.3 113.5h1M344.3 114.5h1M346.3 114.5h1M351.3 114.5h1M339.3 115.5h2M348.3 115.5h1M331.3 116.5h1M348.3 116.5h1M471.3 116.5h1M347.3 117.5h1M471.3 117.5h1M474.3 117.5h1M329.3 118.5h1M471.3 118.5h1M473.3 118.5h1M329.3 119.5h1M327.3 120.5h1M470.3 120.5h1M473.3 120.5h2M326.3 121.5h1M334.3 121.5h1M333.3 122.5h1M336.3 122.5h1M329.3 123.5h1M333.3 123.5h1M334.3 124.5h1M326.3 125.5h1M328.3 125.5h1M334.3 125.5h1M334.3 126.5h1M476.3 126.5h1M474.3 127.5h1M476.3 127.5h2M325.3 128.5h1M328.3 129.5h2M324.3 130.5h1M320.3 131.5h1M326.3 131.5h1M314.3 132.5h1M322.3 132.5h1M333.3 132.5h1M314.3 133.5h1M321.3 133.5h1M326.3 133.5h1M333.3 133.5h1M478.3 133.5h2M326.3 134.5h1M478.3 134.5h1M321.3 136.5h1M325.3 137.5h1M315.3 138.5h1M322.3 139.5h1M328.3 139.5h1M320.3 140.5h1M327.3 140.5h1M320.3 141.5h2M325.3 141.5h1M488.3 144.5h1M320.3 146.5h1M321.3 147.5h1M489.3 147.5h1M489.3 148.5h1M490.3 149.5h1M494.3 149.5h1M321.3 150.5h2M494.3 150.5h1M318.3 151.5h1M322.3 151.5h1M322.3 152.5h1M496.3 152.5h1M314.3 154.5h1M494.3 154.5h2M497.3 154.5h1M314.3 155.5h1M495.3 155.5h2M495.3 156.5h1M314.3 162.5h1M497.3 162.5h1M497.3 163.5h1"/><path stroke="#4cbc92" d="M396.3 59.5h2M416.3 60.5h1M399.3 61.5h1M412.3 61.5h1M418.3 61.5h1M405.3 62.5h5M422.3 63.5h1M390.3 64.5h1M405.3 64.5h1M388.3 65.5h1M405.3 66.5h2M412.3 66.5h1M383.3 67.5h1M401.3 67.5h1M419.3 67.5h1M418.3 68.5h1M437.3 68.5h1M408.3 69.5h1M385.3 70.5h1M390.3 70.5h1M416.3 70.5h1M409.3 71.5h1M428.3 71.5h1M426.3 72.5h1M372.3 73.5h1M381.3 73.5h1M383.3 73.5h1M392.3 73.5h1M395.3 73.5h1M400.3 73.5h1M409.3 73.5h1M413.3 74.5h1M416.3 74.5h1M376.3 75.5h1M380.3 75.5h1M384.3 75.5h1M387.3 75.5h1M411.3 75.5h2M444.3 75.5h1M372.3 76.5h1M393.3 77.5h1M398.3 77.5h1M415.3 77.5h1M388.3 78.5h1M417.3 78.5h1M372.3 79.5h1M386.3 79.5h1M394.3 79.5h1M396.3 79.5h1M411.3 79.5h1M425.3 79.5h1M435.3 79.5h1M424.3 80.5h1M429.3 80.5h2M374.3 81.5h1M364.3 82.5h1M379.3 83.5h1M423.3 83.5h2M367.3 84.5h1M385.3 84.5h1M393.3 84.5h1M428.3 84.5h1M361.3 85.5h1M431.3 85.5h1M436.3 87.5h1M379.3 88.5h1M452.3 88.5h1M440.3 89.5h1M360.3 90.5h1M378.3 91.5h1M452.3 91.5h1M351.3 92.5h1M358.3 92.5h1M375.3 93.5h1M448.3 94.5h1M364.3 95.5h1M448.3 95.5h1M362.3 96.5h1M456.3 97.5h1M364.3 99.5h1M360.3 100.5h1M363.3 100.5h1M454.3 100.5h1M346.3 101.5h1M341.3 102.5h1M343.3 102.5h1M352.3 103.5h1M360.3 103.5h1M463.3 105.5h1M340.3 106.5h1M354.3 107.5h1M459.3 107.5h1M353.3 108.5h1M466.3 108.5h1M348.3 109.5h1M347.3 110.5h1M350.3 110.5h1M465.3 110.5h1M350.3 113.5h1M343.3 114.5h1M334.3 115.5h1M346.3 115.5h1M333.3 117.5h1M334.3 118.5h1M334.3 119.5h1M339.3 119.5h1M327.3 121.5h1M333.3 121.5h1M329.3 122.5h1M472.3 122.5h1M477.3 123.5h1M330.3 125.5h1M330.3 126.5h1M474.3 126.5h1M334.3 127.5h1M475.3 127.5h1M321.3 130.5h1M480.3 131.5h1M326.3 132.5h1M322.3 138.5h1M324.3 138.5h1M323.3 139.5h1M320.3 142.5h1M489.3 146.5h1M494.3 151.5h1M318.3 154.5h1M318.3 155.5h2M496.3 162.5h1"/><path stroke="#5fbe88" d="M408.3 58.5h1M392.3 61.5h1M400.3 61.5h1M419.3 61.5h1M424.3 62.5h1M406.3 65.5h1M408.3 66.5h1M413.3 66.5h1M431.3 67.5h1M401.3 70.5h1M417.3 70.5h1M390.3 71.5h1M404.3 71.5h1M441.3 72.5h1M371.3 73.5h1M391.3 73.5h1M418.3 73.5h1M377.3 74.5h1M403.3 74.5h1M434.3 74.5h1M369.3 75.5h1M397.3 75.5h1M421.3 75.5h1M442.3 75.5h1M381.3 76.5h1M398.3 76.5h1M414.3 76.5h1M416.3 76.5h1M442.3 76.5h1M397.3 77.5h1M436.3 77.5h2M402.3 78.5h1M425.3 78.5h1M431.3 78.5h1M395.3 79.5h1M397.3 79.5h1M405.3 79.5h1M367.3 80.5h1M423.3 80.5h1M379.3 81.5h1M401.3 81.5h1M417.3 81.5h1M433.3 81.5h1M442.3 81.5h1M408.3 82.5h1M395.3 83.5h1M422.3 83.5h1M451.3 83.5h1M363.3 84.5h1M378.3 84.5h1M406.3 84.5h1M434.3 84.5h1M429.3 85.5h1M437.3 85.5h1M451.3 85.5h1M379.3 86.5h1M436.3 86.5h1M362.3 87.5h1M368.3 87.5h1M442.3 87.5h1M370.3 88.5h1M438.3 88.5h1M376.3 89.5h1M370.3 90.5h1M352.3 91.5h1M454.3 92.5h1M371.3 93.5h1M365.3 95.5h1M454.3 95.5h1M452.3 97.5h1M462.3 97.5h1M348.3 98.5h1M356.3 98.5h1M343.3 105.5h1M465.3 106.5h1M467.3 106.5h1M338.3 107.5h1M349.3 108.5h1M462.3 108.5h1M346.3 111.5h1M336.3 113.5h1M342.3 113.5h1M467.3 114.5h1M333.3 116.5h1M344.3 116.5h1M330.3 117.5h1M344.3 117.5h1M334.3 120.5h1M328.3 121.5h1M474.3 123.5h1M321.3 125.5h1M327.3 126.5h1M323.3 130.5h1M477.3 131.5h1M322.3 133.5h1M325.3 133.5h1M321.3 134.5h1M316.3 137.5h1M486.3 141.5h1M492.3 147.5h1M493.3 156.5h1M494.3 158.5h1"/><path stroke="#72bf80" d="M395.3 59.5h1M413.3 59.5h2M411.3 60.5h1M403.3 61.5h1M389.3 62.5h1M390.3 65.5h1M386.3 66.5h1M386.3 67.5h1M423.3 67.5h1M426.3 68.5h1M411.3 69.5h1M384.3 70.5h1M406.3 70.5h1M429.3 70.5h1M377.3 71.5h1M396.3 71.5h1M412.3 71.5h1M423.3 71.5h1M426.3 71.5h1M429.3 71.5h1M431.3 71.5h1M401.3 72.5h1M428.3 72.5h1M385.3 73.5h1M402.3 73.5h1M415.3 73.5h1M431.3 74.5h1M441.3 74.5h1M385.3 76.5h1M392.3 76.5h1M410.3 76.5h2M444.3 76.5h1M368.3 77.5h1M371.3 77.5h1M375.3 78.5h1M403.3 78.5h1M433.3 78.5h1M420.3 79.5h1M433.3 79.5h1M366.3 80.5h1M366.3 81.5h1M408.3 81.5h1M410.3 82.5h2M404.3 83.5h1M403.3 84.5h1M367.3 85.5h1M396.3 85.5h1M446.3 85.5h1M363.3 86.5h1M381.3 86.5h1M386.3 86.5h1M444.3 86.5h1M378.3 87.5h1M383.3 87.5h1M375.3 88.5h1M378.3 88.5h1M386.3 88.5h1M440.3 88.5h1M450.3 89.5h1M356.3 91.5h1M450.3 91.5h1M456.3 91.5h1M373.3 92.5h1M449.3 93.5h1M457.3 95.5h1M363.3 97.5h1M351.3 99.5h1M357.3 99.5h1M365.3 99.5h1M351.3 101.5h1M355.3 102.5h1M463.3 102.5h1M347.3 107.5h1M353.3 107.5h1M339.3 108.5h1M350.3 109.5h1M354.3 109.5h1M349.3 110.5h1M352.3 110.5h1M336.3 111.5h1M467.3 113.5h1M342.3 114.5h1M471.3 119.5h1M329.3 120.5h1M329.3 121.5h1M322.3 129.5h1M327.3 130.5h1M315.3 131.5h1M319.3 133.5h1M314.3 134.5h1M326.3 137.5h1M482.3 137.5h1M320.3 143.5h1M324.3 145.5h1M491.3 153.5h1M494.3 153.5h2M315.3 156.5h1M496.3 156.5h1"/><path stroke="#85bf78" d="M409.3 58.5h1M401.3 60.5h1M390.3 63.5h1M412.3 64.5h1M423.3 66.5h1M385.3 67.5h1M395.3 68.5h1M431.3 68.5h1M381.3 69.5h1M422.3 70.5h1M386.3 71.5h1M391.3 71.5h1M427.3 71.5h1M374.3 72.5h1M379.3 72.5h1M381.3 72.5h1M387.3 72.5h1M422.3 72.5h1M424.3 72.5h1M401.3 73.5h1M436.3 73.5h1M439.3 73.5h1M398.3 74.5h1M422.3 74.5h1M377.3 75.5h1M404.3 75.5h1M430.3 75.5h1M424.3 76.5h1M427.3 76.5h1M442.3 77.5h1M374.3 78.5h1M418.3 78.5h1M432.3 78.5h1M384.3 79.5h1M408.3 79.5h1M434.3 79.5h1M446.3 80.5h1M365.3 81.5h1M392.3 81.5h1M410.3 81.5h2M434.3 81.5h1M436.3 82.5h1M422.3 84.5h1M396.3 86.5h1M372.3 87.5h1M373.3 93.5h1M455.3 93.5h1M351.3 96.5h1M454.3 96.5h1M353.3 97.5h1M346.3 98.5h1M367.3 98.5h1M453.3 98.5h1M345.3 99.5h1M347.3 99.5h1M359.3 101.5h1M458.3 101.5h1M356.3 103.5h1M463.3 107.5h2M465.3 109.5h1M341.3 111.5h1M347.3 111.5h1M336.3 112.5h1M339.3 112.5h1M333.3 114.5h1M338.3 115.5h1M344.3 115.5h1M349.3 117.5h1M328.3 124.5h1M478.3 126.5h1M330.3 127.5h1M316.3 130.5h1M334.3 130.5h1M331.3 132.5h1M321.3 135.5h1M330.3 136.5h1M328.3 138.5h1M483.3 138.5h1M488.3 143.5h1M322.3 144.5h1M490.3 148.5h1M492.3 149.5h1M491.3 152.5h1M494.3 152.5h1M317.3 154.5h1M495.3 160.5h1"/><path stroke="#95bf71" d="M402.3 61.5h1M405.3 63.5h1M414.3 63.5h1M426.3 63.5h2M392.3 64.5h1M397.3 64.5h1M389.3 65.5h1M391.3 65.5h1M382.3 66.5h1M390.3 66.5h1M411.3 66.5h1M414.3 66.5h1M424.3 67.5h1M382.3 68.5h1M423.3 69.5h1M432.3 69.5h1M424.3 70.5h1M436.3 70.5h1M415.3 71.5h1M417.3 72.5h1M427.3 72.5h1M390.3 73.5h1M371.3 74.5h1M382.3 76.5h1M393.3 76.5h1M379.3 77.5h1M404.3 77.5h1M412.3 79.5h1M374.3 80.5h1M381.3 80.5h1M408.3 80.5h1M442.3 80.5h1M395.3 82.5h1M433.3 82.5h1M405.3 83.5h1M433.3 83.5h1M379.3 84.5h1M405.3 84.5h1M374.3 85.5h1M379.3 85.5h1M364.3 86.5h1M376.3 86.5h1M358.3 87.5h1M361.3 88.5h2M439.3 88.5h1M441.3 88.5h2M357.3 89.5h1M370.3 89.5h1M449.3 90.5h1M366.3 91.5h1M368.3 92.5h1M446.3 92.5h1M357.3 93.5h1M447.3 93.5h1M453.3 93.5h1M351.3 94.5h1M461.3 96.5h1M351.3 98.5h1M454.3 99.5h1M343.3 104.5h1M358.3 105.5h1M342.3 106.5h1M338.3 108.5h1M346.3 109.5h1M463.3 109.5h1M342.3 110.5h1M347.3 112.5h1M351.3 112.5h1M345.3 116.5h1M473.3 122.5h1M334.3 128.5h1M331.3 133.5h1M326.3 135.5h1M325.3 136.5h1M330.3 137.5h1M327.3 138.5h1M486.3 142.5h1M489.3 145.5h1"/><path stroke="#a5be6b" d="M402.3 60.5h1M394.3 61.5h1M420.3 61.5h1M427.3 62.5h1M389.3 63.5h1M426.3 64.5h1M416.3 65.5h1M396.3 66.5h1M422.3 66.5h1M377.3 70.5h1M423.3 70.5h1M421.3 71.5h1M373.3 72.5h1M380.3 72.5h1M389.3 72.5h1M395.3 72.5h1M423.3 72.5h1M375.3 74.5h1M426.3 74.5h1M437.3 74.5h1M429.3 75.5h1M443.3 75.5h1M445.3 76.5h1M392.3 77.5h1M394.3 77.5h1M396.3 77.5h1M407.3 77.5h1M438.3 77.5h1M376.3 78.5h1M407.3 78.5h1M439.3 78.5h1M385.3 79.5h1M443.3 80.5h1M402.3 82.5h1M389.3 83.5h1M449.3 83.5h1M440.3 84.5h1M393.3 86.5h1M442.3 86.5h1M449.3 86.5h1M451.3 87.5h1M376.3 88.5h1M363.3 89.5h1M451.3 89.5h1M452.3 90.5h1M359.3 91.5h1M380.3 91.5h1M453.3 92.5h1M355.3 93.5h1M361.3 93.5h2M365.3 93.5h1M460.3 95.5h1M357.3 96.5h1M368.3 96.5h1M456.3 100.5h1M341.3 101.5h1M358.3 101.5h1M335.3 109.5h1M348.3 111.5h1M469.3 112.5h1M337.3 114.5h1M350.3 114.5h1M351.3 115.5h1M472.3 118.5h1M326.3 122.5h1M335.3 122.5h1M330.3 124.5h1M477.3 126.5h1M325.3 127.5h1M333.3 131.5h1M324.3 144.5h1M322.3 149.5h1M491.3 154.5h1M497.3 155.5h1"/><path stroke="#b4bd65" d="M409.3 61.5h1M411.3 61.5h1M421.3 61.5h1M396.3 64.5h1M418.3 64.5h1M414.3 65.5h1M394.3 66.5h1M400.3 67.5h1M428.3 68.5h1M427.3 69.5h1M431.3 69.5h1M393.3 70.5h1M399.3 70.5h1M378.3 71.5h1M388.3 72.5h1M434.3 72.5h1M430.3 73.5h1M373.3 74.5h1M374.3 76.5h1M380.3 76.5h1M390.3 76.5h1M399.3 76.5h1M439.3 76.5h1M399.3 79.5h1M448.3 79.5h1M395.3 80.5h1M395.3 81.5h1M417.3 82.5h1M420.3 82.5h1M400.3 84.5h1M424.3 84.5h1M367.3 87.5h1M373.3 87.5h1M391.3 88.5h1M454.3 88.5h1M377.3 90.5h1M356.3 93.5h1M358.3 94.5h1M352.3 96.5h1M361.3 96.5h1M355.3 100.5h1M464.3 106.5h1M468.3 107.5h1M352.3 109.5h1M346.3 110.5h1M467.3 112.5h1M338.3 113.5h1M331.3 117.5h1M348.3 117.5h1M471.3 120.5h1M335.3 126.5h1M330.3 138.5h1M324.3 139.5h1M321.3 146.5h1M491.3 151.5h1M318.3 156.5h1M315.3 157.5h1"/><path stroke="#c2bc5f" d="M400.3 59.5h1M410.3 61.5h1M417.3 62.5h1M415.3 65.5h1M417.3 65.5h1M384.3 66.5h1M400.3 68.5h1M405.3 72.5h1M414.3 72.5h1M378.3 74.5h1M425.3 74.5h1M427.3 75.5h1M428.3 76.5h1M446.3 77.5h1M413.3 78.5h1M383.3 79.5h1M410.3 79.5h1M441.3 79.5h1M411.3 80.5h1M425.3 80.5h1M428.3 80.5h1M376.3 82.5h1M423.3 82.5h1M442.3 82.5h1M383.3 85.5h1M384.3 86.5h2M452.3 86.5h1M439.3 87.5h1M373.3 88.5h1M451.3 91.5h1M371.3 94.5h1M345.3 100.5h1M353.3 100.5h1M453.3 100.5h1M358.3 102.5h1M343.3 103.5h1M458.3 103.5h1M341.3 105.5h1M356.3 105.5h1M342.3 112.5h1M468.3 112.5h1M340.3 116.5h1M336.3 120.5h1M321.3 126.5h1M336.3 126.5h1M319.3 127.5h1M330.3 135.5h1M321.3 142.5h1M489.3 144.5h1M322.3 145.5h1M321.3 151.5h1M320.3 152.5h1M321.3 153.5h1M496.3 157.5h1"/><path stroke="#cfbb5a" d="M398.3 59.5h1M391.3 61.5h1M394.3 62.5h1M410.3 62.5h1M397.3 63.5h1M414.3 64.5h1M410.3 65.5h1M429.3 65.5h1M434.3 65.5h1M393.3 66.5h1M417.3 68.5h1M399.3 69.5h1M402.3 69.5h1M395.3 70.5h1M410.3 70.5h1M400.3 72.5h1M408.3 72.5h1M406.3 73.5h1M434.3 73.5h1M407.3 74.5h1M427.3 74.5h1M385.3 75.5h1M428.3 75.5h1M440.3 76.5h1M389.3 77.5h1M427.3 77.5h1M367.3 78.5h1M392.3 78.5h1M366.3 79.5h1M402.3 81.5h1M407.3 81.5h1M447.3 81.5h1M363.3 82.5h1M386.3 82.5h1M426.3 82.5h1M431.3 82.5h1M441.3 82.5h1M430.3 83.5h1M378.3 86.5h1M438.3 86.5h1M451.3 86.5h1M380.3 87.5h1M366.3 88.5h1M366.3 89.5h1M376.3 90.5h1M361.3 91.5h1M443.3 91.5h1M359.3 92.5h1M361.3 92.5h1M358.3 93.5h1M376.3 93.5h1M358.3 98.5h1M350.3 99.5h1M361.3 99.5h1M459.3 99.5h1M454.3 101.5h1M350.3 102.5h1M354.3 106.5h1M354.3 110.5h1M334.3 111.5h1M353.3 111.5h1M336.3 114.5h1M350.3 116.5h1M333.3 118.5h1M473.3 119.5h1M333.3 120.5h1M327.3 122.5h1M330.3 128.5h1M322.3 134.5h1M326.3 141.5h1M490.3 147.5h1M314.3 163.5h1M497.3 164.5h1"/><path stroke="#ddba54" d="M405.3 58.5h1M407.3 59.5h1M412.3 59.5h1M398.3 60.5h1M398.3 61.5h1M401.3 61.5h1M397.3 62.5h1M430.3 62.5h1M420.3 63.5h2M413.3 65.5h1M401.3 66.5h2M406.3 71.5h1M386.3 72.5h1M382.3 73.5h1M405.3 73.5h1M435.3 73.5h1M442.3 74.5h1M417.3 75.5h1M437.3 75.5h1M377.3 76.5h1M436.3 76.5h1M441.3 77.5h1M380.3 78.5h1M439.3 79.5h1M405.3 81.5h1M369.3 82.5h1M412.3 82.5h1M378.3 83.5h1M398.3 83.5h1M360.3 85.5h1M385.3 85.5h1M394.3 85.5h1M438.3 85.5h1M371.3 87.5h1M374.3 87.5h1M452.3 87.5h1M371.3 88.5h1M353.3 91.5h1M370.3 93.5h1M372.3 93.5h1M454.3 94.5h1M351.3 95.5h1M370.3 95.5h1M457.3 97.5h1M358.3 99.5h1M350.3 100.5h1M357.3 102.5h1M468.3 108.5h1M344.3 109.5h1M335.3 114.5h1M328.3 123.5h1M326.3 124.5h1M319.3 128.5h1M322.3 140.5h1M490.3 146.5h1M319.3 152.5h1M495.3 152.5h1M315.3 158.5h1"/><path stroke="#eab94e" d="M394.3 60.5h1M400.3 60.5h1M403.3 60.5h1M404.3 61.5h1M408.3 61.5h1M425.3 62.5h1M407.3 63.5h1M389.3 64.5h1M422.3 64.5h1M386.3 65.5h1M423.3 65.5h1M415.3 66.5h1M382.3 67.5h1M398.3 67.5h1M416.3 67.5h1M401.3 68.5h1M403.3 68.5h1M404.3 69.5h1M434.3 69.5h1M380.3 70.5h1M376.3 71.5h1M396.3 72.5h1M433.3 72.5h1M389.3 73.5h1M440.3 74.5h1M443.3 74.5h1M386.3 75.5h1M393.3 75.5h1M391.3 76.5h1M435.3 76.5h1M437.3 76.5h1M368.3 78.5h1M447.3 78.5h1M368.3 79.5h1M391.3 79.5h1M371.3 80.5h1M393.3 80.5h1M429.3 81.5h1M435.3 81.5h1M446.3 81.5h1M362.3 82.5h1M390.3 83.5h1M401.3 83.5h1M368.3 84.5h1M373.3 84.5h1M397.3 84.5h1M433.3 84.5h1M440.3 85.5h1M443.3 85.5h1M375.3 86.5h1M387.3 86.5h1M438.3 87.5h1M371.3 89.5h1M362.3 90.5h1M365.3 92.5h1M452.3 92.5h1M357.3 94.5h1M368.3 94.5h1M456.3 95.5h1M346.3 100.5h1M358.3 100.5h1M360.3 101.5h1M455.3 101.5h2M356.3 102.5h1M458.3 102.5h1M359.3 103.5h1M457.3 103.5h1M338.3 106.5h1M468.3 109.5h1M344.3 110.5h1M348.3 110.5h1M352.3 111.5h1M353.3 112.5h1M346.3 116.5h1M332.3 118.5h1M328.3 122.5h1M330.3 123.5h1M336.3 123.5h1M473.3 125.5h1M333.3 127.5h1M320.3 130.5h1M315.3 132.5h1M331.3 134.5h1M314.3 135.5h1M326.3 136.5h1M324.3 140.5h1M321.3 152.5h1M317.3 155.5h1M494.3 160.5h1M497.3 161.5h1"/><path stroke="#f6ba46" d="M400.3 58.5h1M399.3 59.5h1M411.3 59.5h1M415.3 59.5h1M417.3 59.5h1M404.3 60.5h1M410.3 60.5h1M426.3 62.5h1M388.3 63.5h1M406.3 63.5h1M411.3 63.5h1M413.3 64.5h1M418.3 65.5h1M422.3 65.5h1M430.3 65.5h1M383.3 66.5h1M395.3 66.5h1M409.3 66.5h2M421.3 66.5h1M430.3 66.5h1M399.3 67.5h1M396.3 68.5h1M402.3 68.5h1M404.3 68.5h1M407.3 68.5h1M427.3 68.5h1M382.3 69.5h2M406.3 69.5h1M409.3 69.5h1M425.3 69.5h1M429.3 69.5h1M436.3 69.5h1M379.3 70.5h1M383.3 70.5h1M394.3 70.5h1M379.3 71.5h1M382.3 71.5h1M397.3 71.5h2M401.3 71.5h1M405.3 71.5h1M413.3 71.5h2M422.3 71.5h1M385.3 72.5h1M415.3 72.5h1M374.3 74.5h1M386.3 74.5h1M390.3 74.5h1M435.3 74.5h2M374.3 75.5h1M390.3 75.5h1M394.3 75.5h1M396.3 75.5h1M441.3 75.5h1M383.3 76.5h2M412.3 76.5h1M380.3 77.5h1M395.3 77.5h1M403.3 77.5h1M426.3 77.5h1M373.3 78.5h1M412.3 78.5h1M441.3 78.5h1M367.3 79.5h1M387.3 79.5h1M409.3 79.5h1M413.3 79.5h1M419.3 79.5h1M428.3 79.5h1M365.3 80.5h1M386.3 80.5h1M397.3 80.5h2M402.3 80.5h3M419.3 80.5h1M422.3 80.5h1M406.3 81.5h1M414.3 81.5h1M431.3 81.5h2M445.3 81.5h1M387.3 82.5h1M396.3 82.5h1M427.3 82.5h2M364.3 83.5h1M382.3 83.5h1M403.3 83.5h1M432.3 83.5h1M442.3 83.5h1M372.3 84.5h1M381.3 84.5h1M387.3 84.5h1M396.3 84.5h1M423.3 84.5h1M425.3 84.5h1M438.3 84.5h1M363.3 85.5h1M365.3 85.5h2M397.3 85.5h2M360.3 86.5h1M383.3 86.5h1M431.3 86.5h1M448.3 86.5h1M363.3 87.5h1M375.3 87.5h1M392.3 87.5h1M437.3 87.5h1M363.3 88.5h1M455.3 90.5h1M354.3 91.5h2M379.3 91.5h1M446.3 91.5h1M449.3 91.5h1M448.3 92.5h1M458.3 92.5h1M352.3 93.5h1M459.3 93.5h1M356.3 94.5h1M367.3 94.5h1M455.3 94.5h1M356.3 95.5h1M354.3 96.5h1M457.3 96.5h1M352.3 98.5h1M355.3 99.5h1M359.3 100.5h1M354.3 101.5h1M362.3 101.5h1M342.3 103.5h1M356.3 104.5h1M355.3 105.5h1M357.3 105.5h1M357.3 106.5h1M463.3 106.5h1M352.3 108.5h1M349.3 109.5h1M335.3 110.5h1M468.3 110.5h1M342.3 111.5h1M468.3 111.5h1M352.3 112.5h1M349.3 113.5h1M352.3 113.5h1M340.3 114.5h1M470.3 114.5h1M333.3 115.5h1M468.3 115.5h1M337.3 116.5h1M331.3 118.5h1M474.3 118.5h1M474.3 119.5h1M339.3 120.5h1M472.3 121.5h1M330.3 122.5h1M327.3 123.5h1M335.3 123.5h1M473.3 123.5h1M327.3 124.5h1M338.3 124.5h1M477.3 124.5h1M322.3 125.5h1M327.3 125.5h1M336.3 125.5h1M338.3 125.5h1M474.3 125.5h1M322.3 126.5h1M332.3 126.5h1M322.3 127.5h1M322.3 128.5h1M319.3 129.5h1M321.3 129.5h1M324.3 129.5h1M319.3 130.5h1M319.3 131.5h1M331.3 131.5h1M319.3 132.5h1M317.3 134.5h1M317.3 135.5h1M482.3 135.5h1M482.3 136.5h1M329.3 139.5h1M325.3 142.5h1M487.3 142.5h1M321.3 143.5h2M486.3 143.5h1M324.3 146.5h1M322.3 148.5h1M491.3 148.5h2M496.3 151.5h1M316.3 154.5h1M497.3 156.5h1M494.3 159.5h1"/><path stroke="#fec03b" d="M399.3 58.5h1M401.3 58.5h4M410.3 58.5h1M408.3 59.5h3M416.3 59.5h1M393.3 60.5h1M399.3 60.5h1M405.3 60.5h5M395.3 61.5h3M405.3 61.5h3M395.3 62.5h2M411.3 62.5h6M387.3 63.5h1M394.3 63.5h3M412.3 63.5h2M385.3 64.5h4M393.3 64.5h3M419.3 64.5h3M427.3 64.5h2M433.3 64.5h1M384.3 65.5h2M392.3 65.5h3M411.3 65.5h2M419.3 65.5h3M424.3 65.5h3M391.3 66.5h2M416.3 66.5h5M431.3 66.5h2M435.3 66.5h1M417.3 67.5h2M432.3 67.5h5M381.3 68.5h1M397.3 68.5h3M405.3 68.5h2M432.3 68.5h5M394.3 69.5h5M400.3 69.5h2M405.3 69.5h1M410.3 69.5h1M424.3 69.5h1M428.3 69.5h1M435.3 69.5h1M378.3 70.5h1M381.3 70.5h2M400.3 70.5h1M407.3 70.5h3M374.3 71.5h2M380.3 71.5h2M383.3 71.5h3M399.3 71.5h2M407.3 71.5h2M382.3 72.5h3M406.3 72.5h2M416.3 72.5h1M386.3 73.5h3M416.3 73.5h2M426.3 73.5h4M437.3 73.5h2M370.3 74.5h1M387.3 74.5h3M404.3 74.5h3M417.3 74.5h3M423.3 74.5h2M428.3 74.5h3M438.3 74.5h2M373.3 75.5h1M391.3 75.5h2M395.3 75.5h1M405.3 75.5h3M418.3 75.5h3M438.3 75.5h3M373.3 76.5h1M394.3 76.5h3M413.3 76.5h1M438.3 76.5h1M441.3 76.5h1M372.3 77.5h2M381.3 77.5h6M390.3 77.5h2M408.3 77.5h6M416.3 77.5h2M439.3 77.5h2M370.3 78.5h3M381.3 78.5h5M389.3 78.5h3M408.3 78.5h4M426.3 78.5h3M440.3 78.5h1M369.3 79.5h1M379.3 79.5h4M388.3 79.5h3M400.3 79.5h5M414.3 79.5h5M426.3 79.5h2M440.3 79.5h1M364.3 80.5h1M368.3 80.5h1M378.3 80.5h3M387.3 80.5h6M396.3 80.5h1M399.3 80.5h3M409.3 80.5h2M414.3 80.5h5M420.3 80.5h2M426.3 80.5h2M363.3 81.5h2M367.3 81.5h7M387.3 81.5h5M396.3 81.5h2M403.3 81.5h2M415.3 81.5h2M420.3 81.5h9M436.3 81.5h3M443.3 81.5h2M365.3 82.5h4M370.3 82.5h3M377.3 82.5h2M390.3 82.5h1M403.3 82.5h5M413.3 82.5h4M421.3 82.5h2M429.3 82.5h2M432.3 82.5h1M437.3 82.5h4M443.3 82.5h3M448.3 82.5h1M365.3 83.5h3M369.3 83.5h3M375.3 83.5h3M385.3 83.5h1M399.3 83.5h2M402.3 83.5h1M412.3 83.5h2M431.3 83.5h1M438.3 83.5h3M443.3 83.5h1M364.3 84.5h3M369.3 84.5h3M374.3 84.5h2M380.3 84.5h1M388.3 84.5h2M394.3 84.5h2M398.3 84.5h2M401.3 84.5h2M432.3 84.5h1M439.3 84.5h1M443.3 84.5h2M364.3 85.5h1M369.3 85.5h5M384.3 85.5h1M386.3 85.5h8M399.3 85.5h2M432.3 85.5h3M439.3 85.5h1M444.3 85.5h2M452.3 85.5h1M359.3 86.5h1M365.3 86.5h2M368.3 86.5h5M388.3 86.5h5M433.3 86.5h3M439.3 86.5h3M445.3 86.5h3M450.3 86.5h1M359.3 87.5h1M364.3 87.5h3M376.3 87.5h2M390.3 87.5h2M433.3 87.5h3M440.3 87.5h2M447.3 87.5h2M358.3 88.5h1M364.3 88.5h2M372.3 88.5h1M390.3 88.5h1M448.3 88.5h2M453.3 88.5h1M364.3 89.5h2M377.3 89.5h2M454.3 89.5h1M361.3 90.5h1M363.3 90.5h4M448.3 90.5h1M360.3 91.5h1M362.3 91.5h4M370.3 91.5h1M352.3 92.5h4M362.3 92.5h3M369.3 92.5h2M447.3 92.5h1M353.3 93.5h2M366.3 93.5h4M448.3 93.5h1M454.3 93.5h1M352.3 94.5h4M365.3 94.5h2M369.3 94.5h2M459.3 94.5h2M352.3 95.5h4M357.3 95.5h1M369.3 95.5h1M455.3 95.5h1M353.3 96.5h1M355.3 96.5h2M449.3 96.5h1M455.3 96.5h2M352.3 97.5h1M354.3 97.5h3M360.3 97.5h3M450.3 97.5h1M455.3 97.5h1M458.3 97.5h1M354.3 98.5h2M359.3 98.5h4M452.3 98.5h1M458.3 98.5h2M346.3 99.5h1M354.3 99.5h1M359.3 99.5h2M452.3 99.5h2M351.3 100.5h1M354.3 100.5h1M356.3 100.5h2M455.3 100.5h1M350.3 101.5h1M353.3 101.5h1M355.3 101.5h3M361.3 101.5h1M353.3 102.5h1M359.3 102.5h3M459.3 102.5h1M340.3 103.5h2M357.3 103.5h2M459.3 103.5h1M339.3 104.5h4M357.3 104.5h2M457.3 104.5h2M338.3 105.5h3M342.3 105.5h1M337.3 106.5h1M339.3 106.5h1M466.3 106.5h1M339.3 107.5h1M466.3 107.5h2M467.3 108.5h1M343.3 109.5h1M351.3 109.5h1M461.3 109.5h2M343.3 110.5h1M351.3 110.5h1M335.3 111.5h1M343.3 111.5h1M351.3 111.5h1M334.3 112.5h2M340.3 112.5h2M334.3 113.5h2M339.3 113.5h3M468.3 113.5h2M334.3 114.5h1M338.3 114.5h2M341.3 114.5h1M349.3 114.5h1M466.3 114.5h1M468.3 114.5h2M335.3 115.5h3M341.3 115.5h3M349.3 115.5h2M469.3 115.5h2M335.3 116.5h2M341.3 116.5h3M349.3 116.5h1M469.3 116.5h2M335.3 117.5h2M340.3 117.5h4M345.3 117.5h1M469.3 117.5h2M330.3 118.5h1M335.3 118.5h2M340.3 118.5h5M330.3 119.5h4M335.3 119.5h2M340.3 119.5h3M472.3 119.5h1M330.3 120.5h3M335.3 120.5h1M340.3 120.5h2M472.3 120.5h1M330.3 121.5h3M335.3 121.5h1M338.3 121.5h4M471.3 121.5h1M325.3 122.5h1M331.3 122.5h2M337.3 122.5h2M324.3 123.5h3M331.3 123.5h2M337.3 123.5h2M323.3 124.5h3M331.3 124.5h2M335.3 124.5h3M473.3 124.5h2M323.3 125.5h3M331.3 125.5h2M335.3 125.5h1M337.3 125.5h1M477.3 125.5h2M320.3 126.5h1M323.3 126.5h3M331.3 126.5h1M320.3 127.5h2M323.3 127.5h2M331.3 127.5h2M318.3 128.5h1M320.3 128.5h2M323.3 128.5h2M331.3 128.5h3M317.3 129.5h2M320.3 129.5h1M323.3 129.5h1M330.3 129.5h4M317.3 130.5h2M328.3 130.5h6M480.3 130.5h1M316.3 131.5h3M327.3 131.5h4M332.3 131.5h1M316.3 132.5h3M327.3 132.5h4M332.3 132.5h1M315.3 133.5h4M327.3 133.5h4M315.3 134.5h2M318.3 134.5h1M325.3 134.5h1M327.3 134.5h4M482.3 134.5h1M315.3 135.5h2M318.3 135.5h1M322.3 135.5h1M325.3 135.5h1M327.3 135.5h3M314.3 136.5h3M322.3 136.5h1M327.3 136.5h3M314.3 137.5h2M322.3 137.5h1M327.3 137.5h3M314.3 138.5h1M329.3 138.5h1M323.3 140.5h1M322.3 141.5h3M322.3 142.5h3M323.3 143.5h3M487.3 143.5h1M321.3 144.5h1M325.3 144.5h1M487.3 144.5h1M321.3 145.5h1M490.3 145.5h1M322.3 146.5h1M322.3 147.5h1M491.3 149.5h1M495.3 149.5h1M491.3 150.5h1M495.3 150.5h2M495.3 151.5h1M319.3 153.5h2M319.3 154.5h1M316.3 155.5h1M316.3 156.5h2M316.3 157.5h3M497.3 157.5h1M316.3 158.5h2M496.3 158.5h2M315.3 159.5h2M496.3 159.5h2M315.3 160.5h1M496.3 160.5h2M496.3 161.5h1M497.3 165.5h1"/><path stroke="#fec833" d="M404.3 41.5h19M399.3 42.5h27M395.3 43.5h8M423.3 43.5h6M392.3 44.5h6M426.3 44.5h5M389.3 45.5h5M429.3 45.5h4M386.3 46.5h5M431.3 46.5h4M384.3 47.5h5M433.3 47.5h4M382.3 48.5h4M435.3 48.5h4M379.3 49.5h5M437.3 49.5h3M378.3 50.5h4M438.3 50.5h3M376.3 51.5h4M440.3 51.5h3M375.3 52.5h3M441.3 52.5h3M373.3 53.5h3M442.3 53.5h3M372.3 54.5h3M443.3 54.5h3M370.3 55.5h4M444.3 55.5h3M369.3 56.5h3M445.3 56.5h2M368.3 57.5h3M446.3 57.5h2M366.3 58.5h3M447.3 58.5h2M365.3 59.5h3M448.3 59.5h2M364.3 60.5h3M448.3 60.5h3M363.3 61.5h3M449.3 61.5h3M362.3 62.5h2M450.3 62.5h2M361.3 63.5h2M451.3 63.5h2M360.3 64.5h2M452.3 64.5h2M359.3 65.5h2M453.3 65.5h2M358.3 66.5h2M453.3 66.5h3M357.3 67.5h2M454.3 67.5h3M356.3 68.5h2M455.3 68.5h2M355.3 69.5h2M456.3 69.5h2M354.3 70.5h2M457.3 70.5h2M353.3 71.5h2M457.3 71.5h3M352.3 72.5h2M458.3 72.5h2M351.3 73.5h2M459.3 73.5h2M350.3 74.5h2M460.3 74.5h2M349.3 75.5h2M460.3 75.5h3M347.3 76.5h3M461.3 76.5h2M346.3 77.5h3M462.3 77.5h2M345.3 78.5h3M463.3 78.5h2M344.3 79.5h3M464.3 79.5h2M343.3 80.5h2M464.3 80.5h3M341.3 81.5h3M465.3 81.5h2M340.3 82.5h3M466.3 82.5h2M339.3 83.5h3M467.3 83.5h2M338.3 84.5h3M467.3 84.5h3M337.3 85.5h3M468.3 85.5h2M336.3 86.5h3M469.3 86.5h2M335.3 87.5h3M403.3 87.5h20M470.3 87.5h2M334.3 88.5h2M401.3 88.5h27M470.3 88.5h3M333.3 89.5h2M398.3 89.5h34M471.3 89.5h2M332.3 90.5h2M393.3 90.5h13M419.3 90.5h16M472.3 90.5h2M331.3 91.5h2M389.3 91.5h13M426.3 91.5h11M473.3 91.5h2M330.3 92.5h2M385.3 92.5h15M430.3 92.5h9M473.3 92.5h2M329.3 93.5h2M382.3 93.5h13M433.3 93.5h8M474.3 93.5h2M328.3 94.5h2M380.3 94.5h11M436.3 94.5h6M475.3 94.5h2M327.3 95.5h2M378.3 95.5h9M438.3 95.5h6M475.3 95.5h2M326.3 96.5h2M376.3 96.5h8M439.3 96.5h6M476.3 96.5h2M325.3 97.5h2M374.3 97.5h8M441.3 97.5h6M476.3 97.5h2M324.3 98.5h2M372.3 98.5h7M442.3 98.5h6M477.3 98.5h2M323.3 99.5h3M371.3 99.5h6M444.3 99.5h5M478.3 99.5h2M323.3 100.5h2M370.3 100.5h6M445.3 100.5h5M478.3 100.5h2M322.3 101.5h2M369.3 101.5h5M446.3 101.5h5M479.3 101.5h2M321.3 102.5h2M368.3 102.5h5M447.3 102.5h5M479.3 102.5h2M321.3 103.5h2M367.3 103.5h5M448.3 103.5h5M480.3 103.5h2M320.3 104.5h2M365.3 104.5h6M449.3 104.5h5M480.3 104.5h2M319.3 105.5h2M364.3 105.5h6M450.3 105.5h5M481.3 105.5h2M319.3 106.5h2M363.3 106.5h5M451.3 106.5h5M482.3 106.5h2M318.3 107.5h2M362.3 107.5h5M452.3 107.5h4M482.3 107.5h2M317.3 108.5h2M361.3 108.5h5M453.3 108.5h4M483.3 108.5h2M316.3 109.5h3M360.3 109.5h5M454.3 109.5h4M483.3 109.5h2M315.3 110.5h3M359.3 110.5h4M455.3 110.5h4M484.3 110.5h2M314.3 111.5h3M358.3 111.5h4M456.3 111.5h4M484.3 111.5h2M314.3 112.5h1M357.3 112.5h4M456.3 112.5h5M485.3 112.5h2M357.3 113.5h4M457.3 113.5h5M485.3 113.5h2M356.3 114.5h4M458.3 114.5h5M486.3 114.5h2M355.3 115.5h4M459.3 115.5h4M486.3 115.5h2M355.3 116.5h4M460.3 116.5h4M487.3 116.5h2M354.3 117.5h4M460.3 117.5h5M488.3 117.5h2M353.3 118.5h5M461.3 118.5h4M488.3 118.5h2M351.3 119.5h6M462.3 119.5h4M489.3 119.5h2M350.3 120.5h6M463.3 120.5h4M489.3 120.5h2M347.3 121.5h7M463.3 121.5h4M490.3 121.5h2M345.3 122.5h8M464.3 122.5h4M490.3 122.5h2M344.3 123.5h8M465.3 123.5h4M491.3 123.5h2M343.3 124.5h5M465.3 124.5h4M491.3 124.5h2M342.3 125.5h5M466.3 125.5h4M492.3 125.5h2M341.3 126.5h5M467.3 126.5h4M492.3 126.5h2M340.3 127.5h5M467.3 127.5h4M493.3 127.5h2M340.3 128.5h4M468.3 128.5h4M493.3 128.5h2M339.3 129.5h4M469.3 129.5h4M494.3 129.5h2M338.3 130.5h4M469.3 130.5h4M494.3 130.5h2M338.3 131.5h4M470.3 131.5h4M495.3 131.5h2M337.3 132.5h4M471.3 132.5h4M495.3 132.5h2M337.3 133.5h4M471.3 133.5h5M496.3 133.5h2M336.3 134.5h4M472.3 134.5h4M496.3 134.5h2M335.3 135.5h4M473.3 135.5h4M497.3 135.5h1M335.3 136.5h4M474.3 136.5h4M334.3 137.5h4M474.3 137.5h4M333.3 138.5h5M475.3 138.5h4M333.3 139.5h4M476.3 139.5h4M332.3 140.5h4M476.3 140.5h5M332.3 141.5h4M477.3 141.5h4M331.3 142.5h4M478.3 142.5h4M330.3 143.5h4M479.3 143.5h4M330.3 144.5h4M479.3 144.5h4M329.3 145.5h4M480.3 145.5h4M329.3 146.5h3M480.3 146.5h4M328.3 147.5h4M481.3 147.5h4M327.3 148.5h4M482.3 148.5h4M327.3 149.5h4M482.3 149.5h4M326.3 150.5h4M483.3 150.5h4M326.3 151.5h4M483.3 151.5h4M325.3 152.5h4M484.3 152.5h4M324.3 153.5h4M485.3 153.5h3M324.3 154.5h4M485.3 154.5h4M323.3 155.5h4M486.3 155.5h3M323.3 156.5h4M486.3 156.5h4M322.3 157.5h4M487.3 157.5h3M321.3 158.5h4M487.3 158.5h4M321.3 159.5h4M488.3 159.5h4M320.3 160.5h4M488.3 160.5h4M319.3 161.5h4M489.3 161.5h4M319.3 162.5h4M489.3 162.5h4M318.3 163.5h4M490.3 163.5h4M318.3 164.5h4M490.3 164.5h4M317.3 165.5h4M491.3 165.5h4M316.3 166.5h4M491.3 166.5h4M316.3 167.5h4M492.3 167.5h4M315.3 168.5h4M492.3 168.5h4M314.3 169.5h4M493.3 169.5h4M314.3 170.5h4M494.3 170.5h3M314.3 171.5h3M494.3 171.5h4M314.3 172.5h2M495.3 172.5h3M314.3 173.5h2M495.3 173.5h3M314.3 174.5h1M496.3 174.5h2M497.3 175.5h1M497.3 176.5h1"/><path stroke="#fbd02c" d="M406.3 90.5h13M402.3 91.5h24M400.3 92.5h30M395.3 93.5h9M423.3 93.5h10M391.3 94.5h11M428.3 94.5h8M387.3 95.5h11M431.3 95.5h7M384.3 96.5h9M434.3 96.5h5M382.3 97.5h7M436.3 97.5h5M379.3 98.5h7M438.3 98.5h4M377.3 99.5h6M439.3 99.5h5M376.3 100.5h5M441.3 100.5h4M374.3 101.5h5M442.3 101.5h4M373.3 102.5h4M443.3 102.5h4M372.3 103.5h4M444.3 103.5h4M371.3 104.5h3M445.3 104.5h4M370.3 105.5h3M446.3 105.5h4M368.3 106.5h4M447.3 106.5h4M367.3 107.5h4M448.3 107.5h4M366.3 108.5h4M449.3 108.5h4M365.3 109.5h4M450.3 109.5h4M363.3 110.5h4M451.3 110.5h4M362.3 111.5h4M452.3 111.5h4M361.3 112.5h4M453.3 112.5h3M361.3 113.5h3M454.3 113.5h3M360.3 114.5h3M455.3 114.5h3M359.3 115.5h3M456.3 115.5h3M359.3 116.5h3M457.3 116.5h3M358.3 117.5h3M457.3 117.5h3M358.3 118.5h3M458.3 118.5h3M357.3 119.5h3M459.3 119.5h3M356.3 120.5h3M460.3 120.5h3M354.3 121.5h4M460.3 121.5h3M353.3 122.5h4M461.3 122.5h3M352.3 123.5h4M462.3 123.5h3M348.3 124.5h7M462.3 124.5h3M347.3 125.5h6M463.3 125.5h3M346.3 126.5h4M464.3 126.5h3M345.3 127.5h3M464.3 127.5h3M344.3 128.5h3M465.3 128.5h3M343.3 129.5h3M466.3 129.5h3M342.3 130.5h3M466.3 130.5h3M342.3 131.5h3M467.3 131.5h3M341.3 132.5h3M468.3 132.5h3M341.3 133.5h2M468.3 133.5h3M340.3 134.5h3M469.3 134.5h3M339.3 135.5h3M470.3 135.5h3M339.3 136.5h3M470.3 136.5h4M338.3 137.5h3M471.3 137.5h3M338.3 138.5h3M472.3 138.5h3M337.3 139.5h3M473.3 139.5h3M336.3 140.5h3M473.3 140.5h3M336.3 141.5h3M474.3 141.5h3M335.3 142.5h3M475.3 142.5h3M334.3 143.5h3M476.3 143.5h3M334.3 144.5h3M476.3 144.5h3M333.3 145.5h3M477.3 145.5h3M332.3 146.5h3M478.3 146.5h2M332.3 147.5h3M478.3 147.5h3M331.3 148.5h3M479.3 148.5h3M331.3 149.5h3M479.3 149.5h3M330.3 150.5h3M480.3 150.5h3M330.3 151.5h2M481.3 151.5h2M329.3 152.5h3M481.3 152.5h3M328.3 153.5h3M482.3 153.5h3M328.3 154.5h3M482.3 154.5h3M327.3 155.5h3M483.3 155.5h3M327.3 156.5h3M483.3 156.5h3M326.3 157.5h3M484.3 157.5h3M325.3 158.5h3M484.3 158.5h3M325.3 159.5h3M485.3 159.5h3M324.3 160.5h3M485.3 160.5h3M323.3 161.5h3M486.3 161.5h3M323.3 162.5h3M486.3 162.5h3M322.3 163.5h3M487.3 163.5h3M322.3 164.5h3M487.3 164.5h3M321.3 165.5h3M488.3 165.5h3M320.3 166.5h3M489.3 166.5h2M320.3 167.5h3M489.3 167.5h3M319.3 168.5h3M490.3 168.5h2M318.3 169.5h3M490.3 169.5h3M318.3 170.5h3M491.3 170.5h3M317.3 171.5h3M491.3 171.5h3M316.3 172.5h3M492.3 172.5h3M316.3 173.5h3M492.3 173.5h3M315.3 174.5h3M493.3 174.5h3M314.3 175.5h3M494.3 175.5h3M314.3 176.5h3M494.3 176.5h3M314.3 177.5h2M495.3 177.5h3M314.3 178.5h1M495.3 178.5h3M314.3 179.5h1M496.3 179.5h2M497.3 180.5h1"/><path stroke="#f7d925" d="M403.3 43.5h20M398.3 44.5h28M394.3 45.5h9M423.3 45.5h6M391.3 46.5h7M426.3 46.5h5M389.3 47.5h6M428.3 47.5h5M386.3 48.5h6M430.3 48.5h5M384.3 49.5h5M432.3 49.5h5M382.3 50.5h5M435.3 50.5h3M380.3 51.5h4M436.3 51.5h4M378.3 52.5h4M438.3 52.5h3M376.3 53.5h4M439.3 53.5h3M375.3 54.5h4M440.3 54.5h3M374.3 55.5h3M441.3 55.5h3M372.3 56.5h4M442.3 56.5h3M371.3 57.5h3M443.3 57.5h3M369.3 58.5h4M444.3 58.5h3M368.3 59.5h3M445.3 59.5h3M367.3 60.5h3M446.3 60.5h2M366.3 61.5h3M447.3 61.5h2M364.3 62.5h4M447.3 62.5h3M363.3 63.5h3M448.3 63.5h3M362.3 64.5h3M449.3 64.5h3M361.3 65.5h3M450.3 65.5h3M360.3 66.5h3M451.3 66.5h2M359.3 67.5h3M452.3 67.5h2M358.3 68.5h3M452.3 68.5h3M357.3 69.5h3M453.3 69.5h3M356.3 70.5h3M454.3 70.5h3M355.3 71.5h3M455.3 71.5h2M354.3 72.5h3M456.3 72.5h2M353.3 73.5h3M456.3 73.5h3M352.3 74.5h3M457.3 74.5h3M351.3 75.5h3M458.3 75.5h2M350.3 76.5h3M459.3 76.5h2M349.3 77.5h3M459.3 77.5h3M348.3 78.5h3M460.3 78.5h3M347.3 79.5h3M461.3 79.5h3M345.3 80.5h4M462.3 80.5h2M344.3 81.5h3M463.3 81.5h2M343.3 82.5h3M463.3 82.5h3M342.3 83.5h3M464.3 83.5h3M341.3 84.5h3M465.3 84.5h2M340.3 85.5h3M466.3 85.5h2M339.3 86.5h3M466.3 86.5h3M338.3 87.5h2M467.3 87.5h3M336.3 88.5h3M468.3 88.5h2M335.3 89.5h3M469.3 89.5h2M334.3 90.5h3M469.3 90.5h3M333.3 91.5h3M470.3 91.5h3M332.3 92.5h3M471.3 92.5h2M331.3 93.5h3M472.3 93.5h2M330.3 94.5h3M472.3 94.5h3M329.3 95.5h3M473.3 95.5h2M328.3 96.5h3M473.3 96.5h3M327.3 97.5h3M474.3 97.5h2M326.3 98.5h3M475.3 98.5h2M326.3 99.5h2M475.3 99.5h3M325.3 100.5h2M476.3 100.5h2M324.3 101.5h3M476.3 101.5h3M323.3 102.5h3M477.3 102.5h2M323.3 103.5h2M478.3 103.5h2M322.3 104.5h2M478.3 104.5h2M321.3 105.5h3M479.3 105.5h2M321.3 106.5h2M479.3 106.5h3M320.3 107.5h2M480.3 107.5h2M319.3 108.5h3M480.3 108.5h3M319.3 109.5h2M481.3 109.5h2M318.3 110.5h2M481.3 110.5h3M317.3 111.5h2M482.3 111.5h2M315.3 112.5h3M482.3 112.5h3M314.3 113.5h3M483.3 113.5h2M314.3 114.5h2M484.3 114.5h2M484.3 115.5h2M485.3 116.5h2M485.3 117.5h3M486.3 118.5h2M486.3 119.5h3M487.3 120.5h2M487.3 121.5h3M488.3 122.5h2M488.3 123.5h3M489.3 124.5h2M489.3 125.5h3M490.3 126.5h2M490.3 127.5h3M491.3 128.5h2M491.3 129.5h3M492.3 130.5h2M492.3 131.5h3M493.3 132.5h2M493.3 133.5h3M494.3 134.5h2M495.3 135.5h2M496.3 136.5h2M496.3 137.5h2M497.3 138.5h1"/></g>
<g stroke-width="1.5" fill="none"><path stroke="#1857d8" d="M115 225.76h21M115 227.75h25M115 229.74h2M126 229.74h17M137 231.72h9M140 233.71h8M143 235.7h7M145 237.69h7M147 239.68h6M149 241.66h6M150 243.65h7M152 245.64h6M153 247.63h7M155 249.62h6M156 251.6h7M158 253.59h6M160 255.58h6M161 257.57h6M163 259.56h6M164 261.54h6M165 263.53h6M167 265.52h6M168 267.51h6M170 269.5h6M171 271.48h6M172 273.47h6M174 275.46h6M175 277.45h6M177 279.44h6M178 281.42h6M180 283.41h5M181 285.4h5M182 287.39h5M183 289.38h5M184 291.36h6M185 293.35h6M186 295.34h6M187 297.33h6M188 299.32h6M189 301.3h6M190 303.29h6M191 305.28h6M192 307.27h6M193 309.26h6M194 311.24h6M195 313.23h5M196 315.22h5M197 317.21h5M198 319.2h5M199 321.18h5M200 323.17h5M200 325.16h6M201 327.15h5M202 329.14h5M203 331.12h5M204 333.11h5M204 335.1h5"/><path stroke="#0363e1" d="M109 225.76h6M103 227.75h12M99 229.74h16M95 231.72h12M92 233.71h10M89 235.7h9M89 237.69h6M89 239.68h3M89 241.66h1"/><path stroke="#036be0" d="M87 237.69h2M84 239.68h5M82 241.66h7M80 243.65h7M78 245.64h7M76 247.63h7M74 249.62h7M72 251.6h7M70 253.59h7M69 255.58h6M67 257.57h6M65 259.56h7M63 261.54h7M63 263.53h5M63 265.52h3M63 267.51h2M116 285.4h13M107 287.39h13M127 287.39h8M102 289.38h8M133 289.38h7M98 291.36h6M139 291.36h5M94 293.35h5M142 293.35h5M91 295.34h5M146 295.34h4M88 297.33h5M148 297.33h4M85 299.32h5M150 299.32h3M83 301.3h4M152 301.3h3M81 303.29h3M153 303.29h4M78 305.28h4M155 305.28h3M77 307.27h3M156 307.27h4M75 309.26h3M158 309.26h4M73 311.24h4M160 311.24h3M72 313.23h3M162 313.23h3M70 315.22h4M163 315.22h3M69 317.21h3M165 317.21h3M68 319.2h3M167 319.2h3M66 321.18h3M169 321.18h3M65 323.17h3M170 323.17h4M63 325.16h3M172 325.16h3M62 327.15h3M174 327.15h3M60 329.14h3M176 329.14h3M59 331.12h3M178 331.12h3M58 333.11h3M179 333.11h4M56 335.1h3M181 335.1h3M55 337.09h3M183 337.09h3M54 339.08h3M184 339.08h3M52 341.06h3M185 341.06h2M51 343.05h3M185 343.05h3M50 345.04h3M186 345.04h3M48 347.03h3M187 347.03h3M47 349.02h3M188 349.02h2M46 351h3M188 351h3M45 352.99h3M189 352.99h3M44 354.98h3M190 354.98h2M43 356.97h3M191 356.97h2M42 358.96h2M191 358.96h3M41 360.94h2M192 360.94h3M39 362.93h3M193 362.93h3M38 364.92h3M194 364.92h3M37 366.91h3M195 366.91h3M36 368.9h3M196 368.9h3M35 370.88h3M197 370.88h2M34 372.87h3M198 372.87h2M33 374.86h3M199 374.86h2M32 376.85h3M200 376.85h2M31 378.84h3M201 378.84h2M30 380.82h3M202 380.82h2M29 382.81h3M203 382.81h2M28 384.8h3M204 384.8h2M27 386.79h3M205 386.79h2M27 388.78h2M206 388.78h2M207 390.76h2M208 392.75h1"/><path stroke="#0a72de" d="M104 251.6h26M98 253.59h34M91 255.58h10M115 255.58h11M91 257.57h9M120 257.57h7M94 259.56h3M102 259.56h6M91 261.54h18M114 261.54h11M62 263.53h1M88 263.53h19M118 263.53h6M60 265.52h3M86 265.52h2M97 265.52h22M127 265.52h12M58 267.51h5M81 267.51h5M93 267.51h19M120 267.51h7M137 267.51h4M145 267.51h2M56 269.5h7M79 269.5h4M87 269.5h12M103 269.5h31M139 269.5h6M147 269.5h3M55 271.48h6M79 271.48h2M84 271.48h10M100 271.48h11M114 271.48h21M139 271.48h9M156 271.48h1M53 273.47h6M75 273.47h14M96 273.47h7M117 273.47h2M130 273.47h6M142 273.47h9M51 275.46h7M73 275.46h10M92 275.46h10M108 275.46h31M145 275.46h8M49 277.45h7M71 277.45h9M96 277.45h6M108 277.45h5M115 277.45h6M124 277.45h14M143 277.45h12M47 279.44h7M69 279.44h4M92 279.44h7M105 279.44h8M136 279.44h10M158 279.44h1M46 281.42h6M67 281.42h4M84 281.42h13M101 281.42h6M116 281.42h10M137 281.42h5M159 281.42h3M44 283.41h6M64 283.41h6M86 283.41h11M113 283.41h16M130 283.41h1M135 283.41h7M148 283.41h5M162 283.41h3M43 285.4h6M62 285.4h7M94 285.4h5M139 285.4h5M147 285.4h5M157 285.4h3M164 285.4h5M41 287.39h6M63 287.39h2M67 287.39h9M93 287.39h5M135 287.39h12M149 287.39h3M159 287.39h4M166 287.39h4M40 289.38h6M63 289.38h5M70 289.38h5M94 289.38h1M140 289.38h1M163 289.38h2M168 289.38h3M39 291.36h6M63 291.36h3M77 291.36h2M82 291.36h2M170 291.36h1M37 293.35h6M68 293.35h2M80 293.35h4M161 293.35h2M36 295.34h6M68 295.34h1M79 295.34h3M89 295.34h2M162 295.34h3M168 295.34h5M35 297.33h5M67 297.33h3M86 297.33h2M161 297.33h4M169 297.33h6M33 299.32h6M65 299.32h5M162 299.32h5M172 299.32h5M32 301.3h6M63 301.3h6M72 301.3h3M157 301.3h2M164 301.3h2M170 301.3h2M173 301.3h5M30 303.29h7M46 303.29h2M53 303.29h1M61 303.29h6M70 303.29h5M170 303.29h3M28 305.28h7M45 305.28h3M52 305.28h3M61 305.28h5M69 305.28h3M75 305.28h3M171 305.28h3M27 307.27h6M45 307.27h3M51 307.27h5M58 307.27h2M63 307.27h4M75 307.27h2M172 307.27h3M180 307.27h2M27 309.26h4M45 309.26h2M49 309.26h4M54 309.26h1M57 309.26h2M62 309.26h4M174 309.26h2M180 309.26h3M27 311.24h2M44 311.24h3M48 311.24h4M57 311.24h2M61 311.24h4M68 311.24h3M176 311.24h1M180 311.24h4M27 313.23h1M43 313.23h9M56 313.23h8M67 313.23h5M179 313.23h5M186 313.23h1M42 315.22h10M55 315.22h15M182 315.22h2M186 315.22h4M42 317.21h8M54 317.21h13M168 317.21h4M183 317.21h1M187 317.21h3M44 319.2h5M51 319.2h15M170 319.2h1M183 319.2h3M187 319.2h2M50 321.18h7M59 321.18h6M183 321.18h6M49 323.17h7M59 323.17h4M174 323.17h3M184 323.17h4M35 325.16h1M48 325.16h5M58 325.16h3M175 325.16h3M181 325.16h2M187 325.16h2M31 327.15h1M33 327.15h7M47 327.15h6M57 327.15h4M177 327.15h1M182 327.15h1M187 327.15h2M31 329.14h9M46 329.14h6M56 329.14h4M183 329.14h2M31 331.12h3M35 331.12h5M47 331.12h3M55 331.12h4M183 331.12h4M31 333.11h3M35 333.11h5M54 333.11h4M183 333.11h4M31 335.1h2M35 335.1h5M54 335.1h2M28 337.09h1M35 337.09h5M54 337.09h1M191 337.09h1M28 339.08h1M33 339.08h7M191 339.08h2M32 341.06h9M192 341.06h1M32 343.05h2M37 343.05h6M197 343.05h1M32 345.04h2M38 345.04h5M49 345.04h1M193 345.04h1M197 345.04h2M33 347.03h2M38 347.03h5M192 347.03h2M197 347.03h2M33 349.02h2M38 349.02h4M190 349.02h4M197 349.02h3M32 351h3M38 351h4M191 351h2M197 351h3M30 352.99h5M38 352.99h4M192 352.99h1M199 352.99h1M30 354.98h4M39 354.98h3M192 354.98h1M31 356.97h3M38 356.97h4M208 356.97h1M31 358.96h3M37 358.96h5M198 358.96h1M207 358.96h2M29 360.94h1M38 360.94h3M196 360.94h2M206 360.94h3M28 362.93h3M38 362.93h1M206 362.93h3M28 364.92h4M206 364.92h2M29 366.91h3M198 366.91h3M29 368.9h4M199 368.9h2M27 370.88h1M30 370.88h3M199 370.88h1M27 372.87h2M30 372.87h4M27 374.86h3M31 374.86h2M27 376.85h3M206 376.85h2M28 378.84h3M205 378.84h2M29 380.82h1M204 380.82h2M27 384.8h1M206 384.8h3M207 386.79h2M208 388.78h1"/><path stroke="#1078da" d="M123 249.62h3M130 251.6h1M132 253.59h3M101 255.58h1M109 255.58h6M126 255.58h1M100 257.57h1M115 257.57h5M127 257.57h6M93 259.56h1M97 259.56h2M100 259.56h2M108 259.56h1M125 259.56h7M90 261.54h1M109 261.54h5M125 261.54h2M107 263.53h2M111 263.53h7M124 263.53h6M135 263.53h3M85 265.52h1M88 265.52h1M95 265.52h2M119 265.52h2M123 265.52h4M139 265.52h1M80 267.51h1M86 267.51h1M91 267.51h2M112 267.51h1M118 267.51h2M127 267.51h1M136 267.51h1M141 267.51h4M147 267.51h1M83 269.5h1M86 269.5h1M99 269.5h1M101 269.5h2M134 269.5h2M137 269.5h2M145 269.5h2M150 269.5h1M81 271.48h1M83 271.48h1M94 271.48h1M111 271.48h1M113 271.48h1M135 271.48h1M148 271.48h1M89 273.47h1M95 273.47h1M103 273.47h1M116 273.47h1M119 273.47h1M129 273.47h1M136 273.47h1M141 273.47h1M151 273.47h1M157 273.47h2M83 275.46h1M102 275.46h1M107 275.46h1M144 275.46h1M153 275.46h1M158 275.46h2M80 277.45h1M94 277.45h2M102 277.45h1M113 277.45h2M138 277.45h5M155 277.45h1M73 279.44h1M81 279.44h5M88 279.44h4M99 279.44h1M104 279.44h1M113 279.44h1M156 279.44h2M159 279.44h1M97 281.42h1M99 281.42h1M115 281.42h1M70 283.41h1M85 283.41h1M129 283.41h1M131 283.41h4M147 283.41h1M153 283.41h3M69 285.4h2M73 285.4h3M101 285.4h2M129 285.4h1M138 285.4h1M156 285.4h1M169 285.4h1M60 287.39h1M62 287.39h1M65 287.39h2M158 287.39h1M165 287.39h1M170 287.39h1M62 289.38h1M68 289.38h2M75 289.38h5M93 289.38h1M95 289.38h2M141 289.38h1M148 289.38h1M161 289.38h2M165 289.38h1M167 289.38h1M171 289.38h1M62 291.36h1M69 291.36h4M74 291.36h3M79 291.36h3M171 291.36h1M64 293.35h1M70 293.35h1M88 293.35h2M160 293.35h1M163 293.35h1M167 293.35h1M67 295.34h1M69 295.34h1M88 295.34h1M161 295.34h1M165 295.34h3M66 297.33h1M70 297.33h1M85 297.33h1M160 297.33h1M165 297.33h1M168 297.33h1M175 297.33h1M75 299.32h1M84 299.32h1M157 299.32h1M161 299.32h1M169 299.32h3M54 301.3h1M58 301.3h1M62 301.3h1M71 301.3h1M159 301.3h1M166 301.3h1M169 301.3h1M172 301.3h1M178 301.3h1M52 303.29h1M54 303.29h1M69 303.29h1M75 303.29h1M77 303.29h1M166 303.29h2M175 303.29h3M51 305.28h1M55 305.28h1M60 305.28h1M66 305.28h2M158 305.28h1M170 305.28h1M179 305.28h2M50 307.27h1M56 307.27h2M60 307.27h1M67 307.27h1M179 307.27h1M182 307.27h1M47 309.26h2M53 309.26h1M55 309.26h2M59 309.26h1M66 309.26h1M74 309.26h1M179 309.26h1M183 309.26h1M47 311.24h1M52 311.24h3M56 311.24h1M71 311.24h2M177 311.24h3M184 311.24h1M52 313.23h2M178 313.23h1M184 313.23h2M52 315.22h3M167 315.22h5M180 315.22h2M41 317.21h1M50 317.21h1M52 317.21h2M67 317.21h2M172 317.21h1M182 317.21h1M184 317.21h1M38 319.2h1M43 319.2h1M49 319.2h1M66 319.2h1M171 319.2h1M176 319.2h1M182 319.2h1M186 319.2h1M38 321.18h1M46 321.18h2M49 321.18h1M175 321.18h2M182 321.18h1M189 321.18h1M37 323.17h2M48 323.17h1M63 323.17h1M183 323.17h1M188 323.17h1M36 325.16h4M47 325.16h1M180 325.16h1M186 325.16h1M30 327.15h1M40 327.15h1M46 327.15h1M56 327.15h1M30 329.14h1M45 329.14h1M55 329.14h1M30 331.12h1M34 331.12h1M54 331.12h1M30 333.11h1M48 333.11h1M187 333.11h1M27 335.1h2M184 335.1h1M27 337.09h1M31 337.09h1M34 337.09h1M52 337.09h2M192 337.09h1M27 339.08h1M31 339.08h2M28 341.06h1M31 341.06h1M41 341.06h1M191 341.06h1M34 343.05h3M50 343.05h1M192 343.05h1M198 343.05h1M37 345.04h1M43 345.04h4M48 345.04h1M192 345.04h1M45 347.03h1M199 347.03h1M42 349.02h1M45 349.02h1M42 351h1M45 351h1M200 351h1M202 351h2M42 352.99h1M200 352.99h1M202 352.99h1M34 354.98h1M199 354.98h2M208 354.98h1M28 356.97h1M30 356.97h1M42 356.97h1M196 358.96h2M203 358.96h1M28 360.94h1M30 360.94h1M198 360.94h2M202 360.94h2M198 362.93h3M202 362.93h1M205 362.93h1M198 364.92h4M208 364.92h1M28 366.91h1M32 366.91h1M201 366.91h1M207 366.91h1M33 370.88h1M200 370.88h1M29 372.87h1M30 374.86h1M30 376.85h1M205 376.85h1M27 378.84h1M204 378.84h1M207 378.84h1M28 380.82h1M206 380.82h2M27 382.81h1M205 382.81h4"/><path stroke="#137fd7" d="M135 253.59h1M101 257.57h1M114 257.57h1M92 259.56h1M99 259.56h1M123 259.56h2M132 259.56h1M127 261.54h1M142 261.54h1M109 263.53h2M130 263.53h1M134 263.53h1M121 265.52h2M100 269.5h1M136 269.5h1M82 271.48h1M99 271.48h1M112 271.48h1M138 271.48h1M94 273.47h1M115 273.47h1M120 273.47h1M123 273.47h2M106 275.46h1M86 279.44h2M135 279.44h1M146 279.44h1M71 281.42h1M83 281.42h1M98 281.42h1M114 281.42h1M126 281.42h1M84 283.41h1M112 283.41h1M156 283.41h1M161 283.41h1M92 285.4h1M130 285.4h1M137 285.4h1M160 285.4h1M163 285.4h1M76 287.39h1M98 287.39h1M104 287.39h1M80 289.38h1M147 289.38h1M166 289.38h1M56 291.36h1M73 291.36h1M90 291.36h3M165 291.36h2M79 293.35h1M87 293.35h1M90 293.35h1M170 293.35h1M74 299.32h1M53 301.3h1M48 303.29h1M56 303.29h2M76 303.29h1M78 303.29h1M178 303.29h1M56 305.28h1M59 305.28h1M159 305.28h1M181 305.28h1M49 307.27h1M61 307.27h2M160 307.27h1M171 307.27h1M173 309.26h1M175 311.24h1M54 313.23h2M177 313.23h1M51 317.21h1M186 317.21h1M42 319.2h1M50 319.2h1M39 321.18h1M48 321.18h1M39 323.17h1M30 325.16h1M178 327.15h1M181 327.15h1M40 329.14h1M45 331.12h2M27 333.11h1M34 333.11h1M30 335.1h1M34 335.1h1M53 335.1h1M32 337.09h1M52 339.08h2M49 343.05h1M34 345.04h2M47 345.04h1M35 347.03h1M37 347.03h1M44 347.03h1M35 349.02h1M37 349.02h1M35 351h1M193 351h1M201 352.99h1M42 354.98h1M28 358.96h3M34 358.96h1M195 358.96h1M195 360.94h1M197 362.93h1M205 374.86h1M31 376.85h1"/><path stroke="#1485d4" d="M131 245.64h4M99 249.62h7M126 249.62h1M135 249.62h8M96 251.6h8M140 251.6h4M97 253.59h1M127 255.58h1M137 255.58h1M82 257.57h1M87 257.57h4M141 261.54h1M133 263.53h1M138 263.53h1M147 263.53h1M94 265.52h1M113 267.51h1M117 267.51h1M128 267.51h1M161 267.51h1M76 269.5h3M74 271.48h5M149 271.48h1M157 271.48h3M74 273.47h1M122 273.47h1M125 273.47h1M159 273.47h2M93 277.45h1M63 279.44h2M169 279.44h2M61 281.42h3M127 281.42h2M170 281.42h3M59 283.41h4M167 283.41h1M59 285.4h3M71 285.4h1M76 285.4h1M135 285.4h1M155 285.4h1M103 287.39h1M55 289.38h2M160 289.38h1M61 291.36h1M66 291.36h1M161 291.36h1M75 293.35h1M91 293.35h1M159 293.35h1M168 293.35h1M171 293.35h1M63 295.34h2M84 297.33h1M53 299.32h1M64 299.32h1M70 299.32h1M55 301.3h1M57 301.3h1M184 303.29h2M74 305.28h1M169 305.28h1M178 305.28h1M44 309.26h1M43 311.24h1M55 311.24h1M186 311.24h2M33 313.23h2M42 313.23h1M187 313.23h3M32 315.22h3M179 315.22h1M190 315.22h1M32 317.21h3M190 317.21h2M39 319.2h1M191 319.2h2M191 321.18h3M46 323.17h1M192 323.17h3M40 325.16h1M46 325.16h1M193 325.16h1M28 333.11h1M53 333.11h1M185 335.1h1M29 337.09h1M33 337.09h1M29 339.08h1M36 345.04h1M46 347.03h1M190 347.03h2M37 351h1M201 351h1M35 352.99h1M29 354.98h1M201 354.98h2M29 356.97h1M34 356.97h1M202 358.96h1M208 380.82h1M28 382.81h1"/><path stroke="#118dd2" d="M134 255.58h3M113 257.57h1M122 259.56h1M143 261.54h1M131 263.53h2M146 263.53h1M84 265.52h1M89 265.52h1M140 265.52h1M135 267.51h1M154 269.5h1M121 273.47h1M80 279.44h1M129 281.42h1M165 283.41h1M72 285.4h1M134 285.4h1M136 285.4h1M61 287.39h1M169 291.36h1M63 293.35h1M65 293.35h1M74 293.35h1M76 293.35h1M166 293.35h1M169 293.35h1M87 295.34h1M54 297.33h1M167 297.33h1M156 299.32h1M158 299.32h1M52 301.3h1M69 301.3h1M55 303.29h1M67 303.29h2M169 303.29h1M48 307.27h1M176 309.26h1M59 311.24h1M184 315.22h2M40 317.21h1M67 319.2h1M174 321.18h1M185 325.16h1M61 327.15h1M180 329.14h1M182 329.14h1M44 331.12h1M182 331.12h1M29 335.1h1M33 335.1h1M40 339.08h1M51 339.08h1M27 341.06h1M42 341.06h1M46 343.05h1M199 345.04h1M203 349.02h1M203 352.99h1M196 356.97h2M201 356.97h1M194 358.96h1M201 358.96h1M196 362.93h1"/><path stroke="#0b95d2" d="M131 251.6h1M102 255.58h1M133 255.58h1M143 257.57h1M128 261.54h1M145 263.53h1M90 267.51h1M148 267.51h1M151 269.5h1M150 271.48h1M155 271.48h1M90 273.47h1M104 273.47h1M156 273.47h1M91 275.46h1M103 275.46h1M105 275.46h1M139 275.46h1M107 277.45h1M156 277.45h1M77 279.44h1M155 279.44h1M80 281.42h1M130 281.42h1M158 281.42h1M162 281.42h1M157 283.41h1M131 285.4h1M133 285.4h1M152 285.4h1M105 287.39h1M163 287.39h1M85 289.38h1M97 289.38h1M160 291.36h1M67 293.35h1M86 295.34h1M173 295.34h1M55 299.32h1M167 301.3h1M173 303.29h1M58 305.28h1M170 307.27h1M183 307.27h1M166 315.22h1M38 317.21h1M181 317.21h1M42 321.18h1M65 321.18h1M47 323.17h1M61 325.16h1M184 325.16h1M45 327.15h1M186 335.1h1M47 343.05h2M43 347.03h1M204 376.85h1M27 380.82h1"/><path stroke="#079ccf" d="M127 249.62h1M108 255.58h1M132 255.58h1M102 257.57h1M140 261.54h1M93 265.52h1M116 267.51h1M153 269.5h1M155 269.5h1M136 271.48h2M106 273.47h2M128 273.47h1M152 273.47h1M159 277.45h1M78 279.44h1M100 279.44h1M103 279.44h1M75 281.42h2M81 281.42h2M147 281.42h2M166 283.41h1M103 285.4h1M132 285.4h1M170 285.4h1M102 287.39h1M171 287.39h1M84 289.38h1M93 291.36h1M149 291.36h2M92 293.35h1M78 295.34h1M178 295.34h1M166 297.33h1M54 299.32h1M167 299.32h2M59 301.3h1M70 301.3h1M168 301.3h1M168 303.29h1M174 303.29h1M179 303.29h1M48 305.28h1M57 305.28h1M73 305.28h1M74 307.27h1M165 309.26h1M166 311.24h1M40 319.2h2M175 319.2h1M180 327.15h1M179 329.14h1M27 331.12h1M181 331.12h1M30 337.09h1M36 347.03h1M202 349.02h1M193 356.97h1M202 356.97h1M37 360.94h1M197 364.92h1M208 366.91h1M203 378.84h1"/><path stroke="#06a2cb" d="M112 257.57h1M136 257.57h1M142 257.57h1M109 259.56h1M121 259.56h1M129 261.54h1M87 263.53h1M144 263.53h1M87 267.51h1M114 267.51h2M84 269.5h1M152 269.5h1M95 271.48h1M151 271.48h1M93 273.47h1M105 273.47h1M114 273.47h1M126 273.47h1M140 273.47h1M104 275.46h1M157 275.46h1M92 277.45h1M74 279.44h1M79 279.44h1M74 283.41h1M77 287.39h1M99 287.39h1M78 293.35h1M93 293.35h1M158 293.35h1M66 295.34h1M63 297.33h1M71 297.33h1M49 303.29h3M50 305.28h1M164 309.26h1M163 311.24h1M39 317.21h1M185 317.21h1M177 319.2h1M43 321.18h1M45 321.18h1M29 333.11h1M44 333.11h1M47 333.11h1M192 335.1h1M51 341.06h1M196 341.06h1M191 343.05h1M196 343.05h1M44 349.02h1M194 349.02h1M44 351h1M196 354.98h1M207 356.97h1M201 368.9h1M208 368.9h1M200 372.87h1"/><path stroke="#06a7c5" d="M128 249.62h1M132 251.6h1M128 255.58h1M131 255.58h1M91 259.56h1M133 259.56h1M139 259.56h2M130 261.54h1M144 261.54h1M139 263.53h1M143 263.53h1M90 265.52h1M92 265.52h1M141 265.52h1M129 267.51h1M134 267.51h1M85 269.5h1M108 273.47h1M127 273.47h1M137 273.47h1M143 275.46h1M154 275.46h1M103 277.45h1M160 277.45h1M76 279.44h1M147 279.44h1M79 281.42h1M71 283.41h1M83 283.41h1M87 285.4h3M91 285.4h1M101 287.39h1M157 287.39h1M164 287.39h1M81 289.38h1M142 289.38h1M159 289.38h1M167 291.36h1M55 293.35h1M73 293.35h1M77 293.35h1M150 293.35h1M70 295.34h1M55 297.33h1M65 297.33h1M159 297.33h1M83 299.32h1M60 303.29h1M159 303.29h1M60 309.26h2M60 311.24h1M40 315.22h1M40 321.18h1M172 321.18h1M40 323.17h1M189 327.15h1M28 331.12h1M192 333.11h1M30 339.08h1M50 341.06h1M189 345.04h1M191 345.04h1M47 347.03h1M46 349.02h1M193 352.99h1M194 356.97h2M27 358.96h1M204 358.96h1M27 360.94h1M27 362.93h1M204 374.86h1"/><path stroke="#09acbe" d="M106 249.62h1M129 249.62h3M133 251.6h3M103 255.58h1M107 255.58h1M129 255.58h2M103 257.57h9M137 257.57h5M88 259.56h1M90 259.56h1M120 259.56h1M138 259.56h1M141 259.56h1M131 261.54h4M139 261.54h1M145 261.54h1M148 261.54h1M140 263.53h3M91 265.52h1M88 267.51h2M130 267.51h2M133 267.51h1M149 267.51h1M98 271.48h1M152 271.48h1M154 271.48h1M91 273.47h2M109 273.47h1M113 273.47h1M139 273.47h1M153 273.47h3M84 275.46h1M81 277.45h1M91 277.45h1M157 277.45h2M75 279.44h1M101 279.44h2M154 279.44h1M160 279.44h1M72 281.42h1M74 281.42h1M77 281.42h2M146 281.42h1M149 281.42h1M157 281.42h1M72 283.41h2M75 283.41h1M106 283.41h1M111 283.41h1M146 283.41h1M158 283.41h1M160 283.41h1M77 285.4h1M86 285.4h1M90 285.4h1M153 285.4h2M161 285.4h2M78 287.39h3M86 287.39h2M100 287.39h1M106 287.39h1M152 287.39h1M172 287.39h1M61 289.38h1M83 289.38h1M146 289.38h1M68 291.36h1M94 291.36h1M159 291.36h1M162 291.36h1M164 291.36h1M168 291.36h1M62 293.35h1M66 293.35h1M71 293.35h1M147 293.35h3M164 293.35h2M55 295.34h1M65 295.34h1M72 295.34h3M85 295.34h1M150 295.34h1M177 295.34h1M62 297.33h1M64 297.33h1M56 299.32h1M59 299.32h5M73 299.32h1M56 301.3h1M60 301.3h2M156 301.3h1M58 303.29h1M158 303.29h1M49 305.28h1M160 305.28h1M177 305.28h1M161 307.27h1M178 307.27h1M73 309.26h1M162 309.26h1M172 309.26h1M165 311.24h1M167 313.23h2M176 313.23h1M39 315.22h1M178 315.22h1M176 317.21h2M180 317.21h1M181 319.2h1M41 321.18h1M44 321.18h1M177 321.18h1M41 323.17h2M45 323.17h1M64 323.17h1M177 323.17h1M189 323.17h1M41 325.16h1M45 325.16h1M62 325.16h1M179 325.16h1M41 327.15h1M179 327.15h1M29 329.14h1M44 329.14h1M181 329.14h1M189 329.14h1M29 331.12h1M40 331.12h1M43 331.12h1M43 333.11h1M52 333.11h1M193 333.11h1M52 335.1h1M187 335.1h1M193 335.1h1M51 337.09h1M197 341.06h1M190 345.04h1M196 345.04h1M196 347.03h1M36 349.02h1M43 349.02h1M200 349.02h2M43 351h1M44 352.99h1M35 354.98h1M193 354.98h1M203 354.98h1M203 356.97h1M204 360.94h1M27 366.91h1M204 372.87h1"/><path stroke="#12afb7" d="M105 243.65h1M108 243.65h11M129 243.65h2M99 245.64h8M114 245.64h10M126 245.64h5M94 247.63h6M101 247.63h8M118 247.63h22M91 249.62h8M107 249.62h2M114 249.62h2M117 249.62h6M132 249.62h3M143 249.62h1M88 251.6h8M136 251.6h4M144 251.6h3M85 253.59h2M92 253.59h5M136 253.59h13M83 255.58h8M104 255.58h3M138 255.58h11M81 257.57h1M83 257.57h4M133 257.57h3M144 257.57h9M80 259.56h8M89 259.56h1M110 259.56h10M134 259.56h4M142 259.56h13M89 261.54h1M135 261.54h4M146 261.54h2M149 261.54h8M86 263.53h1M148 263.53h6M77 265.52h7M142 265.52h10M158 265.52h2M74 267.51h6M132 267.51h1M150 267.51h3M158 267.51h3M73 269.5h3M156 269.5h7M71 271.48h3M96 271.48h2M153 271.48h1M160 271.48h5M71 273.47h3M110 273.47h3M138 273.47h1M161 273.47h1M67 275.46h1M72 275.46h1M85 275.46h6M140 275.46h3M155 275.46h2M160 275.46h4M65 277.45h3M82 277.45h1M85 277.45h6M104 277.45h3M161 277.45h1M165 277.45h5M65 279.44h4M148 279.44h2M153 279.44h1M161 279.44h1M166 279.44h3M64 281.42h3M73 281.42h1M144 281.42h2M150 281.42h1M153 281.42h4M163 281.42h7M63 283.41h1M76 283.41h2M81 283.41h2M107 283.41h1M110 283.41h1M145 283.41h1M159 283.41h1M168 283.41h6M57 285.4h2M78 285.4h1M84 285.4h2M104 285.4h1M108 285.4h8M171 285.4h4M56 287.39h4M81 287.39h2M85 287.39h1M88 287.39h3M153 287.39h4M173 287.39h4M54 289.38h1M57 289.38h2M82 289.38h1M86 289.38h2M98 289.38h1M143 289.38h3M153 289.38h6M172 289.38h3M176 289.38h2M53 291.36h3M60 291.36h1M67 291.36h1M95 291.36h2M148 291.36h1M151 291.36h1M157 291.36h2M163 291.36h1M172 291.36h1M177 291.36h2M51 293.35h4M59 293.35h3M72 293.35h1M151 293.35h1M172 293.35h1M178 293.35h1M50 295.34h5M56 295.34h3M62 295.34h1M71 295.34h1M75 295.34h1M77 295.34h1M84 295.34h1M151 295.34h1M174 295.34h3M179 295.34h2M48 297.33h6M56 297.33h2M61 297.33h1M72 297.33h1M75 297.33h1M81 297.33h3M152 297.33h1M155 297.33h1M176 297.33h6M46 299.32h7M57 299.32h2M71 299.32h2M79 299.32h4M155 299.32h1M177 299.32h2M182 299.32h1M44 301.3h8M76 301.3h1M78 301.3h2M179 301.3h1M182 301.3h2M43 303.29h3M59 303.29h1M79 303.29h2M157 303.29h1M160 303.29h2M180 303.29h4M41 305.28h4M174 305.28h1M176 305.28h1M182 305.28h5M40 307.27h2M44 307.27h1M71 307.27h1M162 307.27h3M175 307.27h1M184 307.27h3M43 309.26h1M70 309.26h3M163 309.26h1M166 309.26h1M177 309.26h2M184 309.26h4M35 311.24h2M42 311.24h1M164 311.24h1M167 311.24h1M174 311.24h1M185 311.24h1M188 311.24h2M35 313.23h2M41 313.23h1M165 313.23h2M169 313.23h1M190 313.23h1M35 315.22h2M41 315.22h1M176 315.22h2M31 317.21h1M35 317.21h1M173 317.21h1M178 317.21h2M30 319.2h5M37 319.2h1M172 319.2h3M189 319.2h2M29 321.18h5M37 321.18h1M173 321.18h1M190 321.18h1M28 323.17h5M34 323.17h2M43 323.17h2M178 323.17h1M191 323.17h1M27 325.16h2M31 325.16h4M42 325.16h1M178 325.16h1M189 325.16h1M192 325.16h1M194 325.16h1M27 327.15h1M32 327.15h1M42 327.15h1M44 327.15h1M192 327.15h4M27 329.14h1M41 329.14h3M192 329.14h5M41 331.12h2M191 331.12h3M40 333.11h1M42 333.11h1M45 333.11h2M194 333.11h1M40 335.1h1M43 335.1h3M47 335.1h2M51 335.1h1M188 335.1h1M194 335.1h2M40 337.09h1M44 337.09h1M186 337.09h2M194 337.09h2M41 339.08h3M50 339.08h1M190 339.08h1M196 339.08h1M47 341.06h3M190 341.06h1M198 341.06h1M201 341.06h1M189 343.05h2M199 343.05h1M201 343.05h3M195 345.04h1M203 345.04h2M200 347.03h2M203 347.03h4M204 349.02h5M36 351h1M194 351h1M204 351h5M43 352.99h1M194 352.99h2M206 352.99h1M208 352.99h1M43 354.98h1M194 354.98h2M207 354.98h1M35 356.97h1M204 356.97h1M206 358.96h1M36 360.94h1M205 360.94h1M35 362.93h3M27 364.92h1M33 364.92h5M33 366.91h4M33 368.9h3M34 370.88h1M201 370.88h1M203 372.87h1M202 374.86h2M202 376.85h2"/><path stroke="#1eb3ae" d="M109 249.62h1M84 277.45h1M152 279.44h1M162 279.44h1M151 281.42h1M78 283.41h3M79 285.4h1M81 285.4h3M107 285.4h1M83 287.39h2M97 291.36h1M56 293.35h1M152 293.35h1M59 295.34h1M61 295.34h1M58 297.33h1M154 297.33h1M156 297.33h1M77 301.3h1M80 301.3h1M155 301.3h1M161 305.28h1M175 305.28h1M73 307.27h1M44 325.16h1M190 329.14h1M45 337.09h1M197 339.08h1M204 352.99h1M205 356.97h1M205 358.96h1M201 374.86h1"/><path stroke="#2bb6a6" d="M153 267.51h1M83 277.45h1M152 281.42h1M80 285.4h1M105 285.4h1M99 289.38h1M57 291.36h1M152 295.34h2M60 297.33h1M73 297.33h2M153 299.32h1M82 301.3h1M165 307.27h1M177 307.27h1M180 319.2h1M43 327.15h1M41 333.11h1M43 337.09h1M49 339.08h1M204 354.98h1M206 356.97h1M201 372.87h1"/><path stroke="#3bb99c" d="M121 277.45h3M164 277.45h1M114 279.44h11M128 279.44h7M100 281.42h1M107 281.42h3M111 281.42h3M131 281.42h6M142 281.42h1M97 283.41h9M142 283.41h2M93 285.4h1M99 285.4h2M144 285.4h3M91 287.39h2M147 287.39h2M59 289.38h1M91 289.38h2M149 289.38h4M84 291.36h2M87 291.36h3M147 291.36h1M156 291.36h1M84 293.35h3M157 293.35h1M60 295.34h1M76 295.34h1M82 295.34h2M158 295.34h3M76 297.33h5M158 297.33h1M76 299.32h3M159 299.32h2M75 301.3h1M160 301.3h4M162 303.29h4M68 305.28h1M72 305.28h1M167 305.28h2M68 307.27h3M168 307.27h2M67 309.26h3M170 309.26h2M65 311.24h3M171 311.24h3M64 313.23h3M170 313.23h2M172 315.22h1M175 315.22h1M174 317.21h2M178 319.2h2M57 321.18h2M178 321.18h4M56 323.17h3M179 323.17h4M53 325.16h5M183 325.16h1M53 327.15h3M183 327.15h4M52 329.14h3M185 329.14h4M50 331.12h4M187 331.12h4M49 333.11h3M188 333.11h4M46 335.1h1M49 335.1h1M189 335.1h3M46 337.09h5M190 337.09h1M193 337.09h1M44 339.08h4M193 339.08h3M43 341.06h4M193 341.06h3M43 343.05h3M193 343.05h3M194 345.04h1M194 347.03h2M195 349.02h2M195 351h2M36 352.99h2M196 352.99h3M36 354.98h3M197 354.98h2M36 356.97h2M198 356.97h3M36 358.96h1M199 358.96h2M31 360.94h5M200 360.94h2M31 362.93h3M201 362.93h1M203 362.93h2M32 364.92h1M202 364.92h4M202 366.91h1M205 366.91h2M27 368.9h2M205 368.9h3M28 370.88h2M205 370.88h4M205 372.87h4M206 374.86h3M208 376.85h1M208 378.84h1"/><path stroke="#4cbc92" d="M151 279.44h1M106 285.4h1M60 289.38h1M173 293.35h1M59 297.33h1M153 297.33h1M41 337.09h1M48 339.08h1M188 343.05h1M205 354.98h2M202 368.9h1"/><path stroke="#5fbe88" d="M150 279.44h1M163 305.28h1M43 325.16h1M189 337.09h1M187 339.08h1M202 372.87h1"/><path stroke="#72bf80" d="M106 243.65h2M107 245.64h7M124 245.64h2M100 247.63h1M109 247.63h9M110 249.62h4M116 249.62h1M87 253.59h5M149 255.58h2M78 261.54h8M88 261.54h1M77 263.53h8M154 263.53h4M76 265.52h1M152 265.52h6M154 267.51h4M69 273.47h2M162 273.47h5M68 275.46h4M164 275.46h5M68 277.45h3M162 277.45h2M164 279.44h2M108 283.41h2M101 289.38h1M175 289.38h1M175 291.36h2M176 293.35h2M179 299.32h3M180 301.3h2M162 305.28h1M39 307.27h1M42 307.27h2M72 307.27h1M176 307.27h1M37 309.26h6M37 311.24h5M37 313.23h4M37 315.22h2M36 317.21h2M35 319.2h2M34 321.18h3M33 323.17h1M36 323.17h1M190 323.17h1M29 325.16h1M190 325.16h2M28 327.15h2M190 327.15h2M28 329.14h1M191 329.14h1M194 331.12h3M195 333.11h3M196 335.1h3M42 337.09h1M196 337.09h4M198 339.08h3M199 341.06h2M200 343.05h1M200 345.04h3M202 347.03h1M207 352.99h1"/><path stroke="#85bf78" d="M163 279.44h1M175 293.35h1M81 301.3h1M175 313.23h1M42 335.1h1M205 352.99h1"/><path stroke="#95bf71" d="M85 263.53h1M100 289.38h1M168 311.24h1M41 335.1h1M188 337.09h1"/><path stroke="#a5be6b" d="M146 291.36h1M58 293.35h1M154 299.32h1M203 370.88h1"/><path stroke="#b4bd65" d="M145 291.36h1M154 295.34h1"/><path stroke="#c2bc5f" d="M144 291.36h1M173 291.36h1M174 293.35h1"/><path stroke="#cfbb5a" d="M57 293.35h1M187 341.06h1M189 341.06h1M202 370.88h1"/><path stroke="#eab94e" d="M125 279.44h3M110 281.42h1M143 281.42h1M144 283.41h1M88 289.38h3M86 291.36h1M152 291.36h4M153 293.35h4M156 295.34h2M157 297.33h1M164 305.28h3M166 307.27h2M167 309.26h3M169 311.24h2M172 313.23h2M173 315.22h2M50 335.1h1M188 341.06h1M35 358.96h1M34 362.93h1M203 366.91h2M203 368.9h2M204 370.88h1"/><path stroke="#f6ba46" d="M87 261.54h1M59 291.36h1M174 291.36h1M188 339.08h2"/><path stroke="#fec03b" d="M114 233.71h7M124 233.71h3M109 235.7h26M104 237.69h34M100 239.68h40M97 241.66h46M93 243.65h12M119 243.65h10M131 243.65h13M91 245.64h8M135 245.64h11M90 247.63h4M140 247.63h8M87 249.62h4M144 249.62h7M84 251.6h4M147 251.6h4M83 253.59h2M149 253.59h4M81 255.58h2M151 255.58h4M79 257.57h2M153 257.57h3M77 259.56h3M155 259.56h3M75 261.54h3M86 261.54h1M157 261.54h2M73 263.53h4M158 263.53h2M72 265.52h4M160 265.52h3M71 267.51h3M162 267.51h2M67 269.5h6M163 269.5h2M65 271.48h6M165 271.48h2M65 273.47h4M167 273.47h1M63 275.46h4M61 277.45h4M59 279.44h4M57 281.42h4M55 283.41h4M53 285.4h4M52 287.39h4M51 289.38h3M50 291.36h3M58 291.36h1M49 293.35h2M48 295.34h2M155 295.34h1M47 297.33h1M43 299.32h3M42 301.3h2M41 303.29h2M40 305.28h1M174 313.23h1M31 315.22h1M29 317.21h2M28 319.2h2M27 321.18h2M27 323.17h1M195 325.16h1M196 327.15h1M197 329.14h1M197 331.12h2M198 333.11h2M199 335.1h1M200 337.09h1M201 339.08h2M202 341.06h2M204 343.05h1M205 345.04h1M207 347.03h2"/><path stroke="#fec833" d="M29 341.06h2M27 343.05h5M27 345.04h5M27 347.03h6M27 349.02h6M27 351h5M27 352.99h3M27 354.98h2M27 356.97h1"/><path stroke="#fbd02c" d="M117 229.74h9M107 231.72h30M102 233.71h12M121 233.71h3M127 233.71h13M98 235.7h11M135 235.7h8M95 237.69h9M138 237.69h7M92 239.68h8M140 239.68h7M90 241.66h7M143 241.66h6M87 243.65h6M144 243.65h6M85 245.64h6M146 245.64h6M83 247.63h7M148 247.63h5M81 249.62h6M151 249.62h4M79 251.6h5M151 251.6h5M77 253.59h6M153 253.59h5M75 255.58h6M155 255.58h5M73 257.57h6M156 257.57h5M72 259.56h5M158 259.56h5M70 261.54h5M159 261.54h5M68 263.53h5M160 263.53h5M66 265.52h6M163 265.52h4M65 267.51h6M164 267.51h4M63 269.5h4M165 269.5h5M61 271.48h4M167 271.48h4M59 273.47h6M168 273.47h4M58 275.46h5M169 275.46h5M56 277.45h5M170 277.45h5M54 279.44h5M171 279.44h6M52 281.42h5M173 281.42h5M50 283.41h5M174 283.41h6M49 285.4h4M175 285.4h6M47 287.39h5M177 287.39h5M46 289.38h5M178 289.38h5M45 291.36h5M179 291.36h5M43 293.35h6M179 293.35h6M42 295.34h6M181 295.34h5M40 297.33h7M182 297.33h5M39 299.32h4M183 299.32h5M38 301.3h4M184 301.3h5M37 303.29h4M186 303.29h4M35 305.28h5M187 305.28h4M33 307.27h6M187 307.27h5M31 309.26h6M188 309.26h5M29 311.24h6M190 311.24h4M28 313.23h5M191 313.23h4M27 315.22h4M191 315.22h5M27 317.21h2M192 317.21h5M27 319.2h1M193 319.2h5M194 321.18h5M195 323.17h5M196 325.16h4M197 327.15h4M198 329.14h4M199 331.12h4M200 333.11h4M200 335.1h4M201 337.09h8M203 339.08h6M204 341.06h5M205 343.05h4M206 345.04h3"/></g>
<g stroke-width="1.5" fill="none"><path stroke="#36349b" d="M393.3 229.74h22M387.3 231.72h33M382.3 233.71h41M379.3 235.7h46M376.3 237.69h52M373.3 239.68h56M371.3 241.66h60M369.3 243.65h64M366.3 245.64h68M364.3 247.63h44M413.3 247.63h23M362.3 249.62h16M381.3 249.62h5M417.3 249.62h21M360.3 251.6h13M378.3 251.6h8M422.3 251.6h17M358.3 253.59h12M379.3 253.59h2M427.3 253.59h14M356.3 255.58h11M379.3 255.58h1M429.3 255.58h13M355.3 257.57h10M369.3 257.57h5M430.3 257.57h14M353.3 259.56h11M432.3 259.56h13M351.3 261.54h11M435.3 261.54h12M350.3 263.53h11M437.3 263.53h11M348.3 265.52h11M439.3 265.52h10M346.3 267.51h12M441.3 267.51h10M344.3 269.5h12M358.3 269.5h3M444.3 269.5h8M342.3 271.48h13M356.3 271.48h5M439.3 271.48h3M446.3 271.48h8M341.3 273.47h12M440.3 273.47h3M448.3 273.47h7M339.3 275.46h11M441.3 275.46h1M450.3 275.46h6M337.3 277.45h11M452.3 277.45h6M335.3 279.44h12M451.3 279.44h8M334.3 281.42h12M452.3 281.42h9M332.3 283.41h13M457.3 283.41h5M330.3 285.4h10M341.3 285.4h2M459.3 285.4h4M329.3 287.39h10M460.3 287.39h4M327.3 289.38h10M461.3 289.38h4M326.3 291.36h10M463.3 291.36h4M325.3 293.35h9M464.3 293.35h4M323.3 295.34h10M465.3 295.34h4M322.3 297.33h9M467.3 297.33h3M320.3 299.32h10M468.3 299.32h3M319.3 301.3h9M466.3 301.3h2M469.3 301.3h3M318.3 303.29h8M466.3 303.29h2M470.3 303.29h3M316.3 305.28h8M471.3 305.28h3M314.3 307.27h9M472.3 307.27h3M312.3 309.26h9M326.3 309.26h1M473.3 309.26h3M310.3 311.24h9M325.3 311.24h1M474.3 311.24h3M309.3 313.23h8M324.3 313.23h1M456.3 313.23h1M475.3 313.23h3M309.3 315.22h8M476.3 315.22h3M309.3 317.21h7M473.3 317.21h1M476.3 317.21h3M309.3 319.2h4M474.3 319.2h2M477.3 319.2h3M309.3 321.18h3M475.3 321.18h2M478.3 321.18h3M309.3 323.17h2M476.3 323.17h1M478.3 323.17h4M479.3 325.16h4M480.3 327.15h4M481.3 329.14h4M481.3 331.12h4M482.3 333.11h4M483.3 335.1h4M484.3 337.09h7M485.3 339.08h6M311.3 341.06h2M486.3 341.06h5M309.3 343.05h5M488.3 343.05h3M309.3 345.04h5M489.3 345.04h2M309.3 347.03h6M309.3 349.02h6M309.3 351h5M309.3 352.99h3M309.3 354.98h2M309.3 356.97h1"/><path stroke="#343eb0" d="M368.3 261.54h1"/><path stroke="#2d49c5" d="M340.3 291.36h1"/><path stroke="#1857d8" d="M369.3 261.54h1"/><path stroke="#0a72de" d="M341.3 291.36h1M456.3 291.36h1"/><path stroke="#0b95d2" d="M398.3 279.44h2M407.3 279.44h4M391.3 281.42h3M389.3 283.41h4M426.3 283.41h1M387.3 285.4h3M371.3 289.38h2M381.3 289.38h1M427.3 289.38h1M367.3 291.36h2M428.3 291.36h2M434.3 291.36h4M434.3 293.35h5M366.3 295.34h1M433.3 295.34h7M364.3 297.33h1M435.3 297.33h2M438.3 297.33h2M437.3 299.32h1M359.3 301.3h1M362.3 301.3h1M444.3 305.28h5M353.3 307.27h3M447.3 307.27h3M352.3 309.26h3M449.3 309.26h3M450.3 311.24h3M454.3 313.23h2M455.3 315.22h2M332.3 335.1h1M470.3 335.1h1M331.3 337.09h1M469.3 337.09h3M470.3 339.08h2M470.3 341.06h2M477.3 349.02h1M476.3 352.99h1M317.3 358.96h1M318.3 360.94h1M316.3 362.93h3M315.3 364.92h4M315.3 366.91h2M485.3 366.91h2M315.3 368.9h2M484.3 368.9h3M483.3 370.88h4M484.3 372.87h2"/><path stroke="#079ccf" d="M339.3 293.35h1M462.3 299.32h1"/><path stroke="#06a2cb" d="M455.3 291.36h1M456.3 293.35h1M480.3 337.09h1"/><path stroke="#06a7c5" d="M446.3 279.44h1M427.3 291.36h1M457.3 291.36h1M461.3 299.32h1"/><path stroke="#09acbe" d="M410.3 247.63h2M390.3 249.62h13M413.3 249.62h1M373.3 251.6h3M413.3 251.6h6M370.3 253.59h6M367.3 255.58h4M425.3 255.58h4M419.3 257.57h1M422.3 257.57h4M427.3 259.56h3M362.3 261.54h6M429.3 261.54h2M361.3 263.53h7M433.3 263.53h4M359.3 265.52h7M434.3 265.52h5M435.3 267.51h6M439.3 269.5h4M443.3 271.48h3M353.3 273.47h1M444.3 273.47h4M350.3 275.46h5M444.3 275.46h6M348.3 277.45h5M402.3 277.45h3M447.3 277.45h3M348.3 279.44h3M389.3 279.44h2M396.3 279.44h2M400.3 279.44h7M411.3 279.44h6M448.3 279.44h1M382.3 281.42h1M388.3 281.42h3M394.3 281.42h6M407.3 281.42h12M381.3 283.41h8M393.3 283.41h4M409.3 283.41h9M425.3 283.41h1M381.3 285.4h6M390.3 285.4h3M414.3 285.4h7M427.3 285.4h2M373.3 287.39h2M380.3 287.39h7M422.3 287.39h3M457.3 287.39h3M340.3 289.38h1M373.3 289.38h8M382.3 289.38h1M425.3 289.38h2M428.3 289.38h7M458.3 289.38h3M369.3 291.36h9M430.3 291.36h4M438.3 291.36h1M459.3 291.36h4M340.3 293.35h1M366.3 293.35h9M431.3 293.35h3M439.3 293.35h1M460.3 293.35h4M333.3 295.34h4M364.3 295.34h2M367.3 295.34h4M440.3 295.34h2M462.3 295.34h3M333.3 297.33h2M358.3 297.33h3M362.3 297.33h2M365.3 297.33h2M437.3 297.33h1M440.3 297.33h1M464.3 297.33h3M332.3 299.32h2M358.3 299.32h8M436.3 299.32h1M438.3 299.32h5M464.3 299.32h1M467.3 299.32h1M330.3 301.3h4M358.3 301.3h1M360.3 301.3h2M438.3 301.3h1M442.3 301.3h3M358.3 303.29h1M360.3 303.29h1M440.3 303.29h7M325.3 305.28h2M355.3 305.28h2M441.3 305.28h3M449.3 305.28h1M323.3 307.27h3M356.3 307.27h1M443.3 307.27h4M450.3 307.27h2M468.3 307.27h3M321.3 309.26h5M349.3 309.26h3M355.3 309.26h1M445.3 309.26h4M452.3 309.26h1M470.3 309.26h3M319.3 311.24h6M447.3 311.24h3M453.3 311.24h2M472.3 311.24h2M318.3 313.23h6M448.3 313.23h6M473.3 313.23h2M318.3 315.22h3M454.3 315.22h1M457.3 315.22h1M474.3 315.22h2M317.3 317.21h3M455.3 317.21h4M316.3 319.2h4M454.3 319.2h4M459.3 319.2h3M312.3 321.18h1M315.3 321.18h5M455.3 321.18h2M459.3 321.18h5M311.3 323.17h8M459.3 323.17h3M309.3 325.16h3M313.3 325.16h4M460.3 325.16h2M478.3 325.16h1M309.3 327.15h3M461.3 327.15h2M476.3 327.15h1M478.3 327.15h2M309.3 329.14h2M463.3 329.14h1M479.3 329.14h2M471.3 331.12h2M479.3 331.12h2M332.3 333.11h3M470.3 333.11h3M480.3 333.11h2M323.3 335.1h1M331.3 335.1h1M333.3 335.1h2M469.3 335.1h1M471.3 335.1h1M479.3 335.1h4M328.3 337.09h3M332.3 337.09h2M475.3 337.09h1M482.3 337.09h2M327.3 339.08h6M472.3 339.08h1M475.3 339.08h2M482.3 339.08h1M325.3 341.06h8M472.3 341.06h1M475.3 341.06h3M326.3 343.05h1M471.3 343.05h2M476.3 343.05h1M472.3 345.04h2M487.3 345.04h2M477.3 347.03h1M487.3 347.03h3M325.3 349.02h1M478.3 349.02h1M490.3 349.02h1M325.3 351h1M476.3 351h2M318.3 352.99h1M325.3 352.99h1M475.3 352.99h1M477.3 352.99h1M318.3 354.98h1M475.3 354.98h4M318.3 356.97h1M476.3 356.97h2M318.3 358.96h1M316.3 360.94h2M314.3 362.93h2M319.3 362.93h1M485.3 364.92h2M317.3 366.91h1M484.3 366.91h1M487.3 366.91h1M487.3 368.9h1M487.3 370.88h1M486.3 372.87h1M485.3 374.86h2"/><path stroke="#12afb7" d="M445.3 279.44h1M457.3 293.35h1M363.3 301.3h1M457.3 313.23h1M472.3 325.16h1M473.3 327.15h1M324.3 335.1h1M479.3 337.09h1M480.3 339.08h1M487.3 352.99h1"/><path stroke="#1eb3ae" d="M370.3 261.54h1M445.3 277.45h1M458.3 307.27h1M472.3 327.15h1M324.3 337.09h1"/><path stroke="#2bb6a6" d="M325.3 325.16h1M469.3 339.08h1M489.3 351h1M489.3 352.99h1"/><path stroke="#3bb99c" d="M432.3 279.44h2M342.3 289.38h1M323.3 337.09h1M487.3 351h1M487.3 354.98h1"/><path stroke="#4cbc92" d="M444.3 277.45h1M455.3 293.35h1M341.3 297.33h1M488.3 352.99h1M488.3 354.98h1"/><path stroke="#5fbe88" d="M446.3 277.45h1M447.3 279.44h1"/><path stroke="#72bf80" d="M341.3 289.38h1M342.3 295.34h1M459.3 307.27h1M455.3 311.24h1M479.3 333.11h1M328.3 335.1h1M487.3 349.02h1"/><path stroke="#85bf78" d="M362.3 285.4h1M339.3 291.36h1M356.3 297.33h1M325.3 327.15h1M323.3 333.11h1M488.3 356.97h1M483.3 372.87h1"/><path stroke="#95bf71" d="M365.3 277.45h1M342.3 297.33h1M355.3 297.33h1M326.3 339.08h1M488.3 351h1M486.3 354.98h1"/><path stroke="#a5be6b" d="M434.3 281.42h1M341.3 295.34h1M462.3 319.2h1M326.3 325.16h1M325.3 337.09h1M327.3 337.09h1M481.3 339.08h1M489.3 349.02h1M486.3 352.99h1"/><path stroke="#b4bd65" d="M366.3 277.45h1M361.3 283.41h1M361.3 285.4h1M363.3 285.4h1M365.3 287.39h1M458.3 291.36h1M338.3 293.35h1M458.3 293.35h1M340.3 297.33h1M463.3 299.32h1M462.3 301.3h2M488.3 349.02h1"/><path stroke="#c2bc5f" d="M444.3 279.44h1M433.3 281.42h1M360.3 283.41h1M362.3 283.41h1M457.3 305.28h1M473.3 325.16h1M487.3 356.97h1"/><path stroke="#cfbb5a" d="M431.3 279.44h1M434.3 279.44h1M364.3 285.4h2M366.3 287.39h1M370.3 289.38h1M341.3 293.35h1M343.3 295.34h1M472.3 329.14h1M478.3 333.11h1M479.3 339.08h1M487.3 358.96h1"/><path stroke="#ddba54" d="M371.3 277.45h1M359.3 283.41h1M394.3 285.4h2M436.3 287.39h1M455.3 289.38h1M340.3 295.34h1M434.3 297.33h1M326.3 323.17h1M324.3 327.15h1M324.3 333.11h1M327.3 335.1h1M478.3 335.1h1M326.3 337.09h1M481.3 337.09h1M325.3 339.08h1M481.3 341.06h1M490.3 351h1"/><path stroke="#eab94e" d="M395.3 259.56h4M426.3 259.56h1M368.3 263.53h1M433.3 265.52h1M434.3 267.51h1M370.3 277.45h1M435.3 281.42h1M446.3 281.42h1M363.3 283.41h1M366.3 285.4h1M364.3 287.39h1M435.3 287.39h1M437.3 287.39h1M369.3 289.38h1M456.3 289.38h1M339.3 295.34h1M458.3 315.22h1M325.3 323.17h1M473.3 329.14h1M325.3 335.1h1M489.3 354.98h1"/><path stroke="#f6ba46" d="M387.3 255.58h1M394.3 259.56h1M399.3 259.56h1M417.3 259.56h2M425.3 259.56h1M419.3 261.54h1M426.3 265.52h7M433.3 267.51h1M393.3 273.47h1M423.3 275.46h1M364.3 277.45h1M367.3 277.45h1M372.3 277.45h1M387.3 277.45h1M443.3 277.45h1M443.3 279.44h1M426.3 281.42h1M432.3 281.42h1M445.3 281.42h1M447.3 281.42h1M358.3 283.41h1M360.3 285.4h1M393.3 285.4h1M367.3 287.39h1M371.3 287.39h1M438.3 287.39h1M436.3 289.38h1M454.3 289.38h1M342.3 291.36h1M378.3 291.36h1M454.3 291.36h1M459.3 293.35h1M338.3 295.34h1M456.3 295.34h2M339.3 297.33h1M343.3 297.33h1M354.3 297.33h1M357.3 297.33h1M460.3 297.33h2M339.3 299.32h1M354.3 299.32h1M458.3 305.28h1M456.3 311.24h1M460.3 317.21h2M324.3 325.16h1M326.3 327.15h1M324.3 329.14h1M323.3 331.12h1M476.3 331.12h2M328.3 333.11h1M477.3 333.11h1M322.3 335.1h1M329.3 335.1h1M324.3 339.08h1M480.3 341.06h1M477.3 343.05h1M477.3 345.04h1M483.3 347.03h1M486.3 347.03h1M486.3 351h1M317.3 356.97h1M486.3 356.97h1M319.3 364.92h1M484.3 374.86h1"/><path stroke="#fec03b" d="M408.3 247.63h2M412.3 247.63h1M378.3 249.62h3M386.3 249.62h4M403.3 249.62h10M414.3 249.62h3M376.3 251.6h2M386.3 251.6h27M419.3 251.6h3M376.3 253.59h3M381.3 253.59h46M371.3 255.58h8M380.3 255.58h7M388.3 255.58h37M365.3 257.57h4M374.3 257.57h45M420.3 257.57h2M426.3 257.57h4M364.3 259.56h30M400.3 259.56h17M419.3 259.56h6M430.3 259.56h2M371.3 261.54h48M420.3 261.54h9M431.3 261.54h4M369.3 263.53h64M366.3 265.52h60M358.3 267.51h75M356.3 269.5h2M361.3 269.5h78M443.3 269.5h1M355.3 271.48h1M361.3 271.48h78M442.3 271.48h1M354.3 273.47h39M394.3 273.47h46M443.3 273.47h1M355.3 275.46h68M424.3 275.46h17M442.3 275.46h2M353.3 277.45h11M368.3 277.45h2M373.3 277.45h14M388.3 277.45h14M405.3 277.45h38M450.3 277.45h2M347.3 279.44h1M351.3 279.44h38M391.3 279.44h5M417.3 279.44h14M435.3 279.44h8M449.3 279.44h2M346.3 281.42h36M383.3 281.42h5M400.3 281.42h7M419.3 281.42h7M427.3 281.42h5M436.3 281.42h9M448.3 281.42h4M345.3 283.41h13M364.3 283.41h17M397.3 283.41h12M418.3 283.41h7M427.3 283.41h30M340.3 285.4h1M343.3 285.4h17M367.3 285.4h14M413.3 285.4h1M421.3 285.4h6M429.3 285.4h30M339.3 287.39h25M368.3 287.39h3M372.3 287.39h1M375.3 287.39h5M387.3 287.39h1M419.3 287.39h3M425.3 287.39h10M439.3 287.39h18M337.3 289.38h3M343.3 289.38h26M424.3 289.38h1M435.3 289.38h1M437.3 289.38h17M457.3 289.38h1M336.3 291.36h3M343.3 291.36h24M439.3 291.36h15M334.3 293.35h4M342.3 293.35h24M375.3 293.35h1M430.3 293.35h1M440.3 293.35h15M337.3 295.34h1M344.3 295.34h20M371.3 295.34h2M442.3 295.34h14M458.3 295.34h4M331.3 297.33h2M335.3 297.33h4M344.3 297.33h10M361.3 297.33h1M367.3 297.33h2M441.3 297.33h19M462.3 297.33h2M330.3 299.32h2M334.3 299.32h5M340.3 299.32h14M355.3 299.32h3M366.3 299.32h1M443.3 299.32h18M465.3 299.32h2M328.3 301.3h2M334.3 301.3h24M439.3 301.3h3M445.3 301.3h17M464.3 301.3h2M468.3 301.3h1M326.3 303.29h32M359.3 303.29h1M361.3 303.29h1M439.3 303.29h1M447.3 303.29h19M468.3 303.29h2M324.3 305.28h1M327.3 305.28h28M357.3 305.28h3M450.3 305.28h7M459.3 305.28h12M326.3 307.27h27M357.3 307.27h1M442.3 307.27h1M452.3 307.27h6M460.3 307.27h8M471.3 307.27h1M327.3 309.26h22M444.3 309.26h1M453.3 309.26h17M326.3 311.24h29M446.3 311.24h1M457.3 311.24h15M317.3 313.23h1M325.3 313.23h28M447.3 313.23h1M458.3 313.23h15M317.3 315.22h1M321.3 315.22h31M449.3 315.22h5M459.3 315.22h15M316.3 317.21h1M320.3 317.21h30M451.3 317.21h4M459.3 317.21h1M462.3 317.21h11M474.3 317.21h2M313.3 319.2h3M320.3 319.2h29M453.3 319.2h1M458.3 319.2h1M463.3 319.2h11M476.3 319.2h1M313.3 321.18h2M320.3 321.18h28M457.3 321.18h2M464.3 321.18h11M477.3 321.18h1M319.3 323.17h6M327.3 323.17h19M456.3 323.17h3M462.3 323.17h14M477.3 323.17h1M312.3 325.16h1M317.3 325.16h7M327.3 325.16h18M458.3 325.16h2M462.3 325.16h10M474.3 325.16h4M312.3 327.15h12M327.3 327.15h16M460.3 327.15h1M463.3 327.15h9M474.3 327.15h2M477.3 327.15h1M311.3 329.14h13M325.3 329.14h17M462.3 329.14h1M464.3 329.14h8M474.3 329.14h5M309.3 331.12h14M324.3 331.12h16M464.3 331.12h7M473.3 331.12h3M478.3 331.12h1M309.3 333.11h14M325.3 333.11h3M329.3 333.11h3M335.3 333.11h4M465.3 333.11h5M473.3 333.11h4M309.3 335.1h13M326.3 335.1h1M330.3 335.1h1M335.3 335.1h3M467.3 335.1h2M472.3 335.1h6M309.3 337.09h14M334.3 337.09h2M468.3 337.09h1M472.3 337.09h3M476.3 337.09h3M309.3 339.08h15M333.3 339.08h2M473.3 339.08h2M477.3 339.08h2M483.3 339.08h2M309.3 341.06h2M313.3 341.06h12M333.3 341.06h1M473.3 341.06h2M478.3 341.06h2M482.3 341.06h4M314.3 343.05h12M327.3 343.05h5M473.3 343.05h3M478.3 343.05h10M314.3 345.04h17M471.3 345.04h1M474.3 345.04h3M478.3 345.04h9M315.3 347.03h15M472.3 347.03h5M478.3 347.03h5M484.3 347.03h2M490.3 347.03h1M315.3 349.02h10M326.3 349.02h3M473.3 349.02h4M479.3 349.02h8M314.3 351h11M326.3 351h2M473.3 351h3M478.3 351h8M312.3 352.99h6M319.3 352.99h6M474.3 352.99h1M478.3 352.99h8M490.3 352.99h1M311.3 354.98h7M319.3 354.98h6M479.3 354.98h7M490.3 354.98h1M310.3 356.97h7M319.3 356.97h5M478.3 356.97h8M489.3 356.97h2M309.3 358.96h8M319.3 358.96h4M477.3 358.96h10M488.3 358.96h3M309.3 360.94h7M319.3 360.94h3M478.3 360.94h13M309.3 362.93h5M320.3 362.93h1M479.3 362.93h12M309.3 364.92h6M479.3 364.92h6M487.3 364.92h4M309.3 366.91h6M318.3 366.91h1M480.3 366.91h4M488.3 366.91h3M309.3 368.9h6M317.3 368.9h1M481.3 368.9h3M488.3 368.9h3M309.3 370.88h8M482.3 370.88h1M488.3 370.88h3M309.3 372.87h6M487.3 372.87h4M309.3 374.86h5M487.3 374.86h4M309.3 376.85h4M485.3 376.85h6M309.3 378.84h3M486.3 378.84h5M309.3 380.82h3M487.3 380.82h4M309.3 382.81h2M488.3 382.81h3M309.3 384.8h1M489.3 384.8h2M490.3 386.79h1"/><path stroke="#fec833" d="M396.3 285.4h17M388.3 287.39h14M409.3 287.39h10M383.3 289.38h9M415.3 289.38h9M379.3 291.36h7M421.3 291.36h6M376.3 293.35h5M424.3 293.35h6M373.3 295.34h5M428.3 295.34h5M369.3 297.33h6M430.3 297.33h4M367.3 299.32h5M432.3 299.32h4M364.3 301.3h5M434.3 301.3h4M362.3 303.29h4M435.3 303.29h4M360.3 305.28h4M437.3 305.28h4M358.3 307.27h4M438.3 307.27h4M356.3 309.26h4M440.3 309.26h4M355.3 311.24h4M442.3 311.24h4M353.3 313.23h4M444.3 313.23h3M352.3 315.22h4M445.3 315.22h4M350.3 317.21h4M447.3 317.21h4M349.3 319.2h4M449.3 319.2h4M348.3 321.18h3M451.3 321.18h4M346.3 323.17h4M452.3 323.17h4M345.3 325.16h3M454.3 325.16h4M343.3 327.15h4M456.3 327.15h4M342.3 329.14h3M458.3 329.14h4M340.3 331.12h4M460.3 331.12h4M339.3 333.11h4M461.3 333.11h4M338.3 335.1h3M463.3 335.1h4M336.3 337.09h4M465.3 337.09h3M335.3 339.08h4M466.3 339.08h3M334.3 341.06h3M467.3 341.06h3M332.3 343.05h4M467.3 343.05h4M331.3 345.04h4M468.3 345.04h3M330.3 347.03h3M469.3 347.03h3M329.3 349.02h3M470.3 349.02h3M328.3 351h3M470.3 351h3M326.3 352.99h4M471.3 352.99h3M325.3 354.98h4M472.3 354.98h3M324.3 356.97h4M473.3 356.97h3M323.3 358.96h3M473.3 358.96h4M322.3 360.94h3M474.3 360.94h4M321.3 362.93h3M475.3 362.93h4M320.3 364.92h3M476.3 364.92h3M319.3 366.91h3M477.3 366.91h3M318.3 368.9h3M478.3 368.9h3M317.3 370.88h3M479.3 370.88h3M315.3 372.87h4M480.3 372.87h3M314.3 374.86h4M481.3 374.86h3M313.3 376.85h4M482.3 376.85h3M312.3 378.84h4M483.3 378.84h3M312.3 380.82h3M484.3 380.82h3M311.3 382.81h3M485.3 382.81h3M310.3 384.8h3M486.3 384.8h3M309.3 386.79h3M487.3 386.79h3M309.3 388.78h2M488.3 388.78h3M489.3 390.76h2M490.3 392.75h1"/><path stroke="#f5e31e" d="M391.3 225.76h27M385.3 227.75h37M381.3 229.74h12M415.3 229.74h10M377.3 231.72h10M420.3 231.72h8M374.3 233.71h8M423.3 233.71h7M371.3 235.7h8M425.3 235.7h7M369.3 237.69h7M428.3 237.69h6M366.3 239.68h7M429.3 239.68h6M364.3 241.66h7M431.3 241.66h6M362.3 243.65h7M433.3 243.65h6M360.3 245.64h6M434.3 245.64h6M358.3 247.63h6M436.3 247.63h6M356.3 249.62h6M438.3 249.62h5M354.3 251.6h6M439.3 251.6h6M352.3 253.59h6M441.3 253.59h5M351.3 255.58h5M442.3 255.58h6M349.3 257.57h6M444.3 257.57h5M347.3 259.56h6M445.3 259.56h6M345.3 261.54h6M447.3 261.54h5M344.3 263.53h6M448.3 263.53h5M342.3 265.52h6M449.3 265.52h6M340.3 267.51h6M451.3 267.51h5M338.3 269.5h6M452.3 269.5h6M337.3 271.48h5M454.3 271.48h5M335.3 273.47h6M455.3 273.47h5M333.3 275.46h6M456.3 275.46h6M331.3 277.45h6M458.3 277.45h5M329.3 279.44h6M459.3 279.44h6M328.3 281.42h6M461.3 281.42h5M326.3 283.41h6M462.3 283.41h5M325.3 285.4h5M463.3 285.4h5M323.3 287.39h6M464.3 287.39h5M322.3 289.38h5M465.3 289.38h5M321.3 291.36h5M467.3 291.36h5M319.3 293.35h6M468.3 293.35h5M318.3 295.34h5M469.3 295.34h5M317.3 297.33h5M470.3 297.33h5M315.3 299.32h5M471.3 299.32h5M314.3 301.3h5M472.3 301.3h5M312.3 303.29h6M473.3 303.29h5M310.3 305.28h6M474.3 305.28h5M309.3 307.27h5M475.3 307.27h5M309.3 309.26h3M476.3 309.26h5M309.3 311.24h1M477.3 311.24h5M478.3 313.23h4M479.3 315.22h4M479.3 317.21h5M480.3 319.2h5M481.3 321.18h5M482.3 323.17h5M483.3 325.16h5M484.3 327.15h4M485.3 329.14h4M485.3 331.12h5M486.3 333.11h5M487.3 335.1h4"/></g>
<path d="M27 186.2v-2M27 18.5v2M32.32 186.2v-1.2M32.32 18.5v1.2M37.64 186.2v-1.2M37.64 18.5v1.2M42.96 186.2v-1.2M42.96 18.5v1.2M48.28 186.2v-2M48.28 18.5v2M53.6 186.2v-1.2M53.6 18.5v1.2M58.92 186.2v-1.2M58.92 18.5v1.2M64.24 186.2v-1.2M64.24 18.5v1.2M69.56 186.2v-2M69.56 18.5v2M74.88 186.2v-1.2M74.88 18.5v1.2M80.19 186.2v-1.2M80.19 18.5v1.2M85.51 186.2v-1.2M85.51 18.5v1.2M90.83 186.2v-2M90.83 18.5v2M96.15 186.2v-1.2M96.15 18.5v1.2M101.47 186.2v-1.2M101.47 18.5v1.2M106.79 186.2v-1.2M106.79 18.5v1.2M112.11 186.2v-2M112.11 18.5v2M117.43 186.2v-1.2M117.43 18.5v1.2M122.75 186.2v-1.2M122.75 18.5v1.2M128.07 186.2v-1.2M128.07 18.5v1.2M133.39 186.2v-2M133.39 18.5v2M138.71 186.2v-1.2M138.71 18.5v1.2M144.03 186.2v-1.2M144.03 18.5v1.2M149.35 186.2v-1.2M149.35 18.5v1.2M154.67 186.2v-2M154.67 18.5v2M159.99 186.2v-1.2M159.99 18.5v1.2M165.31 186.2v-1.2M165.31 18.5v1.2M170.62 186.2v-1.2M170.62 18.5v1.2M175.94 186.2v-2M175.94 18.5v2M181.26 186.2v-1.2M181.26 18.5v1.2M186.58 186.2v-1.2M186.58 18.5v1.2M191.9 186.2v-1.2M191.9 18.5v1.2M197.22 186.2v-2M197.22 18.5v2M202.54 186.2v-1.2M202.54 18.5v1.2M207.86 186.2v-1.2M207.86 18.5v1.2M213.18 186.2v-1.2M213.18 18.5v1.2M218.5 186.2v-2M218.5 18.5v2M27 18.5h2M218.5 18.5h-2M27 24.09h1.2M218.5 24.09h-1.2M27 29.68h1.2M218.5 29.68h-1.2M27 35.27h1.2M218.5 35.27h-1.2M27 40.86h1.2M218.5 40.86h-1.2M27 46.45h2M218.5 46.45h-2M27 52.04h1.2M218.5 52.04h-1.2M27 57.63h1.2M218.5 57.63h-1.2M27 63.22h1.2M218.5 63.22h-1.2M27 68.81h1.2M218.5 68.81h-1.2M27 74.4h2M218.5 74.4h-2M27 79.99h1.2M218.5 79.99h-1.2M27 85.58h1.2M218.5 85.58h-1.2M27 91.17h1.2M218.5 91.17h-1.2M27 96.76h1.2M218.5 96.76h-1.2M27 102.35h2M218.5 102.35h-2M27 107.94h1.2M218.5 107.94h-1.2M27 113.53h1.2M218.5 113.53h-1.2M27 119.12h1.2M218.5 119.12h-1.2M27 124.71h1.2M218.5 124.71h-1.2M27 130.3h2M218.5 130.3h-2M27 135.89h1.2M218.5 135.89h-1.2M27 141.48h1.2M218.5 141.48h-1.2M27 147.07h1.2M218.5 147.07h-1.2M27 152.66h1.2M218.5 152.66h-1.2M27 158.25h2M218.5 158.25h-2M27 163.84h1.2M218.5 163.84h-1.2M27 169.43h1.2M218.5 169.43h-1.2M27 175.02h1.2M218.5 175.02h-1.2M27 180.61h1.2M218.5 180.61h-1.2M27 186.2h2M218.5 186.2h-2" stroke="#262626" stroke-width="0.7" fill="none"/>
<rect x="27" y="18.5" width="191.5" height="167.7" fill="none" stroke="#262626" stroke-width="0.75"/>
<g font-family="'Liberation Serif', serif" font-size="7" fill="#262626"><text x="27" y="194.5" text-anchor="middle">−45</text><text x="48.28" y="194.5" text-anchor="middle">−35</text><text x="69.56" y="194.5" text-anchor="middle">−25</text><text x="90.83" y="194.5" text-anchor="middle">−15</text><text x="112.11" y="194.5" text-anchor="middle">−5</text><text x="133.39" y="194.5" text-anchor="middle">5</text><text x="154.67" y="194.5" text-anchor="middle">15</text><text x="175.94" y="194.5" text-anchor="middle">25</text><text x="197.22" y="194.5" text-anchor="middle">35</text><text x="218.5" y="194.5" text-anchor="middle">45</text><text x="25" y="20.6" text-anchor="end">−15</text><text x="25" y="48.55" text-anchor="end">−10</text><text x="25" y="76.5" text-anchor="end">−5</text><text x="25" y="104.45" text-anchor="end">0</text><text x="25" y="132.4" text-anchor="end">5</text><text x="25" y="160.35" text-anchor="end">10</text><text x="25" y="188.3" text-anchor="end">15</text></g>
<text x="122.85" y="203.8" text-anchor="middle" font-family="'Liberation Serif', serif" font-size="6.9" fill="#262626">y-axis[mm]</text>
<text transform="translate(12.1 102.75) rotate(-90)" text-anchor="middle" font-family="'Liberation Serif', serif" font-size="6.9" fill="#262626">x-axis[mm]</text>
<text x="122.75" y="15.9" text-anchor="middle" font-family="'Liberation Serif', serif" font-size="7.6" fill="#262626">(a)</text>
<rect x="226.8" y="18.5" width="9.2" height="167.5" fill="url(#cbg)" stroke="#666" stroke-width="0.4"/>
<path d="M236 166.29h-1.3M236 138.99h-1.3M236 111.7h-1.3M236 84.4h-1.3M236 57.1h-1.3M236 29.8h-1.3" stroke="#262626" stroke-width="0.6"/>
<g font-family="'Liberation Serif', serif" font-size="6.6" fill="#333"><text x="239" y="168.39">1000</text><text x="239" y="141.09">1500</text><text x="239" y="113.8">2000</text><text x="239" y="86.5">2500</text><text x="239" y="59.2">3000</text><text x="239" y="31.9">3500</text></g>
<path d="M309.3 186.2v-2M309.3 18.5v2M314.61 186.2v-1.2M314.61 18.5v1.2M319.92 186.2v-1.2M319.92 18.5v1.2M325.23 186.2v-1.2M325.23 18.5v1.2M330.53 186.2v-2M330.53 18.5v2M335.84 186.2v-1.2M335.84 18.5v1.2M341.15 186.2v-1.2M341.15 18.5v1.2M346.46 186.2v-1.2M346.46 18.5v1.2M351.77 186.2v-2M351.77 18.5v2M357.07 186.2v-1.2M357.07 18.5v1.2M362.38 186.2v-1.2M362.38 18.5v1.2M367.69 186.2v-1.2M367.69 18.5v1.2M373 186.2v-2M373 18.5v2M378.31 186.2v-1.2M378.31 18.5v1.2M383.62 186.2v-1.2M383.62 18.5v1.2M388.93 186.2v-1.2M388.93 18.5v1.2M394.23 186.2v-2M394.23 18.5v2M399.54 186.2v-1.2M399.54 18.5v1.2M404.85 186.2v-1.2M404.85 18.5v1.2M410.16 186.2v-1.2M410.16 18.5v1.2M415.47 186.2v-2M415.47 18.5v2M420.77 186.2v-1.2M420.77 18.5v1.2M426.08 186.2v-1.2M426.08 18.5v1.2M431.39 186.2v-1.2M431.39 18.5v1.2M436.7 186.2v-2M436.7 18.5v2M442.01 186.2v-1.2M442.01 18.5v1.2M447.32 186.2v-1.2M447.32 18.5v1.2M452.62 186.2v-1.2M452.62 18.5v1.2M457.93 186.2v-2M457.93 18.5v2M463.24 186.2v-1.2M463.24 18.5v1.2M468.55 186.2v-1.2M468.55 18.5v1.2M473.86 186.2v-1.2M473.86 18.5v1.2M479.17 186.2v-2M479.17 18.5v2M484.47 186.2v-1.2M484.47 18.5v1.2M489.78 186.2v-1.2M489.78 18.5v1.2M495.09 186.2v-1.2M495.09 18.5v1.2M500.4 186.2v-2M500.4 18.5v2M309.3 18.5h2M500.4 18.5h-2M309.3 24.09h1.2M500.4 24.09h-1.2M309.3 29.68h1.2M500.4 29.68h-1.2M309.3 35.27h1.2M500.4 35.27h-1.2M309.3 40.86h1.2M500.4 40.86h-1.2M309.3 46.45h2M500.4 46.45h-2M309.3 52.04h1.2M500.4 52.04h-1.2M309.3 57.63h1.2M500.4 57.63h-1.2M309.3 63.22h1.2M500.4 63.22h-1.2M309.3 68.81h1.2M500.4 68.81h-1.2M309.3 74.4h2M500.4 74.4h-2M309.3 79.99h1.2M500.4 79.99h-1.2M309.3 85.58h1.2M500.4 85.58h-1.2M309.3 91.17h1.2M500.4 91.17h-1.2M309.3 96.76h1.2M500.4 96.76h-1.2M309.3 102.35h2M500.4 102.35h-2M309.3 107.94h1.2M500.4 107.94h-1.2M309.3 113.53h1.2M500.4 113.53h-1.2M309.3 119.12h1.2M500.4 119.12h-1.2M309.3 124.71h1.2M500.4 124.71h-1.2M309.3 130.3h2M500.4 130.3h-2M309.3 135.89h1.2M500.4 135.89h-1.2M309.3 141.48h1.2M500.4 141.48h-1.2M309.3 147.07h1.2M500.4 147.07h-1.2M309.3 152.66h1.2M500.4 152.66h-1.2M309.3 158.25h2M500.4 158.25h-2M309.3 163.84h1.2M500.4 163.84h-1.2M309.3 169.43h1.2M500.4 169.43h-1.2M309.3 175.02h1.2M500.4 175.02h-1.2M309.3 180.61h1.2M500.4 180.61h-1.2M309.3 186.2h2M500.4 186.2h-2" stroke="#262626" stroke-width="0.7" fill="none"/>
<rect x="309.3" y="18.5" width="191.1" height="167.7" fill="none" stroke="#262626" stroke-width="0.75"/>
<g font-family="'Liberation Serif', serif" font-size="7" fill="#262626"><text x="309.3" y="194.5" text-anchor="middle">−45</text><text x="330.53" y="194.5" text-anchor="middle">−35</text><text x="351.77" y="194.5" text-anchor="middle">−25</text><text x="373" y="194.5" text-anchor="middle">−15</text><text x="394.23" y="194.5" text-anchor="middle">−5</text><text x="415.47" y="194.5" text-anchor="middle">5</text><text x="436.7" y="194.5" text-anchor="middle">15</text><text x="457.93" y="194.5" text-anchor="middle">25</text><text x="479.17" y="194.5" text-anchor="middle">35</text><text x="500.4" y="194.5" text-anchor="middle">45</text><text x="307.3" y="20.6" text-anchor="end">−15</text><text x="307.3" y="48.55" text-anchor="end">−10</text><text x="307.3" y="76.5" text-anchor="end">−5</text><text x="307.3" y="104.45" text-anchor="end">0</text><text x="307.3" y="132.4" text-anchor="end">5</text><text x="307.3" y="160.35" text-anchor="end">10</text><text x="307.3" y="188.3" text-anchor="end">15</text></g>
<text x="404.95" y="203.8" text-anchor="middle" font-family="'Liberation Serif', serif" font-size="7.5" fill="#262626">y-axis[mm]</text>
<text transform="translate(293.2 102.75) rotate(-90)" text-anchor="middle" font-family="'Liberation Serif', serif" font-size="7.5" fill="#262626">x-axis[mm]</text>
<text x="404.85" y="15.9" text-anchor="middle" font-family="'Liberation Serif', serif" font-size="7.6" fill="#262626">(b)</text>
<rect x="509.2" y="18.5" width="9.1" height="167.7" fill="url(#cbg)" stroke="#666" stroke-width="0.4"/>
<path d="M518.3 186.2h-1.3M518.3 161.68h-1.3M518.3 137.16h-1.3M518.3 112.65h-1.3M518.3 88.13h-1.3M518.3 63.61h-1.3M518.3 39.09h-1.3" stroke="#262626" stroke-width="0.6"/>
<g font-family="'Liberation Serif', serif" font-size="6.6" fill="#333"><text x="521.3" y="188.3">0</text><text x="521.3" y="163.78">0.5</text><text x="521.3" y="139.26">1</text><text x="521.3" y="114.75">1.5</text><text x="521.3" y="90.23">2</text><text x="521.3" y="65.71">2.5</text><text x="521.3" y="41.19">3</text></g>
<path d="M27 392.3v-2M27 224.4v2M32.32 392.3v-1.2M32.32 224.4v1.2M37.64 392.3v-1.2M37.64 224.4v1.2M42.96 392.3v-1.2M42.96 224.4v1.2M48.28 392.3v-2M48.28 224.4v2M53.6 392.3v-1.2M53.6 224.4v1.2M58.92 392.3v-1.2M58.92 224.4v1.2M64.24 392.3v-1.2M64.24 224.4v1.2M69.56 392.3v-2M69.56 224.4v2M74.88 392.3v-1.2M74.88 224.4v1.2M80.19 392.3v-1.2M80.19 224.4v1.2M85.51 392.3v-1.2M85.51 224.4v1.2M90.83 392.3v-2M90.83 224.4v2M96.15 392.3v-1.2M96.15 224.4v1.2M101.47 392.3v-1.2M101.47 224.4v1.2M106.79 392.3v-1.2M106.79 224.4v1.2M112.11 392.3v-2M112.11 224.4v2M117.43 392.3v-1.2M117.43 224.4v1.2M122.75 392.3v-1.2M122.75 224.4v1.2M128.07 392.3v-1.2M128.07 224.4v1.2M133.39 392.3v-2M133.39 224.4v2M138.71 392.3v-1.2M138.71 224.4v1.2M144.03 392.3v-1.2M144.03 224.4v1.2M149.35 392.3v-1.2M149.35 224.4v1.2M154.67 392.3v-2M154.67 224.4v2M159.99 392.3v-1.2M159.99 224.4v1.2M165.31 392.3v-1.2M165.31 224.4v1.2M170.62 392.3v-1.2M170.62 224.4v1.2M175.94 392.3v-2M175.94 224.4v2M181.26 392.3v-1.2M181.26 224.4v1.2M186.58 392.3v-1.2M186.58 224.4v1.2M191.9 392.3v-1.2M191.9 224.4v1.2M197.22 392.3v-2M197.22 224.4v2M202.54 392.3v-1.2M202.54 224.4v1.2M207.86 392.3v-1.2M207.86 224.4v1.2M213.18 392.3v-1.2M213.18 224.4v1.2M218.5 392.3v-2M218.5 224.4v2M27 224.4h2M218.5 224.4h-2M27 231.12h1.2M218.5 231.12h-1.2M27 237.83h1.2M218.5 237.83h-1.2M27 244.55h1.2M218.5 244.55h-1.2M27 251.26h1.2M218.5 251.26h-1.2M27 257.98h2M218.5 257.98h-2M27 264.7h1.2M218.5 264.7h-1.2M27 271.41h1.2M218.5 271.41h-1.2M27 278.13h1.2M218.5 278.13h-1.2M27 284.84h1.2M218.5 284.84h-1.2M27 291.56h2M218.5 291.56h-2M27 298.28h1.2M218.5 298.28h-1.2M27 304.99h1.2M218.5 304.99h-1.2M27 311.71h1.2M218.5 311.71h-1.2M27 318.42h1.2M218.5 318.42h-1.2M27 325.14h2M218.5 325.14h-2M27 331.86h1.2M218.5 331.86h-1.2M27 338.57h1.2M218.5 338.57h-1.2M27 345.29h1.2M218.5 345.29h-1.2M27 352h1.2M218.5 352h-1.2M27 358.72h2M218.5 358.72h-2M27 365.44h1.2M218.5 365.44h-1.2M27 372.15h1.2M218.5 372.15h-1.2M27 378.87h1.2M218.5 378.87h-1.2M27 385.58h1.2M218.5 385.58h-1.2M27 392.3h2M218.5 392.3h-2" stroke="#262626" stroke-width="0.7" fill="none"/>
<rect x="27" y="224.4" width="191.5" height="167.9" fill="none" stroke="#262626" stroke-width="0.75"/>
<g font-family="'Liberation Serif', serif" font-size="7" fill="#262626"><text x="27" y="400.6" text-anchor="middle">−45</text><text x="48.28" y="400.6" text-anchor="middle">−35</text><text x="69.56" y="400.6" text-anchor="middle">−25</text><text x="90.83" y="400.6" text-anchor="middle">−15</text><text x="112.11" y="400.6" text-anchor="middle">−5</text><text x="133.39" y="400.6" text-anchor="middle">5</text><text x="154.67" y="400.6" text-anchor="middle">15</text><text x="175.94" y="400.6" text-anchor="middle">25</text><text x="197.22" y="400.6" text-anchor="middle">35</text><text x="218.5" y="400.6" text-anchor="middle">45</text><text x="25" y="226.5" text-anchor="end">−10</text><text x="25" y="260.08" text-anchor="end">−5</text><text x="25" y="293.66" text-anchor="end">0</text><text x="25" y="327.24" text-anchor="end">5</text><text x="25" y="360.82" text-anchor="end">10</text><text x="25" y="394.4" text-anchor="end">15</text></g>
<text x="122.85" y="409.9" text-anchor="middle" font-family="'Liberation Serif', serif" font-size="7.5" fill="#262626">y-axis[mm]</text>
<text transform="translate(10.9 308.75) rotate(-90)" text-anchor="middle" font-family="'Liberation Serif', serif" font-size="7.5" fill="#262626">x-axis[mm]</text>
<text x="122.75" y="221.8" text-anchor="middle" font-family="'Liberation Serif', serif" font-size="7.6" fill="#262626">(c)</text>
<rect x="226.8" y="224.3" width="9.4" height="167.9" fill="url(#cbg)" stroke="#666" stroke-width="0.4"/>
<path d="M236.2 372.69h-1.3M236.2 345.51h-1.3M236.2 318.33h-1.3M236.2 291.16h-1.3M236.2 263.98h-1.3M236.2 236.8h-1.3" stroke="#262626" stroke-width="0.6"/>
<g font-family="'Liberation Serif', serif" font-size="6.6" fill="#333"><text x="239.2" y="374.79">1000</text><text x="239.2" y="347.61">1500</text><text x="239.2" y="320.43">2000</text><text x="239.2" y="293.26">2500</text><text x="239.2" y="266.08">3000</text><text x="239.2" y="238.9">3500</text></g>
<path d="M309.3 392.3v-2M309.3 224.4v2M314.61 392.3v-1.2M314.61 224.4v1.2M319.92 392.3v-1.2M319.92 224.4v1.2M325.23 392.3v-1.2M325.23 224.4v1.2M330.53 392.3v-2M330.53 224.4v2M335.84 392.3v-1.2M335.84 224.4v1.2M341.15 392.3v-1.2M341.15 224.4v1.2M346.46 392.3v-1.2M346.46 224.4v1.2M351.77 392.3v-2M351.77 224.4v2M357.07 392.3v-1.2M357.07 224.4v1.2M362.38 392.3v-1.2M362.38 224.4v1.2M367.69 392.3v-1.2M367.69 224.4v1.2M373 392.3v-2M373 224.4v2M378.31 392.3v-1.2M378.31 224.4v1.2M383.62 392.3v-1.2M383.62 224.4v1.2M388.93 392.3v-1.2M388.93 224.4v1.2M394.23 392.3v-2M394.23 224.4v2M399.54 392.3v-1.2M399.54 224.4v1.2M404.85 392.3v-1.2M404.85 224.4v1.2M410.16 392.3v-1.2M410.16 224.4v1.2M415.47 392.3v-2M415.47 224.4v2M420.77 392.3v-1.2M420.77 224.4v1.2M426.08 392.3v-1.2M426.08 224.4v1.2M431.39 392.3v-1.2M431.39 224.4v1.2M436.7 392.3v-2M436.7 224.4v2M442.01 392.3v-1.2M442.01 224.4v1.2M447.32 392.3v-1.2M447.32 224.4v1.2M452.62 392.3v-1.2M452.62 224.4v1.2M457.93 392.3v-2M457.93 224.4v2M463.24 392.3v-1.2M463.24 224.4v1.2M468.55 392.3v-1.2M468.55 224.4v1.2M473.86 392.3v-1.2M473.86 224.4v1.2M479.17 392.3v-2M479.17 224.4v2M484.47 392.3v-1.2M484.47 224.4v1.2M489.78 392.3v-1.2M489.78 224.4v1.2M495.09 392.3v-1.2M495.09 224.4v1.2M500.4 392.3v-2M500.4 224.4v2M309.3 224.4h2M500.4 224.4h-2M309.3 231.12h1.2M500.4 231.12h-1.2M309.3 237.83h1.2M500.4 237.83h-1.2M309.3 244.55h1.2M500.4 244.55h-1.2M309.3 251.26h1.2M500.4 251.26h-1.2M309.3 257.98h2M500.4 257.98h-2M309.3 264.7h1.2M500.4 264.7h-1.2M309.3 271.41h1.2M500.4 271.41h-1.2M309.3 278.13h1.2M500.4 278.13h-1.2M309.3 284.84h1.2M500.4 284.84h-1.2M309.3 291.56h2M500.4 291.56h-2M309.3 298.28h1.2M500.4 298.28h-1.2M309.3 304.99h1.2M500.4 304.99h-1.2M309.3 311.71h1.2M500.4 311.71h-1.2M309.3 318.42h1.2M500.4 318.42h-1.2M309.3 325.14h2M500.4 325.14h-2M309.3 331.86h1.2M500.4 331.86h-1.2M309.3 338.57h1.2M500.4 338.57h-1.2M309.3 345.29h1.2M500.4 345.29h-1.2M309.3 352h1.2M500.4 352h-1.2M309.3 358.72h2M500.4 358.72h-2M309.3 365.44h1.2M500.4 365.44h-1.2M309.3 372.15h1.2M500.4 372.15h-1.2M309.3 378.87h1.2M500.4 378.87h-1.2M309.3 385.58h1.2M500.4 385.58h-1.2M309.3 392.3h2M500.4 392.3h-2" stroke="#262626" stroke-width="0.7" fill="none"/>
<rect x="309.3" y="224.4" width="191.1" height="167.9" fill="none" stroke="#262626" stroke-width="0.75"/>
<g font-family="'Liberation Serif', serif" font-size="7" fill="#262626"><text x="309.3" y="400.6" text-anchor="middle">−45</text><text x="330.53" y="400.6" text-anchor="middle">−35</text><text x="351.77" y="400.6" text-anchor="middle">−25</text><text x="373" y="400.6" text-anchor="middle">−15</text><text x="394.23" y="400.6" text-anchor="middle">−5</text><text x="415.47" y="400.6" text-anchor="middle">5</text><text x="436.7" y="400.6" text-anchor="middle">15</text><text x="457.93" y="400.6" text-anchor="middle">25</text><text x="479.17" y="400.6" text-anchor="middle">35</text><text x="500.4" y="400.6" text-anchor="middle">45</text><text x="307.3" y="226.5" text-anchor="end">−10</text><text x="307.3" y="260.08" text-anchor="end">−5</text><text x="307.3" y="293.66" text-anchor="end">0</text><text x="307.3" y="327.24" text-anchor="end">5</text><text x="307.3" y="360.82" text-anchor="end">10</text><text x="307.3" y="394.4" text-anchor="end">15</text></g>
<text x="404.95" y="409.9" text-anchor="middle" font-family="'Liberation Serif', serif" font-size="7.5" fill="#262626">y-axis[mm]</text>
<text transform="translate(293.2 308.75) rotate(-90)" text-anchor="middle" font-family="'Liberation Serif', serif" font-size="7.5" fill="#262626">x-axis[mm]</text>
<text x="404.85" y="221.8" text-anchor="middle" font-family="'Liberation Serif', serif" font-size="7.6" fill="#262626">(d)</text>
<rect x="509.2" y="224.4" width="9.3" height="167.9" fill="url(#cbg)" stroke="#666" stroke-width="0.4"/>
<path d="M518.5 392.3h-1.3M518.5 375.81h-1.3M518.5 359.31h-1.3M518.5 342.82h-1.3M518.5 326.33h-1.3M518.5 309.83h-1.3M518.5 293.34h-1.3M518.5 276.85h-1.3M518.5 260.36h-1.3M518.5 243.86h-1.3M518.5 227.37h-1.3" stroke="#262626" stroke-width="0.6"/>
<g font-family="'Liberation Serif', serif" font-size="6.6" fill="#333"><text x="521.5" y="394.4">0</text><text x="521.5" y="377.91">2</text><text x="521.5" y="361.41">4</text><text x="521.5" y="344.92">6</text><text x="521.5" y="328.43">8</text><text x="521.5" y="311.93">10</text><text x="521.5" y="295.44">12</text><text x="521.5" y="278.95">14</text><text x="521.5" y="262.46">16</text><text x="521.5" y="245.96">18</text><text x="521.5" y="229.47">20</text></g>
<rect x="102.6" y="61.6" width="48.6" height="19.6" fill="none" stroke="#f0141c" stroke-width="1.0"/>
<rect x="96.9" y="250.2" width="45.9" height="22.0" fill="none" stroke="#f0141c" stroke-width="1.0"/>
<rect x="62.5" y="67.3" width="35.3" height="12.4" fill="#ffffff" fill-opacity="0.12" stroke="#ffffff" stroke-opacity="0.75" stroke-width="0.6"/>
<path d="M112.00 51.20L87.04 39.29" stroke="#1a1a1a" stroke-width="0.55" fill="none"/><path d="M83.70 37.70L88.04 37.89L86.58 40.96z" fill="#1a1a1a"/>
<path d="M135.20 71.00L146.53 42.64" stroke="#1a1a1a" stroke-width="0.55" fill="none"/><path d="M147.90 39.20L148.00 43.55L144.84 42.28z" fill="#1a1a1a"/>
<path d="M145.00 67.50L174.20 52.67" stroke="#1a1a1a" stroke-width="0.55" fill="none"/><path d="M177.50 51.00L174.70 54.33L173.16 51.29z" fill="#1a1a1a"/>
<path d="M106.20 88.00L103.85 112.72" stroke="#1a1a1a" stroke-width="0.55" fill="none"/><path d="M103.50 116.40L102.19 112.26L105.57 112.58z" fill="#1a1a1a"/>
<path d="M402.60 72.10L392.12 118.29" stroke="#1a1a1a" stroke-width="0.55" fill="none"/><path d="M391.30 121.90L390.53 117.62L393.84 118.38z" fill="#1a1a1a"/>
<path d="M84.90 249.00L72.52 245.03" stroke="#1a1a1a" stroke-width="0.55" fill="none"/><path d="M69.00 243.90L73.33 243.50L72.29 246.74z" fill="#1a1a1a"/>
<path d="M142.80 255.60L165.08 248.43" stroke="#1a1a1a" stroke-width="0.55" fill="none"/><path d="M168.60 247.30L165.31 250.14L164.27 246.91z" fill="#1a1a1a"/>
<path d="M101.40 281.90L98.72 313.01" stroke="#1a1a1a" stroke-width="0.55" fill="none"/><path d="M98.40 316.70L97.05 312.57L100.44 312.86z" fill="#1a1a1a"/>
<path d="M399.30 262.70L389.57 315.66" stroke="#1a1a1a" stroke-width="0.55" fill="none"/><path d="M388.90 319.30L387.95 315.06L391.29 315.67z" fill="#1a1a1a"/>
<g font-family="'Liberation Sans', Arial, sans-serif" font-size="6.9" fill="#262626"><text x="39.8" y="32.3" textLength="58.2" lengthAdjust="spacingAndGlyphs">Outer cortical bone</text><text x="40.4" y="76.0" textLength="50.2" lengthAdjust="spacingAndGlyphs">Trabecular bone</text><text x="147.6" y="33.2" textLength="13.6" lengthAdjust="spacingAndGlyphs">pore</text><text x="182.3" y="51.9" textLength="16.2" lengthAdjust="spacingAndGlyphs">Bone</text><text x="182.3" y="60.6" textLength="14.6" lengthAdjust="spacingAndGlyphs">layer</text><text x="89.8" y="130.6" textLength="56.8" lengthAdjust="spacingAndGlyphs">Inner cortical bone</text><text x="202.0" y="13.2" textLength="61.6" lengthAdjust="spacingAndGlyphs">sound velocity [m/s]</text><text x="452.7" y="12.5" textLength="95.5" lengthAdjust="spacingAndGlyphs">attenuation factor [dB/MHz/cm]</text><text x="366.6" y="135.4" textLength="70.9" lengthAdjust="spacingAndGlyphs">Low attenuation setting</text><text x="29.9" y="239.5" textLength="57.8" lengthAdjust="spacingAndGlyphs">Outer cortical bone</text><text x="170.6" y="237.3" textLength="53.1" lengthAdjust="spacingAndGlyphs">Missing structure</text><text x="170.6" y="246.8" textLength="38.4" lengthAdjust="spacingAndGlyphs">of pores and</text><text x="170.6" y="256.0" textLength="36.4" lengthAdjust="spacingAndGlyphs">bone layers</text><text x="82.8" y="328.3" textLength="56.2" lengthAdjust="spacingAndGlyphs">Inner cortical bone</text><text x="202.8" y="219.8" textLength="61.4" lengthAdjust="spacingAndGlyphs">sound velocity [m/s]</text><text x="450.7" y="219.4" textLength="95.0" lengthAdjust="spacingAndGlyphs">attenuation factor [dB/MHz/cm]</text><text x="361.6" y="334.7" textLength="72.5" lengthAdjust="spacingAndGlyphs">High attenuation setting</text></g></svg>
</body></html>
